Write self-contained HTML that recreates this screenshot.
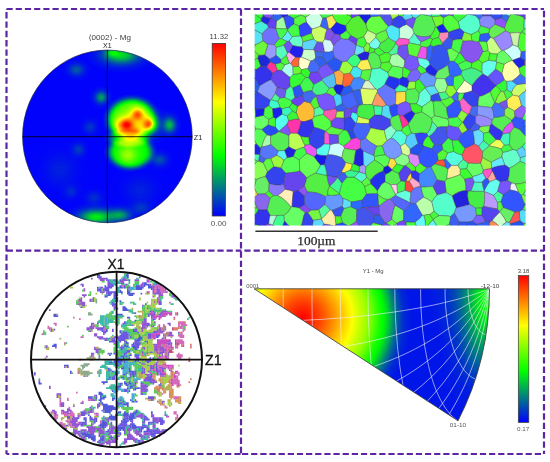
<!DOCTYPE html>
<html><head><meta charset="utf-8"><style>html,body{margin:0;padding:0;background:#fff;}svg{display:block;filter:blur(0.6px);}</style></head>
<body><svg width="550" height="462" viewBox="0 0 550 462">
<defs><filter id="jet" x="0" y="0" width="1" height="1" color-interpolation-filters="sRGB"><feComponentTransfer><feFuncR type="table" tableValues="0 0 0 0 0 0 0 0 0 0 0 0 0 0 0 0 0 0 0 0 0 0 0 0 0 0 0 0 0 0 0 0 0 0 0 0 0.032 0.065 0.097 0.129 0.161 0.194 0.226 0.258 0.29 0.323 0.355 0.387 0.419 0.452 0.484 0.516 0.548 0.581 0.613 0.645 0.677 0.71 0.742 0.774 0.806 0.839 0.871 0.903 0.935 0.968 1 1 1 1 1 1 1 1 1 1 1 1 1 1 1 1 1 1 1 1 1 1 1 1 1 1 1 1 1 1 1 1 1 1 1"/><feFuncG type="table" tableValues="0 0.029 0.057 0.086 0.114 0.143 0.171 0.2 0.229 0.257 0.286 0.314 0.343 0.371 0.4 0.429 0.457 0.486 0.514 0.543 0.571 0.6 0.629 0.657 0.686 0.714 0.743 0.771 0.8 0.829 0.857 0.886 0.914 0.943 0.971 1 1 1 1 1 1 1 1 1 1 1 1 1 1 1 1 1 1 1 1 1 1 1 1 1 1 1 1 1 1 1 1 0.971 0.941 0.912 0.882 0.853 0.824 0.794 0.765 0.735 0.706 0.676 0.647 0.618 0.588 0.559 0.529 0.5 0.471 0.441 0.412 0.382 0.353 0.324 0.294 0.265 0.235 0.206 0.176 0.147 0.118 0.088 0.059 0.029 0"/><feFuncB type="table" tableValues="1 0.971 0.943 0.914 0.886 0.857 0.829 0.8 0.771 0.743 0.714 0.686 0.657 0.629 0.6 0.571 0.543 0.514 0.486 0.457 0.429 0.4 0.371 0.343 0.314 0.286 0.257 0.229 0.2 0.171 0.143 0.114 0.086 0.057 0.029 0 0 0 0 0 0 0 0 0 0 0 0 0 0 0 0 0 0 0 0 0 0 0 0 0 0 0 0 0 0 0 0 0 0 0 0 0 0 0 0 0 0 0 0 0 0 0 0 0 0 0 0 0 0 0 0 0 0 0 0 0 0 0 0 0 0"/></feComponentTransfer></filter>
<radialGradient id="g"><stop offset="0.000" stop-color="#fff" stop-opacity="1.000"/><stop offset="0.083" stop-color="#fff" stop-opacity="0.969"/><stop offset="0.167" stop-color="#fff" stop-opacity="0.882"/><stop offset="0.250" stop-color="#fff" stop-opacity="0.755"/><stop offset="0.333" stop-color="#fff" stop-opacity="0.607"/><stop offset="0.417" stop-color="#fff" stop-opacity="0.458"/><stop offset="0.500" stop-color="#fff" stop-opacity="0.325"/><stop offset="0.583" stop-color="#fff" stop-opacity="0.216"/><stop offset="0.667" stop-color="#fff" stop-opacity="0.135"/><stop offset="0.750" stop-color="#fff" stop-opacity="0.080"/><stop offset="0.833" stop-color="#fff" stop-opacity="0.044"/><stop offset="0.917" stop-color="#fff" stop-opacity="0.023"/><stop offset="1.000" stop-color="#fff" stop-opacity="0.000"/></radialGradient>
<radialGradient id="gp"><stop offset="0.00" stop-color="#fff" stop-opacity="1.000"/><stop offset="0.30" stop-color="#fff" stop-opacity="0.980"/><stop offset="0.50" stop-color="#fff" stop-opacity="0.940"/><stop offset="0.60" stop-color="#fff" stop-opacity="0.880"/><stop offset="0.70" stop-color="#fff" stop-opacity="0.660"/><stop offset="0.77" stop-color="#fff" stop-opacity="0.450"/><stop offset="0.85" stop-color="#fff" stop-opacity="0.200"/><stop offset="0.93" stop-color="#fff" stop-opacity="0.070"/><stop offset="1.00" stop-color="#fff" stop-opacity="0.000"/></radialGradient>
<linearGradient id="cbar" x1="0" y1="0" x2="0" y2="1"><stop offset="0.00" stop-color="#ff0000"/><stop offset="0.34" stop-color="#ffff00"/><stop offset="0.65" stop-color="#00ff00"/><stop offset="1.00" stop-color="#0000ff"/></linearGradient>
<clipPath id="pf1"><ellipse cx="107.4" cy="136.4" rx="84.8" ry="86.3"/></clipPath>
<clipPath id="emap"><rect x="254.7" y="14.6" width="270.9" height="210.9"/></clipPath>
<clipPath id="tri"><path d="M254.2 288.8L489.5 288.8A235.3 264.0 0 0 1 458.0 420.8Z"/></clipPath>
<radialGradient id="ipfg" gradientUnits="userSpaceOnUse" cx="303" cy="318" r="108"><stop offset="0.000" stop-color="rgb(255,255,255)"/><stop offset="0.093" stop-color="rgb(242,242,242)"/><stop offset="0.185" stop-color="rgb(227,227,227)"/><stop offset="0.278" stop-color="rgb(207,207,207)"/><stop offset="0.370" stop-color="rgb(186,186,186)"/><stop offset="0.444" stop-color="rgb(171,171,171)"/><stop offset="0.519" stop-color="rgb(153,153,153)"/><stop offset="0.583" stop-color="rgb(140,140,140)"/><stop offset="0.648" stop-color="rgb(120,120,120)"/><stop offset="0.704" stop-color="rgb(99,99,99)"/><stop offset="0.759" stop-color="rgb(84,84,84)"/><stop offset="0.806" stop-color="rgb(64,64,64)"/><stop offset="0.843" stop-color="rgb(46,46,46)"/><stop offset="0.889" stop-color="rgb(28,28,28)"/><stop offset="0.935" stop-color="rgb(15,15,15)"/><stop offset="1.000" stop-color="rgb(8,8,8)"/></radialGradient></defs>
<rect width="550" height="462" fill="#fff"/>
<g clip-path="url(#pf1)"><g filter="url(#jet)">
<rect x="20" y="48" width="176" height="178" fill="rgb(1,1,1)"/>
<ellipse cx="121" cy="55" rx="36" ry="18" fill="url(#g)" opacity="0.300" style="mix-blend-mode:plus-lighter"/>
<ellipse cx="112" cy="52" rx="12" ry="9" fill="url(#g)" opacity="0.150" style="mix-blend-mode:plus-lighter"/>
<ellipse cx="76.5" cy="69.7" rx="15" ry="12" fill="url(#g)" opacity="0.120" style="mix-blend-mode:plus-lighter"/>
<ellipse cx="101.2" cy="97.4" rx="12" ry="12" fill="url(#g)" opacity="0.210" style="mix-blend-mode:plus-lighter"/>
<ellipse cx="89.9" cy="127.2" rx="12" ry="12" fill="url(#g)" opacity="0.070" style="mix-blend-mode:plus-lighter"/>
<ellipse cx="78.6" cy="149.5" rx="12" ry="12" fill="url(#g)" opacity="0.080" style="mix-blend-mode:plus-lighter"/>
<ellipse cx="71" cy="191.6" rx="12" ry="12" fill="url(#g)" opacity="0.050" style="mix-blend-mode:plus-lighter"/>
<ellipse cx="94" cy="197.8" rx="15" ry="12" fill="url(#g)" opacity="0.060" style="mix-blend-mode:plus-lighter"/>
<ellipse cx="96" cy="217" rx="33" ry="15" fill="url(#g)" opacity="0.330" style="mix-blend-mode:plus-lighter"/>
<ellipse cx="120" cy="215" rx="21" ry="12" fill="url(#g)" opacity="0.200" style="mix-blend-mode:plus-lighter"/>
<ellipse cx="141" cy="208" rx="18" ry="12" fill="url(#g)" opacity="0.070" style="mix-blend-mode:plus-lighter"/>
<ellipse cx="159.4" cy="159.8" rx="15" ry="12" fill="url(#g)" opacity="0.110" style="mix-blend-mode:plus-lighter"/>
<ellipse cx="169.7" cy="125" rx="12" ry="15" fill="url(#g)" opacity="0.250" style="mix-blend-mode:plus-lighter"/>
<ellipse cx="60" cy="170" rx="30" ry="30" fill="url(#g)" opacity="0.040" style="mix-blend-mode:plus-lighter"/>
<ellipse cx="140" cy="190" rx="30" ry="24" fill="url(#g)" opacity="0.040" style="mix-blend-mode:plus-lighter"/>
<ellipse cx="127.6" cy="155" rx="18" ry="18" fill="url(#g)" opacity="0.160" style="mix-blend-mode:plus-lighter"/>
<ellipse cx="126.6" cy="125.1" rx="22.5" ry="21" fill="url(#g)" opacity="0.220" style="mix-blend-mode:plus-lighter"/>
<ellipse cx="126.6" cy="125.1" rx="13.5" ry="12.6" fill="url(#g)" opacity="0.320" style="mix-blend-mode:plus-lighter"/>
<ellipse cx="149.5" cy="124.7" rx="22.5" ry="21" fill="url(#g)" opacity="0.230" style="mix-blend-mode:plus-lighter"/>
<ellipse cx="149.2" cy="124.7" rx="12" ry="12" fill="url(#g)" opacity="0.270" style="mix-blend-mode:plus-lighter"/>
<ellipse cx="137.5" cy="114.4" rx="19.5" ry="19.5" fill="url(#g)" opacity="0.170" style="mix-blend-mode:plus-lighter"/>
<ellipse cx="137.5" cy="114.4" rx="11.4" ry="11.4" fill="url(#g)" opacity="0.230" style="mix-blend-mode:plus-lighter"/>
<ellipse cx="136" cy="130" rx="12" ry="9" fill="url(#g)" opacity="0.160" style="mix-blend-mode:plus-lighter"/>
<ellipse cx="118" cy="127" rx="12" ry="18" fill="url(#g)" opacity="0.120" style="mix-blend-mode:plus-lighter"/>
<ellipse cx="131.5" cy="119" rx="29" ry="25" fill="url(#gp)" opacity="0.460" style="mix-blend-mode:plus-lighter"/>
<ellipse cx="130.5" cy="152" rx="27" ry="20" fill="url(#gp)" opacity="0.380" style="mix-blend-mode:plus-lighter"/>
<ellipse cx="129" cy="138" rx="26" ry="11" fill="url(#gp)" opacity="0.180" style="mix-blend-mode:plus-lighter"/>
</g></g>
<ellipse cx="107.4" cy="136.4" rx="84.8" ry="86.3" fill="none" stroke="#18204a" stroke-width="0.7"/>
<line x1="107.4" y1="50" x2="107.4" y2="222.7" stroke="#000" stroke-opacity="0.65" stroke-width="1.2"/>
<line x1="22.6" y1="136.6" x2="192.3" y2="136.6" stroke="#000" stroke-opacity="0.65" stroke-width="1.2"/>
<rect x="212.2" y="43.4" width="13.2" height="172.6" fill="url(#cbar)" stroke="#3a3a3a" stroke-width="0.8"/>
<g clip-path="url(#emap)">
<g stroke="#3a3a3a" stroke-width="0.38" stroke-linejoin="round">
<path fill="#ccffe6" d="M306.2 22.0 309.0 25.5 311.9 28.9 314.6 28.3 317.2 27.5 320.3 26.2 321.6 22.4 322.8 18.1 320.8 15.5 318.6 12.6 316.5 9.6 312.6 10.6 310.8 13.6 308.2 15.5 305.4 17.0Z"/>
<path fill="#ccff66" d="M313.6 39.0 317.1 41.9 322.7 42.4 324.7 39.3 325.5 34.0 327.0 29.4 323.7 27.8 320.3 26.2 317.2 27.5 314.6 28.3 311.9 28.9 311.3 33.2 312.6 36.0Z"/>
<path fill="#44eedd" d="M252.8 29.2 257.4 31.4 262.1 33.9 265.2 30.4 268.5 27.5 267.4 24.4 264.4 23.1 261.3 21.0 254.8 23.7 253.5 26.1Z"/>
<path fill="#3050ff" d="M286.6 28.9 287.6 29.7 290.5 26.7 294.0 23.9 293.9 18.5 289.3 15.7 288.3 15.5 283.5 17.2 284.3 20.3 285.3 24.0Z"/>
<path fill="#3344ff" d="M299.8 35.9 301.6 36.9 306.6 35.1 311.3 33.2 311.9 28.9 309.0 25.5 306.2 22.0 302.7 23.6 298.7 25.9 299.4 31.5Z"/>
<path fill="#a0ffa0" d="M275.8 28.4 275.8 28.4 279.5 28.7 283.1 28.8 286.6 28.9 285.3 24.0 284.3 20.3 283.5 17.2 282.2 17.1 276.4 21.1Z"/>
<path fill="#66ffcc" d="M289.2 41.0 292.6 45.6 296.0 46.2 299.0 46.8 302.2 47.0 303.0 41.7 301.6 36.9 299.8 35.9 295.6 36.1 292.1 36.5 290.9 38.8Z"/>
<path fill="#7070ff" d="M262.7 40.8 267.6 44.3 271.1 44.6 274.5 44.7 276.8 41.8 279.6 38.7 277.8 34.1 275.8 28.4 275.8 28.4 272.2 27.9 268.5 27.5 265.2 30.4 262.1 33.9Z"/>
<path fill="#2020ee" d="M289.1 52.2 292.4 55.1 295.6 57.5 299.6 57.7 301.1 57.2 302.6 54.0 303.5 49.3 302.2 47.0 299.0 46.8 296.0 46.2 292.6 45.6Z"/>
<path fill="#9999ff" d="M264.7 55.0 269.5 59.0 273.2 57.5 276.1 55.2 276.3 47.2 274.5 44.7 271.1 44.6 267.6 44.3 266.9 47.3 265.9 51.0Z"/>
<path fill="#55ffbb" d="M276.1 55.2 281.1 59.8 286.4 55.5 287.6 52.9 285.7 48.8 283.9 45.0 279.8 46.3 276.3 47.2Z"/>
<path fill="#7777ff" d="M334.3 57.7 338.1 59.6 342.1 61.9 347.1 61.3 349.8 57.5 354.2 54.3 355.4 49.7 356.2 45.0 352.3 42.0 348.2 39.3 341.1 38.4 337.0 41.5 333.6 45.7 332.7 50.7 333.6 54.2Z"/>
<path fill="#ccffcc" d="M301.1 57.2 305.7 58.9 310.7 61.1 314.0 59.9 315.8 57.2 315.2 54.0 314.9 51.1 313.3 49.6 308.2 49.6 303.5 49.3 302.6 54.0Z"/>
<path fill="#ffaaee" d="M289.3 63.2 290.8 63.7 293.0 60.1 295.6 57.5 292.4 55.1 289.1 52.2 287.6 52.9 286.4 55.5 287.8 59.4Z"/>
<path fill="#ff6633" d="M290.8 63.7 292.9 66.7 298.9 66.5 298.9 61.3 299.6 57.7 295.6 57.5 293.0 60.1Z"/>
<path fill="#ffffcc" d="M298.9 66.5 301.4 69.8 304.4 69.0 307.9 68.6 310.7 61.1 305.7 58.9 301.1 57.2 299.6 57.7 298.9 61.3Z"/>
<path fill="#ff3399" d="M266.5 67.1 269.7 70.1 272.9 73.4 277.5 70.0 276.3 66.4 275.4 63.9 270.4 61.9 268.1 64.2Z"/>
<path fill="#aaffee" d="M281.5 70.3 285.9 74.3 290.1 77.6 293.2 74.6 292.9 66.7 290.8 63.7 289.3 63.2 284.8 64.8Z"/>
<path fill="#7755ff" d="M317.6 71.9 319.9 75.3 322.2 79.0 326.8 76.6 330.9 74.6 333.9 72.9 334.1 71.8 331.9 69.5 329.4 66.9 327.0 63.5 324.1 65.0 319.9 67.1Z"/>
<path fill="#3333ee" d="M255.1 78.6 257.3 82.4 259.4 86.0 262.5 84.3 266.2 82.0 270.9 79.7 272.9 73.4 269.7 70.1 266.5 67.1 260.9 66.1 255.9 69.6 255.5 74.0Z"/>
<path fill="#6644ee" d="M270.9 79.7 272.8 82.0 274.8 84.5 277.0 87.7 281.8 88.5 286.2 89.7 290.2 86.6 289.8 81.6 290.1 77.6 285.9 74.3 281.5 70.3 277.5 70.0 272.9 73.4Z"/>
<path fill="#8899ff" d="M270.3 100.3 271.3 99.7 273.0 96.8 275.2 93.8 277.0 87.7 274.8 84.5 272.8 82.0 270.9 79.7 266.2 82.0 262.5 84.3 259.4 86.0 257.4 91.8 260.9 94.2 264.2 96.4 267.3 98.3Z"/>
<path fill="#ffaa44" d="M335.8 84.4 339.2 85.0 342.5 85.1 343.3 79.5 344.0 73.9 339.2 69.9 336.5 70.9 334.1 71.8 333.9 72.9 335.1 78.2Z"/>
<path fill="#3344ee" d="M248.5 103.7 251.7 106.5 255.2 109.2 259.7 108.9 264.3 108.6 269.1 105.6 270.3 100.3 267.3 98.3 264.2 96.4 260.9 94.2 257.4 91.8 255.7 92.2 252.7 95.8 250.1 99.6Z"/>
<path fill="#ffbb33" d="M296.3 112.8 298.8 119.1 301.1 121.4 304.6 121.6 308.2 120.6 312.3 119.0 314.0 116.9 314.4 113.5 314.1 108.6 310.5 103.0 304.2 101.2 301.0 104.3 297.4 106.5 296.7 109.7Z"/>
<path fill="#44ff44" d="M280.1 107.6 281.9 108.9 285.7 107.8 289.4 107.2 292.2 103.2 291.3 100.5 284.9 97.4 279.7 98.0 277.8 101.4Z"/>
<path fill="#7755ff" d="M319.3 106.7 323.9 110.8 329.2 110.0 335.1 108.8 336.1 106.7 334.9 101.6 333.5 96.5 329.9 94.3 326.2 93.2 321.7 94.4 317.0 95.2 316.1 96.5 317.5 101.0Z"/>
<path fill="#55ee33" d="M346.3 30.6 350.6 35.5 357.3 39.0 360.6 37.9 363.7 36.7 365.8 33.4 367.6 30.4 365.8 23.8 362.3 19.3 359.0 15.4 356.0 16.2 351.8 17.9 348.8 21.7 345.7 25.5Z"/>
<path fill="#66ff44" d="M367.6 30.4 371.6 32.2 376.0 34.4 381.1 32.0 385.9 30.2 388.4 26.3 385.7 23.3 382.9 19.5 380.0 15.8 375.9 16.3 371.3 16.5 367.8 19.9 365.8 23.8Z"/>
<path fill="#5555ee" d="M380.0 15.8 382.9 19.5 385.7 23.3 388.4 26.3 391.8 25.1 392.5 19.3 390.3 14.6 388.4 10.4 386.7 7.4 384.1 8.0 382.1 11.8Z"/>
<path fill="#3344ee" d="M391.8 25.1 395.3 26.8 399.2 28.5 403.0 26.0 406.8 24.4 405.6 20.2 402.1 16.5 398.6 15.5 392.5 19.3Z"/>
<path fill="#55ee55" d="M412.4 28.6 414.0 33.0 415.7 35.0 420.4 36.6 425.6 36.8 430.8 35.9 433.9 31.1 435.6 26.5 433.4 20.5 432.0 16.5 431.2 16.0 428.0 15.5 424.7 14.8 421.2 14.1 415.5 18.3 414.6 21.8 413.4 25.0Z"/>
<path fill="#ccff99" d="M366.6 43.0 369.2 43.8 372.4 40.7 376.1 37.4 376.0 34.4 371.6 32.2 367.6 30.4 365.8 33.4 363.7 36.7Z"/>
<path fill="#ccffdd" d="M398.9 38.3 404.1 38.5 409.1 39.6 412.0 36.8 414.0 33.0 412.4 28.6 406.8 24.4 403.0 26.0 399.2 28.5 399.4 33.1Z"/>
<path fill="#77ffee" d="M370.1 47.5 375.0 49.1 378.8 47.7 380.7 43.0 376.1 37.4 372.4 40.7 369.2 43.8Z"/>
<path fill="#44ee44" d="M378.8 47.7 381.6 50.4 384.8 52.7 388.4 52.8 391.4 50.0 393.7 47.0 395.8 43.6 395.8 41.8 392.3 40.2 388.5 37.7 385.0 40.5 380.7 43.0Z"/>
<path fill="#ff55cc" d="M398.3 46.4 402.6 45.2 407.4 44.9 409.5 43.0 409.1 39.6 404.1 38.5 398.9 38.3 395.8 41.8 395.8 43.6Z"/>
<path fill="#55ffcc" d="M409.1 39.6 409.5 43.0 413.3 43.7 416.8 44.5 420.1 45.1 421.2 41.9 418.6 39.4 415.7 35.0 414.0 33.0 412.0 36.8Z"/>
<path fill="#8866ff" d="M421.2 41.9 425.5 40.2 430.3 37.8 430.8 35.9 425.6 36.8 420.4 36.6 415.7 35.0 418.6 39.4Z"/>
<path fill="#ee55ee" d="M417.1 57.1 417.8 57.8 422.0 58.5 426.3 59.3 426.9 53.8 427.0 47.3 421.0 46.2 419.8 49.4 418.4 53.3Z"/>
<path fill="#3366ff" d="M426.3 59.3 429.3 61.8 431.1 57.9 432.1 52.4 433.3 46.4 430.3 45.1 427.0 47.3 426.9 53.8Z"/>
<path fill="#2222dd" d="M360.7 60.4 368.0 59.6 369.4 53.2 368.7 52.2 364.5 51.4 361.1 53.3 357.0 55.0Z"/>
<path fill="#ffee55" d="M356.8 66.9 361.9 70.4 366.7 69.8 371.4 69.3 371.6 69.0 369.9 64.2 368.0 59.6 360.7 60.4 358.5 63.8Z"/>
<path fill="#55ee55" d="M368.0 59.6 369.9 64.2 371.6 69.0 376.2 68.6 380.3 67.9 381.4 63.1 379.0 55.7 374.2 52.1 371.7 52.5 369.4 53.2Z"/>
<path fill="#aaffaa" d="M389.2 61.9 392.1 66.0 397.6 66.7 402.8 67.9 403.9 67.3 404.6 64.5 404.9 60.4 401.1 56.9 397.3 53.5 391.1 55.0Z"/>
<path fill="#7755ff" d="M403.9 67.3 407.3 69.3 410.8 71.0 417.2 68.8 419.5 65.3 418.5 61.7 417.8 57.8 417.1 57.1 412.7 55.7 408.5 54.4 404.9 60.4 404.6 64.5Z"/>
<path fill="#66ffee" d="M419.5 65.3 425.5 69.0 427.5 66.8 430.1 64.4 429.3 61.8 426.3 59.3 422.0 58.5 417.8 57.8 418.5 61.7Z"/>
<path fill="#ff6633" d="M342.5 85.1 344.1 87.0 350.0 85.6 351.8 81.7 354.1 77.9 350.1 73.0 344.0 73.9 343.3 79.5Z"/>
<path fill="#55ffcc" d="M368.6 80.6 370.9 83.3 373.1 86.0 375.5 88.9 377.3 89.8 380.7 87.9 382.9 86.1 384.9 84.2 386.6 80.4 389.0 76.2 387.9 72.2 384.0 70.3 380.3 67.9 376.2 68.6 371.6 69.0 371.4 69.3 370.6 73.5 369.9 77.3Z"/>
<path fill="#55ff55" d="M389.0 76.2 394.3 77.4 399.5 79.1 402.7 76.8 402.7 71.8 402.8 67.9 397.6 66.7 392.1 66.0 390.1 68.9 387.9 72.2Z"/>
<path fill="#2233ee" d="M384.9 84.2 387.8 86.0 391.1 87.9 395.0 89.8 399.4 84.5 399.5 79.1 394.3 77.4 389.0 76.2 386.6 80.4Z"/>
<path fill="#7766ff" d="M407.0 77.9 409.1 81.7 412.3 81.6 415.6 81.5 418.9 79.3 421.1 74.1 417.2 68.8 410.8 71.0 408.7 74.4Z"/>
<path fill="#6699ff" d="M418.9 79.3 421.9 82.8 425.2 87.5 429.7 86.3 434.4 86.0 435.4 81.9 436.4 78.5 434.9 76.1 430.3 74.6 426.3 71.8 424.0 72.8 421.1 74.1Z"/>
<path fill="#4488ff" d="M350.0 85.6 351.5 87.9 353.0 91.0 356.7 90.1 360.2 89.8 361.8 88.2 363.4 84.0 365.5 80.7 360.0 77.3 354.1 77.9 351.8 81.7Z"/>
<path fill="#6677ff" d="M386.2 105.1 389.5 106.4 395.3 104.2 395.8 100.5 395.8 96.3 396.1 91.8 395.0 89.8 391.1 87.9 387.8 86.0 384.9 84.2 382.9 86.1 380.7 87.9 377.3 89.8 377.2 92.5 379.8 95.9 382.3 99.0 384.4 102.0Z"/>
<path fill="#ffdd44" d="M395.3 104.2 397.5 105.0 401.6 103.0 405.8 101.6 405.9 98.7 405.9 95.3 405.8 91.4 400.9 91.6 396.1 91.8 395.8 96.3 395.8 100.5Z"/>
<path fill="#55ee55" d="M405.8 101.6 410.2 103.9 416.6 103.8 418.6 99.6 419.4 93.0 415.2 88.4 411.7 88.9 407.6 89.1 405.8 91.4 405.9 95.3 405.9 98.7Z"/>
<path fill="#66ffdd" d="M416.6 103.8 419.2 105.5 422.0 106.9 426.7 103.7 430.7 100.6 431.0 95.7 428.3 92.2 425.1 87.8 422.2 90.3 419.4 93.0 418.6 99.6Z"/>
<path fill="#ddff66" d="M362.6 104.3 367.2 104.7 372.0 104.5 373.4 100.9 375.1 96.7 377.2 92.5 377.3 89.8 375.5 88.9 370.7 88.9 366.0 88.6 361.8 88.2 360.2 89.8 361.0 95.0 361.9 100.2Z"/>
<path fill="#ff9966" d="M372.0 104.5 373.7 105.8 378.1 106.0 382.3 106.8 386.2 105.1 384.4 102.0 382.3 99.0 379.8 95.9 377.2 92.5 375.1 96.7 373.4 100.9Z"/>
<path fill="#4466ff" d="M346.8 108.2 350.3 108.6 353.8 106.9 358.5 105.3 356.7 101.5 354.7 96.4 352.8 91.4 348.8 93.3 344.7 95.0 341.1 96.0 342.1 102.9 344.5 106.1Z"/>
<path fill="#7755ff" d="M397.8 114.7 399.4 115.4 403.2 115.6 407.7 112.9 411.7 110.8 410.7 107.0 410.2 103.9 405.8 101.6 401.6 103.0 397.5 105.0 397.4 109.6Z"/>
<path fill="#44ee44" d="M356.7 113.4 358.0 116.4 361.7 117.8 365.5 118.7 369.4 119.6 374.7 115.1 374.3 110.1 373.7 105.8 372.0 104.5 367.2 104.7 362.6 104.3 358.8 105.4 357.4 108.8Z"/>
<path fill="#66ff66" d="M421.6 111.8 425.0 113.9 428.4 116.1 431.7 118.3 434.4 116.0 434.1 111.1 433.6 105.8 433.0 101.3 430.7 100.6 426.7 103.7 422.0 106.9Z"/>
<path fill="#55ffcc" d="M459.7 28.3 464.2 32.1 467.6 33.4 471.0 34.6 474.5 33.0 478.5 30.7 480.5 25.8 479.2 19.6 475.5 15.6 471.8 14.7 467.5 14.2 464.1 17.2 460.9 19.7 458.3 21.8Z"/>
<path fill="#8888ff" d="M480.5 25.8 483.6 26.8 486.7 27.8 489.8 28.9 495.1 24.2 495.2 19.9 490.4 15.7 482.5 15.7 479.2 19.6Z"/>
<path fill="#55ee44" d="M504.4 28.0 505.5 30.8 510.0 33.1 513.2 32.8 516.6 32.6 520.3 32.8 522.1 32.0 524.3 28.7 524.0 26.5 524.1 23.4 524.4 18.8 522.8 16.6 517.4 14.9 512.2 13.9 509.0 16.3 507.9 19.5 506.2 22.4Z"/>
<path fill="#ff88bb" d="M438.4 37.3 440.3 39.9 442.3 43.4 445.3 40.3 448.4 37.0 448.6 32.1 448.2 31.9 443.4 32.4 439.8 32.6Z"/>
<path fill="#3344ee" d="M448.4 37.0 452.9 40.2 457.3 39.3 461.8 39.2 463.2 35.1 464.2 32.1 459.7 28.3 456.5 29.3 452.6 30.6 448.6 32.1Z"/>
<path fill="#66ee55" d="M488.6 33.2 490.5 37.4 493.3 38.4 497.7 35.9 501.8 33.2 505.5 30.8 504.4 28.0 499.9 26.2 495.1 24.2 489.8 28.9Z"/>
<path fill="#9988ff" d="M501.5 50.8 503.7 50.6 509.0 48.0 512.9 44.9 511.5 38.5 510.0 33.1 505.5 30.8 501.8 33.2 497.7 35.9 493.3 38.4 496.2 42.9 499.0 47.3Z"/>
<path fill="#3355ee" d="M429.3 61.8 430.1 64.4 433.8 67.7 437.6 70.9 443.4 67.9 447.6 65.1 449.7 61.3 449.1 58.0 448.5 55.5 447.9 52.8 447.2 49.2 442.2 44.4 437.8 45.1 433.3 46.4 432.1 52.4 431.1 57.9Z"/>
<path fill="#8855ee" d="M460.0 52.7 462.9 56.6 465.6 60.5 471.7 63.2 475.0 61.6 478.7 59.8 480.9 55.7 483.2 51.6 481.4 46.6 478.9 41.8 475.3 41.4 471.8 40.4 467.5 40.7 462.9 40.9 461.2 46.9Z"/>
<path fill="#ccff88" d="M488.0 50.5 490.0 53.1 493.5 53.8 497.4 54.0 501.5 50.8 499.0 47.3 496.2 42.9 493.3 38.4 490.5 37.4 486.6 42.0 487.5 46.2Z"/>
<path fill="#ccffff" d="M512.2 60.3 512.5 60.4 516.7 58.8 520.5 57.4 521.2 51.8 517.9 46.5 512.9 44.9 509.0 48.0 503.7 50.6 505.9 52.7 507.9 54.7 510.0 57.2Z"/>
<path fill="#66ff55" d="M449.7 61.3 454.2 61.3 456.9 57.3 459.1 53.0 455.2 50.7 451.4 48.3 447.2 49.2 447.9 52.8 448.5 55.5 449.1 58.0Z"/>
<path fill="#66ff66" d="M496.0 61.0 496.7 62.2 500.2 63.1 504.1 64.4 508.1 62.0 512.2 60.3 510.0 57.2 507.9 54.7 505.9 52.7 503.7 50.6 501.5 50.8 497.4 54.0 496.7 57.5Z"/>
<path fill="#3366ff" d="M449.7 75.3 453.6 77.1 457.3 76.0 461.2 74.6 462.1 70.7 459.8 68.0 457.9 64.2 454.2 61.3 449.7 61.3 447.6 65.1 448.5 69.1 449.1 72.4Z"/>
<path fill="#66ffee" d="M481.9 72.3 482.9 74.0 487.8 76.8 490.4 74.3 492.9 71.7 495.7 69.1 496.2 65.6 496.7 62.2 496.0 61.0 492.4 60.8 488.6 60.2 482.3 62.9 481.8 66.3 481.8 69.3Z"/>
<path fill="#ffffaa" d="M501.8 73.3 504.4 80.1 506.6 81.4 512.2 81.0 516.7 77.6 520.3 74.1 519.0 67.9 515.6 64.3 512.5 60.4 512.2 60.3 508.1 62.0 504.1 64.4 502.9 68.8Z"/>
<path fill="#6655ff" d="M496.2 85.3 499.5 83.5 501.9 81.8 504.4 80.1 501.8 73.3 498.7 71.0 495.7 69.1 492.9 71.7 490.4 74.3 487.8 76.8 490.9 80.4 493.7 83.3Z"/>
<path fill="#66ee66" d="M436.4 78.5 440.8 78.6 445.2 78.8 449.7 75.3 449.1 72.4 448.5 69.1 447.6 65.1 443.4 67.9 437.6 70.9 434.9 76.1Z"/>
<path fill="#44ee88" d="M461.2 74.6 464.3 80.3 468.1 83.0 471.9 85.7 474.6 82.2 477.3 78.9 480.2 76.2 482.9 74.0 481.9 72.3 478.4 70.2 474.9 68.6 471.2 67.6 466.7 69.0 462.1 70.7Z"/>
<path fill="#99ff99" d="M434.4 86.0 438.6 92.9 445.6 91.9 447.6 85.6 445.2 78.8 440.8 78.6 436.4 78.5 435.4 81.9Z"/>
<path fill="#4433ee" d="M472.0 91.0 475.5 93.4 479.1 96.6 483.1 95.4 486.6 93.7 490.4 91.7 493.2 88.6 496.0 86.0 496.2 85.3 493.7 83.3 490.9 80.4 487.8 76.8 482.9 74.0 480.2 76.2 477.3 78.9 474.6 82.2 471.9 85.7Z"/>
<path fill="#ffffcc" d="M456.5 90.8 456.5 91.5 458.8 93.3 464.1 93.2 468.0 92.2 472.0 91.0 471.9 85.7 468.1 83.0 464.3 80.3 461.7 84.2 458.9 87.7Z"/>
<path fill="#55ddff" d="M506.7 89.8 511.5 92.6 513.6 88.2 517.0 84.5 512.2 81.0 506.6 81.4 506.8 85.8Z"/>
<path fill="#ccff66" d="M511.5 92.6 512.5 95.1 519.0 96.4 521.9 93.4 525.3 91.2 527.1 86.1 525.5 83.4 517.0 84.5 513.6 88.2Z"/>
<path fill="#3344ee" d="M462.7 98.0 465.4 100.8 468.5 103.9 472.0 106.7 477.8 106.1 478.0 106.0 478.3 101.4 479.1 96.6 475.5 93.4 472.0 91.0 468.0 92.2 464.1 93.2Z"/>
<path fill="#66ff66" d="M478.0 106.0 483.1 106.6 487.7 107.1 491.9 107.6 494.8 102.5 492.2 96.7 490.4 91.7 486.6 93.7 483.1 95.4 479.1 96.6 478.3 101.4Z"/>
<path fill="#ffee55" d="M507.6 107.4 511.1 109.0 514.5 111.0 517.9 108.5 521.5 105.6 520.4 100.9 519.0 96.4 512.5 95.1 507.1 99.4 506.8 100.0 507.1 103.9Z"/>
<path fill="#ff66cc" d="M461.3 110.2 464.6 112.3 467.9 114.3 469.4 114.0 470.6 110.3 472.0 106.7 468.5 103.9 465.4 100.8 462.7 98.0 459.5 101.3Z"/>
<path fill="#55ee55" d="M434.4 116.0 439.0 116.7 443.4 118.0 447.9 119.0 448.7 118.0 447.3 113.4 446.5 107.4 443.4 103.9 440.7 100.9 436.5 100.8 433.0 101.3 433.6 105.8 434.1 111.1Z"/>
<path fill="#3355ff" d="M448.7 118.0 453.0 117.8 457.4 116.9 461.3 110.2 459.5 101.3 458.4 100.4 454.2 101.3 450.5 104.6 446.5 107.4 447.3 113.4Z"/>
<path fill="#8899ff" d="M477.3 114.9 481.3 115.6 485.3 116.7 488.9 118.3 492.3 120.2 494.2 117.3 493.3 111.8 491.9 107.6 487.7 107.1 483.1 106.6 478.0 106.0 477.8 106.1 477.4 109.0 477.4 111.7Z"/>
<path fill="#66ff66" d="M255.6 129.0 262.0 129.4 268.3 124.8 268.7 119.4 263.5 115.3 255.7 117.0 251.7 119.8 252.8 122.2 254.1 125.3Z"/>
<path fill="#55ffee" d="M275.4 127.0 278.9 131.4 278.9 131.4 282.4 128.3 286.9 124.4 288.7 120.6 287.2 115.9 282.2 114.0 278.6 116.6 275.6 118.8 275.4 123.0Z"/>
<path fill="#ff33aa" d="M290.6 133.2 297.4 133.4 299.0 129.3 300.4 125.1 301.1 121.4 298.8 119.1 294.3 119.2 288.7 120.6 286.9 124.4 288.7 128.7Z"/>
<path fill="#3333ee" d="M297.4 133.4 300.9 136.4 304.9 137.0 308.8 137.3 311.9 132.9 314.2 127.5 313.1 122.7 312.3 119.0 308.2 120.6 304.6 121.6 301.1 121.4 300.4 125.1 299.0 129.3Z"/>
<path fill="#55ff44" d="M314.2 127.5 317.9 128.3 321.4 129.6 325.2 131.1 325.8 131.0 328.4 128.9 331.2 126.6 331.0 121.3 327.0 117.5 323.3 114.4 318.8 115.1 314.0 116.9 312.3 119.0 313.1 122.7Z"/>
<path fill="#3344ee" d="M309.6 144.3 313.2 146.9 316.6 149.2 320.7 147.1 324.2 144.1 324.4 139.0 324.5 134.5 325.2 131.1 321.4 129.6 317.9 128.3 314.2 127.5 311.9 132.9 308.8 137.3 309.1 140.8Z"/>
<path fill="#55ff55" d="M253.6 138.8 256.4 144.0 260.4 148.0 261.7 147.1 263.2 142.3 264.8 138.1 267.1 134.8 264.5 132.3 262.0 129.4 255.6 129.0 254.0 131.6 254.0 135.6Z"/>
<path fill="#aaffaa" d="M261.7 147.1 266.1 146.2 270.8 144.6 270.5 139.4 270.8 135.6 267.1 134.8 264.8 138.1 263.2 142.3Z"/>
<path fill="#55ee55" d="M270.8 144.6 274.6 148.0 278.2 150.9 284.4 150.4 288.9 146.7 289.0 141.1 288.8 135.5 285.5 133.8 282.2 132.6 278.9 131.4 278.9 131.4 275.4 133.7 270.8 135.6 270.5 139.4Z"/>
<path fill="#bbff55" d="M288.9 146.7 292.3 148.8 295.8 150.1 300.1 148.4 304.0 147.4 305.0 145.1 302.7 140.9 300.9 136.4 297.4 133.4 290.6 133.2 288.8 135.5 289.0 141.1Z"/>
<path fill="#ff55dd" d="M324.2 144.1 329.8 144.2 329.4 138.9 329.2 134.3 325.8 131.0 325.2 131.1 324.5 134.5 324.4 139.0Z"/>
<path fill="#5577ff" d="M259.7 154.8 259.7 154.9 262.8 157.5 265.9 159.1 270.8 158.6 276.9 155.3 278.2 150.9 274.6 148.0 270.8 144.6 266.1 146.2 261.7 147.1 260.4 148.0Z"/>
<path fill="#ee55ff" d="M306.7 153.5 310.6 155.0 314.2 156.8 316.7 154.2 316.6 149.2 313.2 146.9 309.6 144.3 305.0 145.1 304.0 147.4 305.5 150.3Z"/>
<path fill="#55ffee" d="M316.7 154.2 319.9 155.2 323.3 155.6 326.8 155.8 327.9 154.8 328.8 151.6 329.7 148.5 330.2 144.7 329.8 144.2 324.2 144.1 320.7 147.1 316.6 149.2Z"/>
<path fill="#ccffff" d="M327.9 154.8 332.4 154.9 337.0 156.0 342.0 157.7 342.5 154.0 343.3 150.9 344.7 148.3 343.6 145.9 338.5 143.1 333.9 143.6 330.2 144.7 329.7 148.5 328.8 151.6Z"/>
<path fill="#88ff55" d="M256.1 179.6 260.7 177.8 265.4 176.5 267.5 171.7 265.5 167.2 263.4 162.8 258.3 160.9 257.4 161.1 254.6 164.0 251.4 167.7 248.8 171.9 248.8 173.7 252.4 177.4Z"/>
<path fill="#55ff55" d="M281.0 167.7 283.6 171.0 286.1 173.3 291.1 172.6 295.7 172.1 299.9 170.9 299.5 165.8 299.4 159.8 296.2 158.0 293.2 156.3 289.9 157.2 287.0 157.5 283.9 160.1 282.5 163.9Z"/>
<path fill="#66ff55" d="M299.9 170.9 303.4 174.1 306.8 177.9 311.3 175.2 315.9 173.1 318.6 169.1 320.6 164.9 317.3 160.9 314.2 156.8 310.6 155.0 306.7 153.5 303.0 156.1 299.4 159.8 299.5 165.8Z"/>
<path fill="#4455ee" d="M326.8 175.3 327.0 175.6 330.8 176.4 334.3 176.9 337.5 177.0 341.5 172.6 342.8 169.5 344.5 166.5 345.8 162.6 342.0 157.7 337.0 156.0 332.4 154.9 327.9 154.8 326.8 155.8 325.5 160.2 324.5 164.8 326.1 170.1Z"/>
<path fill="#3344ee" d="M265.4 176.5 267.2 179.4 269.1 183.5 273.5 184.7 278.3 185.2 283.5 184.6 284.2 180.0 285.0 176.2 286.1 173.3 283.6 171.0 281.0 167.7 273.7 166.5 270.3 169.2 267.5 171.7Z"/>
<path fill="#6644ee" d="M283.5 184.6 285.1 189.4 289.3 190.3 293.3 191.4 298.3 190.7 300.8 188.4 304.4 185.9 305.7 182.2 306.8 177.9 303.4 174.1 299.9 170.9 295.7 172.1 291.1 172.6 286.1 173.3 285.0 176.2 284.2 180.0Z"/>
<path fill="#55ee44" d="M304.4 185.9 305.7 188.8 307.4 192.0 312.0 192.2 316.7 192.9 321.3 194.5 325.5 196.8 327.6 194.8 328.0 190.2 329.6 186.2 329.6 186.1 328.5 182.8 327.7 179.3 327.0 175.6 326.8 175.3 323.1 174.7 319.5 173.9 315.9 173.1 311.3 175.2 306.8 177.9 305.7 182.2Z"/>
<path fill="#66ee66" d="M254.0 187.6 255.7 191.1 257.4 194.3 261.5 194.0 265.4 193.8 268.8 190.9 269.1 183.5 267.2 179.4 265.4 176.5 260.7 177.8 256.1 179.6 255.1 183.5Z"/>
<path fill="#8877ff" d="M268.8 190.9 271.1 193.6 273.4 195.6 277.6 195.6 280.9 193.2 285.1 189.4 283.5 184.6 278.3 185.2 273.5 184.7 269.1 183.5Z"/>
<path fill="#ffeebb" d="M291.1 207.1 292.0 206.7 292.4 200.8 292.9 195.4 293.3 191.4 289.3 190.3 285.1 189.4 280.9 193.2 277.6 195.6 280.8 197.2 284.3 199.7 287.8 203.3Z"/>
<path fill="#3333ee" d="M292.0 206.7 299.4 207.9 304.8 204.7 304.5 196.0 301.3 193.1 298.3 190.7 293.3 191.4 292.9 195.4 292.4 200.8Z"/>
<path fill="#8866ee" d="M256.8 207.7 258.3 209.7 262.8 210.1 267.2 209.9 268.9 203.1 270.2 198.0 267.8 195.9 265.4 193.8 261.5 194.0 257.4 194.3 252.8 199.0 254.7 202.7Z"/>
<path fill="#55ee55" d="M267.2 209.9 270.1 215.5 273.5 215.6 276.8 215.7 280.1 215.3 283.6 215.5 286.6 213.5 289.0 210.9 291.1 207.1 287.8 203.3 284.3 199.7 280.8 197.2 277.6 195.6 273.4 195.6 270.2 198.0 268.9 203.1Z"/>
<path fill="#5566ff" d="M304.8 204.7 308.1 208.3 310.9 210.3 314.8 210.2 318.7 209.7 321.9 207.1 325.1 204.5 325.5 200.9 325.5 196.8 321.3 194.5 316.7 192.9 312.0 192.2 307.4 192.0 304.5 196.0Z"/>
<path fill="#6699ff" d="M325.1 204.5 327.7 207.3 330.1 210.1 332.0 210.5 337.1 208.4 342.2 206.3 343.1 202.4 343.0 198.3 339.5 194.1 335.3 195.1 331.3 195.4 327.6 194.8 325.5 196.8 325.5 200.9Z"/>
<path fill="#3333ee" d="M251.7 221.2 255.3 224.4 262.6 226.7 268.7 223.7 269.3 219.8 270.1 215.5 267.2 209.9 262.8 210.1 258.3 209.7 256.2 213.3 253.0 216.0 252.2 218.7Z"/>
<path fill="#66ff66" d="M283.6 215.5 284.6 221.1 287.5 224.4 290.8 227.3 294.4 229.5 301.7 225.1 302.8 220.3 303.8 215.8 305.3 212.6 303.5 211.1 301.6 209.9 299.4 207.9 292.0 206.7 291.1 207.1 289.0 210.9 286.6 213.5Z"/>
<path fill="#3344ee" d="M301.7 225.1 305.1 227.1 308.4 229.0 312.4 226.1 313.4 220.4 310.4 215.9 307.7 212.4 305.3 212.6 303.8 215.8 302.8 220.3Z"/>
<path fill="#ffeeaa" d="M323.9 224.1 329.5 224.9 334.5 226.3 336.1 224.2 335.5 220.6 335.2 216.3 332.0 210.5 330.1 210.1 327.3 212.8 324.7 215.9 321.4 218.8 321.3 219.1Z"/>
<path fill="#3344ee" d="M343.6 129.7 347.6 131.1 350.3 130.7 352.8 130.3 354.2 126.9 355.9 123.2 353.2 120.1 350.7 116.6 347.6 117.3 344.2 118.3 343.7 124.8Z"/>
<path fill="#ddff55" d="M356.2 123.0 360.5 123.5 364.9 123.5 369.2 123.8 369.4 119.6 365.5 118.7 361.7 117.8 358.0 116.4Z"/>
<path fill="#4444ee" d="M369.2 123.8 370.6 127.9 374.9 128.8 379.3 129.8 384.3 130.3 391.0 125.5 390.3 119.3 386.0 117.3 381.5 115.0 374.7 115.1 369.4 119.6Z"/>
<path fill="#55ee55" d="M391.0 125.5 393.7 128.1 396.2 130.8 401.7 131.0 402.6 128.2 401.5 123.6 400.4 119.3 399.4 115.4 397.8 114.7 394.6 115.9 392.0 116.8 390.3 119.3Z"/>
<path fill="#ff3399" d="M402.6 128.2 405.1 126.6 408.5 124.7 408.8 123.0 406.0 119.1 403.2 115.6 399.4 115.4 400.4 119.3 401.5 123.6Z"/>
<path fill="#55ee55" d="M408.5 124.7 409.9 129.4 411.2 133.2 415.2 133.7 419.1 133.1 423.1 133.1 427.0 133.5 429.6 130.2 431.2 125.9 432.3 121.5 431.7 118.3 428.4 116.1 425.0 113.9 421.6 111.8 418.2 112.8 414.9 113.5 412.4 118.0 408.8 123.0Z"/>
<path fill="#4466ff" d="M356.1 137.5 360.8 140.5 365.6 137.9 368.5 133.0 370.6 127.9 369.2 123.8 364.9 123.5 360.5 123.5 356.2 123.0 355.9 123.2 354.2 126.9 352.8 130.3 354.4 133.6Z"/>
<path fill="#aaff44" d="M377.0 146.2 382.1 145.8 387.2 140.5 386.2 138.1 385.3 134.7 384.3 130.3 379.3 129.8 374.9 128.8 370.6 127.9 368.5 133.0 365.6 137.9 368.4 140.6 371.1 142.7 373.9 144.4Z"/>
<path fill="#88ffcc" d="M387.2 140.5 391.2 138.1 393.7 134.6 396.2 130.8 393.7 128.1 391.0 125.5 384.3 130.3 385.3 134.7 386.2 138.1Z"/>
<path fill="#55ffdd" d="M391.2 138.1 394.3 139.4 397.3 142.1 400.5 146.0 405.2 143.3 406.2 139.1 407.1 135.9 404.4 133.9 401.7 131.0 396.2 130.8 393.7 134.6Z"/>
<path fill="#55ccff" d="M405.2 143.3 410.1 149.2 414.2 146.4 418.2 143.5 416.7 139.3 415.8 136.2 415.2 133.7 411.2 133.2 407.1 135.9 406.2 139.1Z"/>
<path fill="#3344ff" d="M418.2 143.5 422.8 144.7 423.8 141.3 425.5 138.5 428.2 136.1 427.0 133.5 423.1 133.1 419.1 133.1 415.2 133.7 415.8 136.2 416.7 139.3Z"/>
<path fill="#ff44dd" d="M343.6 145.9 344.7 148.3 348.7 149.2 352.5 149.7 356.1 150.2 360.5 148.0 360.4 145.7 360.5 143.5 360.8 140.5 356.1 137.5 353.7 138.4 351.0 139.0 348.0 142.7Z"/>
<path fill="#6677ff" d="M360.5 148.0 363.2 151.0 366.5 152.5 370.1 154.1 374.0 155.7 374.9 150.2 377.0 146.2 373.9 144.4 371.1 142.7 368.4 140.6 365.6 137.9 360.8 140.5 360.5 143.5 360.4 145.7Z"/>
<path fill="#7799ff" d="M385.0 154.7 390.0 158.5 394.4 159.0 398.9 156.5 402.2 153.6 400.5 146.0 397.3 142.1 394.3 139.4 391.2 138.1 387.2 140.5 382.1 145.8 383.3 149.8Z"/>
<path fill="#ddff99" d="M402.2 153.6 408.2 156.1 410.4 153.3 410.1 149.2 405.2 143.3 400.5 146.0Z"/>
<path fill="#66ee55" d="M342.0 157.7 345.8 162.6 352.3 164.3 353.7 163.9 354.6 159.3 355.2 154.3 356.1 150.2 352.5 149.7 348.7 149.2 344.7 148.3 343.3 150.9 342.5 154.0Z"/>
<path fill="#2222dd" d="M353.7 163.9 359.2 166.4 363.7 165.1 363.5 158.4 363.2 151.0 360.5 148.0 356.1 150.2 355.2 154.3 354.6 159.3Z"/>
<path fill="#66ddff" d="M363.7 165.1 365.9 167.0 368.3 164.9 371.4 162.5 374.5 159.9 374.5 156.4 374.0 155.7 370.1 154.1 366.5 152.5 363.2 151.0 363.5 158.4Z"/>
<path fill="#55ff55" d="M384.1 167.2 388.0 165.7 389.0 162.0 390.0 158.5 385.0 154.7 381.2 155.2 377.8 155.7 374.5 156.4 374.5 159.9 378.1 162.3 381.3 164.2Z"/>
<path fill="#ffdd44" d="M388.0 165.7 392.1 169.8 396.7 163.9 395.6 161.4 394.4 159.0 390.0 158.5 389.0 162.0Z"/>
<path fill="#88ff88" d="M396.7 163.9 400.3 165.0 403.9 166.1 405.8 165.5 409.4 162.3 409.3 159.3 408.2 156.1 402.2 153.6 398.9 156.5 394.4 159.0 395.6 161.4Z"/>
<path fill="#dd88ff" d="M409.4 162.3 412.5 164.5 415.4 167.4 417.5 165.6 420.0 163.1 419.2 159.0 418.3 155.2 414.2 154.3 410.4 153.3 408.2 156.1 409.3 159.3Z"/>
<path fill="#3355ff" d="M420.0 163.1 423.2 165.8 426.7 167.8 431.0 166.9 435.2 163.8 438.1 160.3 437.9 156.8 437.3 153.5 432.1 148.6 427.7 147.3 423.4 145.8 421.4 150.7 418.3 155.2 419.2 159.0Z"/>
<path fill="#aa99ff" d="M359.0 171.9 365.5 173.9 365.7 170.4 365.9 167.0 363.7 165.1 359.2 166.4 359.4 169.3Z"/>
<path fill="#ffee44" d="M341.5 172.6 344.4 172.7 350.1 170.3 351.6 167.8 352.3 164.3 345.8 162.6 344.5 166.5 342.8 169.5Z"/>
<path fill="#55ee44" d="M365.5 173.9 366.7 177.3 370.0 180.5 372.2 178.2 374.8 175.4 378.6 172.9 383.1 171.2 384.1 167.2 381.3 164.2 378.1 162.3 374.5 159.9 371.4 162.5 368.3 164.9 365.9 167.0 365.7 170.4Z"/>
<path fill="#2233ee" d="M370.6 183.7 373.9 186.8 377.3 191.0 379.2 188.2 380.8 185.6 382.7 183.5 385.2 181.9 385.0 178.5 385.4 174.3 383.1 171.2 378.6 172.9 374.8 175.4 372.2 178.2 370.0 180.5Z"/>
<path fill="#55ee55" d="M385.2 181.9 390.4 184.6 397.2 184.4 401.0 181.1 399.8 177.3 398.7 173.1 395.3 171.9 392.1 170.1 389.0 172.4 385.4 174.3 385.0 178.5Z"/>
<path fill="#5544ee" d="M401.0 181.1 405.3 181.7 406.1 181.3 408.5 176.2 411.0 172.7 411.7 170.9 408.8 168.1 405.8 165.5 403.9 166.1 398.7 173.1 399.8 177.3Z"/>
<path fill="#ffdd33" d="M406.1 181.3 409.4 181.2 411.9 177.6 411.0 172.7 408.5 176.2Z"/>
<path fill="#3333ee" d="M411.9 177.6 415.5 180.0 419.3 182.7 419.3 177.3 419.6 173.6 415.5 170.5 411.7 170.9 411.0 172.7Z"/>
<path fill="#4488ff" d="M419.3 182.7 420.4 186.3 421.2 187.0 424.7 187.0 428.8 186.8 433.1 186.5 437.1 179.9 435.4 175.7 433.7 172.3 432.3 169.6 431.0 166.9 426.7 167.8 423.0 171.3 419.6 173.6 419.3 177.3Z"/>
<path fill="#44ff44" d="M339.4 193.5 339.5 194.1 343.0 198.3 347.1 199.9 351.0 202.0 356.1 201.3 362.2 200.1 366.6 193.9 365.5 190.0 364.7 186.5 361.6 182.0 357.9 179.6 354.2 177.1 347.2 177.1 344.4 179.9 342.0 183.0 340.5 188.2Z"/>
<path fill="#ffccee" d="M395.6 194.8 397.5 192.9 397.3 188.7 397.2 184.4 390.4 184.6 393.0 189.8Z"/>
<path fill="#ff4444" d="M404.9 190.3 410.9 192.5 413.7 188.5 409.4 181.2 406.1 181.3 405.3 181.7Z"/>
<path fill="#ffaacc" d="M413.7 188.5 417.0 187.2 420.4 186.3 419.3 182.7 415.5 180.0 411.9 177.6 409.4 181.2Z"/>
<path fill="#66ff66" d="M377.3 193.4 377.8 194.5 381.0 197.1 384.2 198.9 387.7 199.6 390.4 198.9 393.1 197.0 395.4 195.2 395.6 194.8 393.0 189.8 390.4 184.6 385.2 181.9 382.7 183.5 380.8 185.6 379.2 188.2 377.3 191.0Z"/>
<path fill="#66ffdd" d="M395.4 195.2 398.3 197.0 401.2 198.4 404.1 199.8 407.2 201.3 410.5 203.1 410.1 199.2 410.6 196.6 410.9 192.5 404.9 190.3 397.5 192.9 395.6 194.8Z"/>
<path fill="#6677ff" d="M410.5 203.1 410.6 203.3 415.8 203.6 418.7 200.8 421.5 198.7 423.8 197.2 422.9 194.4 422.1 191.7 421.2 187.0 420.4 186.3 417.0 187.2 413.7 188.5 410.9 192.5 410.6 196.6 410.1 199.2Z"/>
<path fill="#66ff66" d="M423.8 197.2 427.6 199.2 431.9 201.9 434.1 198.2 437.2 194.9 435.9 192.3 434.7 189.9 433.1 186.5 428.8 186.8 424.7 187.0 421.2 187.0 422.1 191.7 422.9 194.4Z"/>
<path fill="#3355ff" d="M361.4 207.4 363.4 207.7 368.6 207.0 373.3 206.8 376.7 206.7 379.1 206.1 378.5 202.8 378.3 199.1 377.8 194.5 377.3 193.4 374.1 193.5 370.7 193.6 366.6 193.9 362.2 200.1 361.9 203.9Z"/>
<path fill="#6644ee" d="M374.5 215.2 379.6 214.7 379.5 210.2 379.1 206.1 379.1 206.1 376.7 206.7 373.3 206.8 368.6 207.0 363.4 207.7 367.1 209.6 370.8 212.2Z"/>
<path fill="#8866ee" d="M379.6 214.7 382.4 219.1 385.0 222.7 386.3 222.8 389.2 221.4 391.8 219.4 392.4 215.0 393.5 210.1 395.2 205.4 392.6 201.2 390.4 198.9 387.7 199.6 384.1 201.9 381.2 204.2 379.1 206.1 379.5 210.2Z"/>
<path fill="#5566ff" d="M395.2 205.4 399.4 207.9 403.7 210.8 407.3 207.3 410.6 203.3 410.5 203.1 407.2 201.3 404.1 199.8 401.2 198.4 398.3 197.0 395.4 195.2 393.1 197.0 390.4 198.9 392.6 201.2Z"/>
<path fill="#bbffaa" d="M422.4 215.3 423.8 215.5 426.9 214.6 429.9 214.5 432.0 212.9 434.1 211.1 433.1 207.0 431.9 201.9 427.6 199.2 423.8 197.2 421.5 198.7 418.7 200.8 415.8 203.6 418.1 208.1 420.4 212.1Z"/>
<path fill="#55ee55" d="M342.4 222.6 345.5 224.5 348.6 226.3 352.5 224.0 356.3 221.6 356.6 217.4 356.6 213.3 356.9 209.5 353.6 208.1 350.8 206.5 347.6 207.5 343.8 208.5 340.6 216.2Z"/>
<path fill="#4455ee" d="M356.3 221.6 360.3 227.3 364.3 227.7 368.6 228.0 373.3 222.6 374.5 215.2 370.8 212.2 367.1 209.6 363.4 207.7 361.4 207.4 356.9 209.5 356.6 213.3 356.6 217.4Z"/>
<path fill="#66ff66" d="M391.8 219.4 394.3 221.5 396.7 223.4 399.6 221.8 403.3 220.6 403.7 216.5 403.7 210.8 399.4 207.9 395.2 205.4 393.5 210.1 392.4 215.0Z"/>
<path fill="#3366ff" d="M403.3 220.6 405.9 222.1 410.3 222.3 415.0 222.2 419.3 218.9 422.4 215.3 420.4 212.1 418.1 208.1 415.8 203.6 410.6 203.3 407.3 207.3 403.7 210.8 403.7 216.5Z"/>
<path fill="#66ff66" d="M437.1 127.4 441.8 126.7 446.8 126.9 448.9 125.5 448.9 122.1 447.9 119.0 443.4 118.0 439.0 116.7 434.4 116.0 431.7 118.3 432.3 121.5 434.9 124.4Z"/>
<path fill="#3344ee" d="M462.7 122.2 465.2 126.6 467.3 130.1 470.2 129.5 472.4 126.5 475.6 123.1 475.7 116.7 469.4 114.0 467.9 114.3 465.3 118.0Z"/>
<path fill="#9988ff" d="M475.6 123.1 480.7 126.7 485.6 126.1 489.9 125.8 491.8 123.8 492.3 120.2 488.9 118.3 485.3 116.7 481.3 115.6 477.3 114.9 475.7 116.7Z"/>
<path fill="#55ee55" d="M491.8 123.8 494.3 126.2 496.9 127.9 499.6 129.6 502.5 131.9 505.0 127.4 508.5 123.9 512.0 121.8 511.7 119.9 508.3 117.8 504.6 115.4 501.3 116.4 497.7 117.1 494.2 117.3 492.3 120.2Z"/>
<path fill="#3355ff" d="M512.0 121.8 514.0 127.2 519.9 129.5 523.7 125.6 524.3 120.4 522.2 118.2 518.3 117.5 514.9 116.3 513.3 118.3 511.7 119.9Z"/>
<path fill="#4455ee" d="M434.1 144.6 441.8 145.0 445.4 141.2 448.1 137.9 447.1 133.8 446.8 130.3 446.8 126.9 441.8 126.7 437.1 127.4 434.9 130.9 432.2 134.0 429.0 136.3 431.1 140.5Z"/>
<path fill="#6655ff" d="M448.1 137.9 451.9 140.4 458.1 140.3 459.9 136.5 462.1 133.4 460.3 130.7 458.4 127.4 453.7 126.5 448.9 125.5 446.8 126.9 446.8 130.3 447.1 133.8Z"/>
<path fill="#3355ff" d="M458.1 140.3 461.5 144.5 464.9 148.4 470.1 146.3 474.6 144.1 474.3 139.1 473.6 134.6 473.0 131.2 470.2 129.5 467.3 130.1 462.1 133.4 459.9 136.5Z"/>
<path fill="#66ddff" d="M474.6 144.1 478.8 146.2 480.9 143.6 483.4 140.9 483.5 133.0 478.8 129.4 473.0 131.2 473.6 134.6 474.3 139.1Z"/>
<path fill="#3333ee" d="M488.7 132.1 492.3 135.7 495.9 139.7 500.2 140.0 503.0 133.8 502.5 131.9 499.6 129.6 496.9 127.9 494.3 126.2 491.8 123.8 489.9 125.8 489.4 128.8Z"/>
<path fill="#dd55ff" d="M502.5 131.9 503.0 133.8 506.3 133.4 509.8 133.1 514.0 127.2 512.0 121.8 508.5 123.9 505.0 127.4Z"/>
<path fill="#55ee55" d="M509.3 144.6 511.0 147.1 512.4 149.5 516.8 150.5 519.7 148.3 522.4 146.6 524.4 143.9 527.1 141.7 526.6 136.9 523.2 133.5 519.9 129.5 514.0 127.2 509.8 133.1 509.6 139.6Z"/>
<path fill="#eeff55" d="M489.1 145.3 489.2 145.9 493.3 146.8 497.2 147.6 501.0 148.9 502.7 147.3 504.4 145.0 500.2 140.0 495.9 139.7 492.4 142.7Z"/>
<path fill="#ff5566" d="M463.2 159.6 468.1 163.1 473.2 163.4 477.4 163.5 480.7 163.2 482.5 157.5 482.7 151.5 480.8 149.3 478.8 146.2 474.6 144.1 470.1 146.3 464.9 148.4 463.2 152.1 461.8 154.9 462.5 157.3Z"/>
<path fill="#55ffdd" d="M445.2 158.7 448.3 162.1 451.5 165.5 457.9 165.4 460.2 162.1 463.2 159.6 462.5 157.3 461.8 154.9 457.5 153.5 453.5 151.4 447.5 152.9Z"/>
<path fill="#3366ff" d="M445.2 166.9 447.8 169.6 451.5 165.5 448.3 162.1 445.2 158.7 443.8 159.6 444.6 163.2Z"/>
<path fill="#66ee55" d="M482.5 157.5 486.6 159.9 491.3 162.3 497.0 159.2 501.9 157.0 502.8 152.2 501.0 148.9 497.2 147.6 493.3 146.8 489.2 145.9 485.8 148.5 482.7 151.5Z"/>
<path fill="#66ffcc" d="M501.9 157.0 504.8 165.0 509.5 168.0 513.1 166.4 516.4 164.0 520.2 161.4 520.4 157.7 518.5 154.3 516.8 150.5 512.4 149.5 507.5 151.4 502.8 152.2Z"/>
<path fill="#55ee55" d="M437.1 179.9 440.8 180.7 444.8 181.4 446.9 178.9 447.3 174.1 447.8 169.6 445.2 166.9 440.2 165.2 435.2 163.8 431.0 166.9 432.3 169.6 433.7 172.3 435.4 175.7Z"/>
<path fill="#ff5533" d="M435.2 163.8 440.2 165.2 445.2 166.9 444.6 163.2 443.8 159.6 438.1 160.3Z"/>
<path fill="#ffee99" d="M446.9 178.9 451.7 177.7 456.4 176.1 460.3 174.5 460.3 169.3 457.9 165.4 451.5 165.5 447.8 169.6 447.3 174.1Z"/>
<path fill="#66ff66" d="M466.6 168.7 469.6 172.7 472.6 176.7 478.0 175.0 482.7 173.0 483.4 170.0 480.7 163.2 477.4 163.5 473.2 163.4 468.1 163.1Z"/>
<path fill="#ff55cc" d="M485.7 178.5 487.7 178.8 490.2 175.0 492.2 170.9 491.6 168.2 487.1 169.1 483.4 170.0 482.7 173.0 484.3 175.7Z"/>
<path fill="#3333ee" d="M496.0 179.2 500.4 181.9 507.7 180.6 508.8 176.7 509.5 172.1 509.5 168.0 504.8 165.0 500.5 165.5 495.8 166.5 491.7 168.0 491.6 168.2 492.2 170.9 494.3 174.9Z"/>
<path fill="#55ee55" d="M507.7 180.6 511.7 182.9 515.4 184.0 520.7 183.7 525.5 182.1 527.3 178.8 527.6 172.2 527.9 165.6 524.2 162.8 520.2 161.4 516.4 164.0 513.1 166.4 509.5 168.0 509.5 172.1 508.8 176.7Z"/>
<path fill="#ffaa99" d="M487.7 178.8 489.5 181.8 492.8 180.6 496.0 179.2 494.3 174.9 492.2 170.9 490.2 175.0Z"/>
<path fill="#66ff55" d="M446.0 192.6 448.9 194.0 452.1 196.0 455.2 193.9 458.5 192.2 462.1 191.1 466.0 190.5 466.0 187.1 465.6 183.5 464.6 179.1 460.3 174.5 456.4 176.1 451.7 177.7 446.9 178.9 444.8 181.4 445.4 186.4 445.9 189.6Z"/>
<path fill="#5544ee" d="M437.2 194.9 441.9 193.8 446.0 192.6 445.9 189.6 445.4 186.4 444.8 181.4 440.8 180.7 437.1 179.9 433.1 186.5 434.7 189.9 435.9 192.3Z"/>
<path fill="#7755ee" d="M466.0 190.5 468.0 191.5 471.1 190.8 472.8 186.6 474.4 181.9 472.4 177.4 468.1 178.2 464.6 179.1 465.6 183.5 466.0 187.1Z"/>
<path fill="#66ffee" d="M484.2 190.6 484.2 191.4 484.5 191.8 487.7 192.9 490.7 194.2 493.7 195.4 497.7 191.5 499.0 186.4 500.4 181.9 496.0 179.2 492.8 180.6 489.5 181.8 486.6 186.0Z"/>
<path fill="#7755ff" d="M497.7 191.5 503.1 194.7 510.2 190.0 510.5 185.6 511.7 182.9 507.7 180.6 500.4 181.9 499.0 186.4Z"/>
<path fill="#eeeeff" d="M510.2 190.0 514.6 190.8 518.7 192.3 516.7 187.3 515.4 184.0 511.7 182.9 510.5 185.6Z"/>
<path fill="#2222dd" d="M456.2 207.9 461.0 206.8 465.7 205.6 469.7 204.5 468.4 200.3 467.6 195.7 468.0 191.5 466.0 190.5 462.1 191.1 458.5 192.2 455.2 193.9 452.1 196.0 453.5 200.3 455.0 204.5Z"/>
<path fill="#44ee44" d="M469.7 204.5 472.8 206.3 475.7 208.3 481.8 207.8 483.7 206.4 484.4 203.3 484.7 199.8 484.6 195.9 484.5 191.8 484.2 191.4 479.9 191.3 475.4 191.3 471.1 190.8 468.0 191.5 467.6 195.7 468.4 200.3Z"/>
<path fill="#bb99ff" d="M483.7 206.4 488.8 207.5 493.6 208.4 497.6 208.9 497.7 206.0 497.6 202.5 493.7 195.4 490.7 194.2 487.7 192.9 484.5 191.8 484.6 195.9 484.7 199.8 484.4 203.3Z"/>
<path fill="#3355ff" d="M503.1 207.6 506.7 208.8 510.6 210.3 514.9 212.1 519.5 211.5 522.6 209.7 524.1 206.8 525.1 204.4 523.3 200.5 521.3 195.0 518.7 192.3 514.6 190.8 510.2 190.0 503.1 194.7 500.9 201.6Z"/>
<path fill="#55ffcc" d="M434.1 211.1 436.7 213.6 439.0 215.5 443.3 215.7 447.2 215.9 450.6 216.5 454.3 213.2 456.2 207.9 455.0 204.5 453.5 200.3 452.1 196.0 448.9 194.0 446.0 192.6 441.9 193.8 437.2 194.9 434.1 198.2 431.9 201.9 433.1 207.0Z"/>
<path fill="#7799ff" d="M459.3 221.9 463.6 222.1 468.4 222.1 472.2 221.1 474.6 218.3 476.6 215.1 475.7 208.3 472.8 206.3 469.7 204.5 465.7 205.6 461.0 206.8 456.2 207.9 454.3 213.2 456.8 217.7Z"/>
<path fill="#5544ee" d="M481.7 215.1 483.6 218.4 485.4 221.4 489.7 222.2 492.0 221.0 494.6 217.5 497.3 214.7 499.6 212.3 499.7 211.5 497.6 208.9 493.6 208.4 488.8 207.5 483.7 206.4 481.8 207.8Z"/>
<path fill="#66ee66" d="M506.4 222.1 509.4 222.5 511.3 219.2 513.0 215.7 514.9 212.1 510.6 210.3 506.7 208.8 503.1 207.6 499.7 211.5 499.6 212.3 502.1 214.9 504.3 218.2Z"/>
<path fill="#ccffcc" d="M492.0 221.0 494.9 222.6 497.8 224.8 500.5 227.6 503.2 224.5 506.4 222.1 504.3 218.2 502.1 214.9 499.6 212.3 497.3 214.7 494.6 217.5Z"/>
<path fill="#66ff66" d="M437.2 226.7 443.7 227.0 449.3 224.3 450.2 220.5 450.6 216.5 447.2 215.9 443.3 215.7 439.0 215.5 435.8 217.3 433.1 219.6 435.1 223.3Z"/>
<path fill="#53fe3e" d="M442.9 24.2 445.6 28.5 448.2 31.9 448.6 32.1 452.6 30.6 456.5 29.3 459.7 28.3 458.3 21.8 452.8 15.9 449.0 14.8 443.4 17.5Z"/>
<path fill="#4272fa" d="M494.2 117.3 497.7 117.1 501.3 116.4 504.6 115.4 504.7 109.2 501.6 106.6 498.6 103.7 495.2 102.4 494.8 102.5 491.9 107.6 493.3 111.8Z"/>
<path fill="#3ffe8e" d="M282.4 231.3 282.7 228.1 283.3 224.6 284.6 221.1 283.6 215.5 280.1 215.3 276.8 215.7 274.6 219.8 272.9 224.9 275.9 231.7 278.3 231.4Z"/>
<path fill="#42f850" d="M299.9 84.8 301.6 89.0 303.3 92.7 307.5 91.2 312.2 90.8 313.8 84.3 311.0 80.5 308.3 77.5 305.7 77.4 302.9 80.4Z"/>
<path fill="#3af848" d="M322.8 18.1 326.1 17.8 332.2 15.2 334.4 11.7 336.9 8.2 332.4 7.0 328.0 6.4 323.7 6.9 319.8 8.1 316.5 9.6 318.6 12.6 320.8 15.5Z"/>
<path fill="#3af63d" d="M452.8 15.9 458.3 21.8 460.9 19.7 464.1 17.2 467.5 14.2 466.3 8.2 460.4 9.4 456.8 9.3 454.4 12.5Z"/>
<path fill="#1b22f1" d="M330.4 28.8 334.2 33.8 339.9 34.9 343.3 32.9 346.3 30.6 345.7 25.5 340.7 24.1 336.2 22.1 333.7 25.3Z"/>
<path fill="#41f735" d="M524.1 65.0 519.0 67.9 520.3 74.1 526.5 78.6 529.3 77.7 532.0 76.8 531.6 73.6 530.9 67.9 527.4 66.5Z"/>
<path fill="#2453eb" d="M510.6 232.5 516.4 231.4 522.8 230.2 523.4 226.6 523.7 223.3 520.0 220.6 515.1 222.2 510.3 223.5 510.3 228.0Z"/>
<path fill="#4fe8fb" d="M388.5 37.7 392.3 40.2 395.8 41.8 398.9 38.3 399.4 33.1 399.2 28.5 395.3 26.8 391.8 25.1 388.4 26.3 385.9 30.2Z"/>
<path fill="#51dff8" d="M520.0 220.6 523.7 223.3 527.8 223.5 531.9 224.3 532.4 220.8 533.2 216.7 533.5 211.7 528.3 210.8 522.6 209.7 519.5 211.5 519.5 216.2Z"/>
<path fill="#2f5ff3" d="M489.0 233.2 489.4 227.5 489.7 222.2 485.4 221.4 481.2 223.1 476.4 223.9 476.2 230.7 480.5 232.1 485.0 233.1Z"/>
<path fill="#8053f4" d="M263.1 16.0 266.6 17.5 270.4 18.3 271.3 17.8 273.9 13.8 276.8 9.9 276.9 7.4 270.7 7.9 266.4 8.4 262.5 8.7Z"/>
<path fill="#416bec" d="M304.2 101.2 310.5 103.0 312.8 99.1 316.1 96.5 317.0 95.2 314.4 93.4 312.2 90.8 307.5 91.2 303.3 92.7 302.3 95.7Z"/>
<path fill="#42f582" d="M312.2 90.8 314.4 93.4 317.0 95.2 321.7 94.4 326.2 93.2 327.8 90.9 329.4 88.2 327.0 85.8 324.4 82.9 321.8 79.9 317.5 82.4 313.8 84.3Z"/>
<path fill="#4bfc33" d="M522.1 32.0 520.3 32.8 519.1 37.0 518.4 41.9 517.9 46.5 521.2 51.8 524.0 51.5 527.3 50.7 531.2 49.9 532.1 47.0 532.7 43.7 532.5 39.1 527.2 35.4Z"/>
<path fill="#6e42fd" d="M380.3 231.2 384.3 231.0 387.7 231.2 391.0 231.5 392.0 226.8 389.2 224.8 386.3 222.8 385.0 222.7 381.9 224.9 381.0 228.0Z"/>
<path fill="#5cf4f7" d="M426.4 232.5 430.2 231.8 433.5 231.1 436.4 230.6 437.2 226.7 435.1 223.3 433.1 219.6 433.1 219.6 430.0 222.9 426.6 227.1Z"/>
<path fill="#255ef4" d="M255.7 92.2 257.4 91.8 259.4 86.0 257.3 82.4 255.1 78.6 249.5 79.5 248.9 83.6 247.7 87.5 247.0 90.1Z"/>
<path fill="#35fd33" d="M290.2 86.6 292.6 88.0 296.1 86.5 299.9 84.8 302.9 80.4 305.7 77.4 303.4 75.3 301.0 73.1 297.2 73.9 293.2 74.6 290.1 77.6 289.8 81.6Z"/>
<path fill="#7959f7" d="M426.4 232.5 426.6 227.1 425.7 226.1 421.3 226.2 416.2 226.1 412.7 229.1 410.2 231.4 416.5 232.6 421.6 232.9Z"/>
<path fill="#5dcbf5" d="M525.3 91.2 521.9 93.4 519.0 96.4 520.4 100.9 521.5 105.6 526.7 108.4 532.3 107.5 532.1 105.1 531.7 101.3 531.7 97.7 531.8 94.0Z"/>
<path fill="#6ce4f5" d="M421.2 14.1 424.7 14.8 428.0 15.5 431.2 16.0 432.5 13.1 433.7 9.4 430.0 9.6 426.0 9.0 421.5 8.5Z"/>
<path fill="#59f742" d="M248.0 119.9 251.7 119.8 255.7 117.0 255.7 113.5 255.2 109.2 251.7 106.5 248.5 103.7 247.5 103.6 247.9 108.2 248.1 112.9 248.1 116.8Z"/>
<path fill="#274bfa" d="M348.6 226.3 345.5 224.5 342.4 222.6 339.0 223.5 336.1 224.2 334.5 226.3 334.7 230.6 338.8 231.7 342.5 232.7 346.1 233.1 349.8 232.9Z"/>
<path fill="#47fc31" d="M336.9 8.2 334.4 11.7 332.2 15.2 334.1 18.6 336.2 22.1 340.7 24.1 345.7 25.5 348.8 21.7 351.8 17.9 350.8 16.1 347.3 14.7 343.8 12.3 340.2 9.0 340.1 9.0Z"/>
<path fill="#6cf73c" d="M253.1 50.0 255.9 52.3 258.7 55.4 264.7 55.0 265.9 51.0 266.9 47.3 267.6 44.3 262.7 40.8 259.3 42.8 255.5 44.7 254.0 47.4Z"/>
<path fill="#42f946" d="M338.2 135.0 338.4 138.9 338.5 143.1 343.6 145.9 348.0 142.7 351.0 139.0 349.4 134.7 347.6 131.1 343.6 129.7 343.5 129.7 341.3 132.3Z"/>
<path fill="#59f93c" d="M408.5 54.4 412.7 55.7 417.1 57.1 418.4 53.3 419.8 49.4 421.0 46.2 420.1 45.1 416.8 44.5 413.3 43.7 409.5 43.0 407.4 44.9 407.7 49.1Z"/>
<path fill="#324ceb" d="M430.7 100.6 433.0 101.3 436.5 100.8 440.7 100.9 441.4 100.1 440.1 97.1 438.5 93.0 434.6 94.1 431.0 95.7Z"/>
<path fill="#33fa43" d="M532.0 76.8 529.3 77.7 526.5 78.6 525.5 83.4 527.1 86.1 532.4 87.1 532.6 83.6Z"/>
<path fill="#3061ef" d="M319.9 67.1 324.1 65.0 327.0 63.5 326.9 62.8 323.2 57.3 319.7 56.9 315.8 57.2 314.0 59.9 317.0 63.4Z"/>
<path fill="#346dfb" d="M370.8 11.0 369.6 14.4 371.3 16.5 375.9 16.3 380.0 15.8 382.1 11.8 384.1 8.0 381.2 9.0 376.5 10.4Z"/>
<path fill="#39ff80" d="M347.1 61.3 350.1 64.3 353.2 66.9 356.8 66.9 358.5 63.8 360.7 60.4 357.0 55.0 354.2 54.3 349.8 57.5Z"/>
<path fill="#71fa2f" d="M435.6 26.5 436.7 27.2 439.4 25.6 442.9 24.2 443.4 17.5 440.4 15.7 436.1 16.2 432.0 16.5 433.4 20.5Z"/>
<path fill="#3f66ee" d="M440.4 15.7 443.4 17.5 449.0 14.8 447.3 11.0 446.0 7.3 439.8 7.9 440.0 12.0Z"/>
<path fill="#57f644" d="M360.0 77.3 365.5 80.7 368.6 80.6 369.9 77.3 370.6 73.5 371.4 69.3 366.7 69.8 361.9 70.4 361.2 74.0Z"/>
<path fill="#6a42f1" d="M292.2 103.2 297.4 106.5 301.0 104.3 304.2 101.2 302.3 95.7 298.6 96.8 294.7 97.6 291.3 100.5Z"/>
<path fill="#5bd7f5" d="M402.1 16.5 405.6 20.2 409.5 19.0 413.0 17.4 410.6 13.1 408.5 9.1 407.6 9.2 405.2 12.7Z"/>
<path fill="#fce856" d="M328.3 28.7 330.4 28.8 333.7 25.3 336.2 22.1 334.1 18.6 332.2 15.2 326.1 17.8 327.0 21.6 327.8 25.3Z"/>
<path fill="#6f51f2" d="M397.3 53.5 401.1 56.9 404.9 60.4 408.5 54.4 407.7 49.1 407.4 44.9 402.6 45.2 398.3 46.4Z"/>
<path fill="#50fbc4" d="M471.1 190.8 475.4 191.3 479.9 191.3 484.2 191.4 484.2 190.6 483.0 186.1 482.2 182.0 478.3 182.1 474.4 181.9 472.8 186.6Z"/>
<path fill="#9efa3f" d="M273.7 166.5 281.0 167.7 282.5 163.9 283.9 160.1 280.5 157.2 276.9 155.3 270.8 158.6 272.1 162.0Z"/>
<path fill="#53f9cf" d="M354.2 177.1 357.9 179.6 361.6 182.0 364.5 179.8 366.7 177.3 365.5 173.9 359.0 171.9 358.9 171.9Z"/>
<path fill="#80f739" d="M364.5 51.4 368.7 52.2 370.1 47.5 369.2 43.8 366.6 43.0 363.5 47.6Z"/>
<path fill="#55f940" d="M277.5 70.0 281.5 70.3 284.8 64.8 280.9 62.5 275.4 63.9 276.3 66.4Z"/>
<path fill="#33f93c" d="M453.5 151.4 457.5 153.5 461.8 154.9 463.2 152.1 464.9 148.4 461.5 144.5 458.1 140.3 451.9 140.4 452.9 146.3Z"/>
<path fill="#324df2" d="M490.4 15.7 495.2 19.9 501.8 17.9 502.4 12.2 500.8 8.9 494.4 9.1 492.4 12.7Z"/>
<path fill="#8551eb" d="M324.7 39.3 327.6 40.1 330.8 40.5 334.2 33.8 330.4 28.8 328.3 28.7 327.0 29.4 325.5 34.0Z"/>
<path fill="#41ff2e" d="M422.8 144.7 423.4 145.8 427.7 147.3 432.1 148.6 434.1 144.6 431.1 140.5 429.0 136.3 428.2 136.1 425.5 138.5 423.8 141.3Z"/>
<path fill="#42fd4d" d="M522.2 118.2 524.3 120.4 532.0 118.1 532.6 115.0 532.6 111.4 532.3 107.5 526.7 108.4 524.6 113.6Z"/>
<path fill="#37fe36" d="M289.3 15.7 293.9 18.5 297.5 16.6 301.2 15.1 299.5 12.4 297.9 9.3 295.1 9.3 291.7 12.6Z"/>
<path fill="#6940f9" d="M350.8 16.1 351.8 17.9 356.0 16.2 359.0 15.4 359.1 14.7 358.2 12.2 357.8 9.4 354.5 9.1 351.5 9.3 351.3 12.9Z"/>
<path fill="#4669ff" d="M454.2 101.3 458.4 100.4 458.3 95.9 458.8 93.3 456.5 91.5 454.0 94.3 451.0 97.1 452.5 98.8Z"/>
<path fill="#54d8f8" d="M381.5 115.0 386.0 117.3 390.3 119.3 392.0 116.8 390.6 113.5 389.8 109.9 389.5 106.4 386.2 105.1 382.3 106.8 381.9 110.9Z"/>
<path fill="#79f847" d="M523.5 194.5 521.3 195.0 523.3 200.5 525.1 204.4 528.6 203.3 532.1 201.6 531.9 197.9 527.7 196.8Z"/>
<path fill="#6a50eb" d="M313.3 49.6 314.9 51.1 319.4 51.6 323.5 52.7 324.6 51.7 323.8 47.5 322.7 42.4 317.1 41.9 315.1 45.8Z"/>
<path fill="#4bfa98" d="M457.9 165.4 460.3 169.3 466.6 168.7 468.1 163.1 463.2 159.6 460.2 162.1Z"/>
<path fill="#4dfb34" d="M425.7 226.1 426.6 227.1 430.0 222.9 433.1 219.6 429.9 214.5 426.9 214.6 423.8 215.5 425.0 220.2Z"/>
<path fill="#40fd49" d="M293.2 156.3 296.2 158.0 299.4 159.8 303.0 156.1 306.7 153.5 305.5 150.3 304.0 147.4 300.1 148.4 295.8 150.1Z"/>
<path fill="#46f83f" d="M420.1 45.1 421.0 46.2 427.0 47.3 430.3 45.1 432.7 39.0 430.3 37.8 425.5 40.2 421.2 41.9Z"/>
<path fill="#6adff6" d="M510.6 232.5 510.3 228.0 510.3 223.5 509.4 222.5 506.4 222.1 503.2 224.5 500.5 227.6 501.1 232.0 504.4 232.3 507.3 232.6Z"/>
<path fill="#55e2f4" d="M255.5 44.7 259.3 42.8 262.7 40.8 262.1 33.9 257.4 31.4 252.8 29.2 248.9 30.4 248.8 39.7 252.0 42.8Z"/>
<path fill="#4262f1" d="M255.0 13.8 254.6 8.3 248.8 8.7 248.9 12.6 248.8 17.2Z"/>
<path fill="#2021db" d="M282.2 17.1 283.5 17.2 288.3 15.5 285.7 8.7 281.6 7.8 276.9 7.4 276.8 9.9 279.6 13.8Z"/>
<path fill="#4cf930" d="M471.2 67.6 474.9 68.6 478.4 70.2 481.9 72.3 481.8 69.3 481.8 66.3 482.3 62.9 478.7 59.8 475.0 61.6 471.7 63.2Z"/>
<path fill="#57fb40" d="M369.8 232.7 375.2 232.0 380.3 231.2 381.0 228.0 381.9 224.9 377.8 223.8 373.3 222.6 368.6 228.0Z"/>
<path fill="#1e2ae8" d="M399.4 84.5 403.4 86.3 407.3 87.9 409.1 81.7 407.0 77.9 402.7 76.8 399.5 79.1Z"/>
<path fill="#8afd2f" d="M449.4 97.3 451.0 97.1 454.0 94.3 456.5 91.5 456.5 90.8 453.2 85.6 447.6 85.6 445.6 91.9Z"/>
<path fill="#3ff94d" d="M442.8 149.6 447.5 152.9 453.5 151.4 452.9 146.3 451.9 140.4 448.1 137.9 445.4 141.2 441.8 145.0Z"/>
<path fill="#52f836" d="M250.1 61.6 254.5 59.8 257.9 58.3 258.7 55.4 255.9 52.3 253.1 50.0 248.9 51.9 249.8 56.1 250.1 60.6Z"/>
<path fill="#54fc9e" d="M321.4 218.8 324.7 215.9 327.3 212.8 330.1 210.1 327.7 207.3 325.1 204.5 321.9 207.1 318.7 209.7 319.9 213.7Z"/>
<path fill="#42f950" d="M480.3 34.6 484.4 33.7 488.6 33.2 489.8 28.9 486.7 27.8 483.6 26.8 480.5 25.8 478.5 30.7Z"/>
<path fill="#3463eb" d="M337.1 111.4 343.9 111.3 346.8 108.2 344.5 106.1 342.1 102.9 339.7 104.8 336.1 106.7 335.1 108.8Z"/>
<path fill="#9dff3d" d="M339.2 69.9 344.0 73.9 350.1 73.0 351.9 69.9 353.2 66.9 350.1 64.3 347.1 61.3 342.1 61.9 340.6 66.2Z"/>
<path fill="#32fa3a" d="M500.8 91.3 504.0 91.8 506.7 89.8 506.8 85.8 506.6 81.4 504.4 80.1 501.9 81.8 499.5 83.5 496.2 85.3 496.0 86.0 498.6 88.1Z"/>
<path fill="#3af593" d="M347.2 177.1 354.2 177.1 358.9 171.9 354.6 171.0 350.1 170.3 344.4 172.7Z"/>
<path fill="#7456f4" d="M467.5 14.2 471.8 14.7 475.5 15.6 475.2 11.1 475.2 6.7 472.4 6.5 469.6 7.1 466.3 8.2Z"/>
<path fill="#46d3fe" d="M336.1 106.7 339.7 104.8 342.1 102.9 341.1 96.0 340.3 94.9 336.4 93.3 333.5 96.5 334.9 101.6Z"/>
<path fill="#5dd1fd" d="M520.4 157.7 525.9 156.2 526.2 151.5 522.4 146.6 519.7 148.3 516.8 150.5 518.5 154.3Z"/>
<path fill="#8449f0" d="M272.9 224.9 268.7 223.7 262.6 226.7 264.2 231.9 268.1 232.3 272.1 232.2 275.9 231.7Z"/>
<path fill="#48ff41" d="M471.8 40.4 475.3 41.4 478.9 41.8 479.2 41.5 479.5 37.8 480.3 34.6 478.5 30.7 474.5 33.0 471.0 34.6Z"/>
<path fill="#3d6ff8" d="M255.3 224.4 251.7 221.2 246.3 221.7 246.6 225.6 247.2 230.2 254.0 230.1Z"/>
<path fill="#5ffe40" d="M301.2 15.1 305.4 17.0 308.2 15.5 310.8 13.6 312.6 10.6 309.8 10.4 306.5 9.9 302.4 9.4 297.9 9.3 299.5 12.4Z"/>
<path fill="#6148f1" d="M334.5 226.3 329.5 224.9 323.9 224.1 320.6 227.5 318.3 231.4 322.1 230.9 326.3 230.4 330.6 230.2 334.7 230.6Z"/>
<path fill="#8df844" d="M495.2 102.4 498.6 103.7 502.5 101.8 506.8 100.0 507.1 99.4 505.4 95.7 504.0 91.8 500.8 91.3 497.3 96.5Z"/>
<path fill="#52fdce" d="M524.4 18.8 524.1 23.4 524.0 26.5 524.3 28.7 530.5 29.0 530.8 27.1 531.6 24.3 532.3 20.1 528.5 19.5Z"/>
<path fill="#3669fa" d="M323.2 57.3 326.9 62.8 330.1 60.7 334.3 57.7 333.6 54.2 332.7 50.7 328.6 52.0 324.6 51.7 323.5 52.7Z"/>
<path fill="#49f72d" d="M248.9 132.1 254.0 131.6 255.6 129.0 254.1 125.3 252.8 122.2 251.7 119.8 248.0 119.9 248.1 123.1 248.4 127.2Z"/>
<path fill="#4bfe46" d="M453.2 85.6 456.5 90.8 458.9 87.7 461.7 84.2 464.3 80.3 461.2 74.6 457.3 76.0 453.6 77.1Z"/>
<path fill="#346bfd" d="M475.2 6.7 475.2 11.1 475.5 15.6 479.2 19.6 482.5 15.7 482.4 12.3 483.1 8.6 480.5 8.1Z"/>
<path fill="#49fb2f" d="M381.4 63.1 385.0 62.5 389.2 61.9 391.1 55.0 388.4 52.8 384.8 52.7 379.0 55.7Z"/>
<path fill="#7246f9" d="M405.9 222.1 403.3 220.6 399.6 221.8 396.7 223.4 396.7 223.5 397.9 227.2 398.8 231.0 402.6 230.6 406.4 230.8 407.7 231.0 406.9 227.9 406.3 224.8Z"/>
<path fill="#6f5af0" d="M275.2 93.8 279.7 98.0 284.9 97.4 285.6 93.9 286.2 89.7 281.8 88.5 277.0 87.7Z"/>
<path fill="#3ff93e" d="M249.5 67.7 255.9 69.6 260.9 66.1 259.5 62.4 257.9 58.3 254.5 59.8 250.1 61.6Z"/>
<path fill="#6a4bf4" d="M331.2 126.6 335.4 128.0 339.6 128.9 343.5 129.7 343.6 129.7 343.7 124.8 344.2 118.3 343.9 118.0 340.0 117.7 335.7 117.5 331.0 121.3Z"/>
<path fill="#1c27d9" d="M260.9 66.1 266.5 67.1 268.1 64.2 270.4 61.9 269.5 59.0 264.7 55.0 258.7 55.4 257.9 58.3 259.5 62.4Z"/>
<path fill="#40fb91" d="M329.6 186.1 329.6 186.2 332.6 188.7 335.9 191.1 339.4 193.5 340.5 188.2 342.0 183.0 339.7 180.1 337.5 177.3 333.9 182.2Z"/>
<path fill="#6041f2" d="M524.4 60.4 524.1 65.0 527.4 66.5 530.9 67.9 530.6 64.1 530.4 59.7 530.4 54.9 527.3 57.9Z"/>
<path fill="#4afc45" d="M263.5 115.3 268.7 119.4 273.3 117.2 273.0 112.9 272.6 108.7 269.1 105.6 264.3 108.6Z"/>
<path fill="#40f6ae" d="M502.4 12.2 505.6 14.3 509.0 16.3 512.2 13.9 512.2 9.3 507.5 9.3 503.9 9.1 500.8 8.9Z"/>
<path fill="#85f649" d="M504.6 115.4 508.3 117.8 511.7 119.9 513.3 118.3 514.9 116.3 514.5 111.0 511.1 109.0 507.6 107.4 504.7 109.2Z"/>
<path fill="#1e21dd" d="M287.0 157.5 289.9 157.2 293.2 156.3 295.8 150.1 292.3 148.8 288.9 146.7 284.4 150.4 285.8 153.9Z"/>
<path fill="#45fb52" d="M462.1 70.7 466.7 69.0 471.2 67.6 471.7 63.2 465.6 60.5 461.8 62.4 457.9 64.2 459.8 68.0Z"/>
<path fill="#275bf5" d="M340.3 94.9 341.1 96.0 344.7 95.0 348.8 93.3 352.8 91.4 353.0 91.0 351.5 87.9 350.0 85.6 344.1 87.0 342.0 91.0Z"/>
<path fill="#63e9f7" d="M287.2 41.5 289.2 41.0 290.9 38.8 292.1 36.5 289.9 33.8 287.7 30.1 285.0 34.7 281.5 38.6 284.4 40.2Z"/>
<path fill="#58def6" d="M431.0 95.7 434.6 94.1 438.5 93.0 438.6 92.9 434.4 86.0 429.7 86.3 425.2 87.5 425.1 87.8 428.3 92.2Z"/>
<path fill="#3ffb4b" d="M456.8 228.7 453.1 226.9 449.3 224.3 443.7 227.0 443.5 230.6 449.1 231.0 454.7 231.1 457.7 230.9Z"/>
<path fill="#3ffbca" d="M269.1 105.6 272.6 108.7 276.3 108.3 280.1 107.6 277.8 101.4 274.4 100.5 271.3 99.7 270.3 100.3Z"/>
<path fill="#31fc3b" d="M248.7 18.4 251.8 21.4 254.8 23.7 261.3 21.0 261.2 18.9 258.2 16.5 255.0 13.8 248.8 17.2Z"/>
<path fill="#2d52f5" d="M294.7 97.6 298.6 96.8 302.3 95.7 303.3 92.7 301.6 89.0 299.9 84.8 296.1 86.5 292.6 88.0 293.7 93.2Z"/>
<path fill="#2657f5" d="M334.1 71.8 336.5 70.9 339.2 69.9 340.6 66.2 342.1 61.9 338.1 59.6 334.3 57.7 330.1 60.7 326.9 62.8 327.0 63.5 329.4 66.9 331.9 69.5Z"/>
<path fill="#3bf733" d="M430.3 45.1 433.3 46.4 437.8 45.1 442.2 44.4 442.3 43.4 440.3 39.9 438.4 37.3 432.7 39.0Z"/>
<path fill="#2f5afd" d="M479.2 41.5 483.1 41.4 486.6 42.0 490.5 37.4 488.6 33.2 484.4 33.7 480.3 34.6 479.5 37.8Z"/>
<path fill="#9156fb" d="M360.3 227.3 356.3 221.6 352.5 224.0 348.6 226.3 349.8 232.9 353.9 232.4 358.1 232.4Z"/>
<path fill="#41e5f4" d="M252.8 29.2 253.5 26.1 254.8 23.7 251.8 21.4 248.7 18.4 248.6 21.3 248.5 24.3 248.7 26.9 248.9 30.4Z"/>
<path fill="#55fa35" d="M438.1 160.3 443.8 159.6 445.2 158.7 447.5 152.9 442.8 149.6 437.3 153.5 437.9 156.8Z"/>
<path fill="#d5f7fd" d="M324.6 51.7 328.6 52.0 332.7 50.7 333.6 45.7 330.8 40.5 327.6 40.1 324.7 39.3 322.7 42.4 323.8 47.5Z"/>
<path fill="#a4f6c3" d="M527.6 186.6 531.5 185.7 531.3 181.6 531.3 178.2 527.3 178.8 525.5 182.1Z"/>
<path fill="#3ffd38" d="M356.2 45.0 360.1 46.6 363.5 47.6 366.6 43.0 363.7 36.7 360.6 37.9 357.3 39.0Z"/>
<path fill="#58f945" d="M294.0 23.9 298.7 25.9 302.7 23.6 306.2 22.0 305.4 17.0 301.2 15.1 297.5 16.6 293.9 18.5Z"/>
<path fill="#7d5efe" d="M472.2 221.1 476.4 223.9 481.2 223.1 485.4 221.4 483.6 218.4 481.7 215.1 476.6 215.1 474.6 218.3Z"/>
<path fill="#6440f8" d="M267.4 24.4 268.5 27.5 272.2 27.9 275.8 28.4 276.4 21.1 271.3 17.8 270.4 18.3 269.0 21.8Z"/>
<path fill="#7442f5" d="M308.3 77.5 311.0 80.5 313.8 84.3 317.5 82.4 321.8 79.9 322.2 79.0 319.9 75.3 317.6 71.9 310.5 72.3 309.3 75.1Z"/>
<path fill="#55fe39" d="M518.7 192.3 521.3 195.0 523.5 194.5 525.4 190.6 527.6 186.6 525.5 182.1 520.7 183.7 515.4 184.0 516.7 187.3Z"/>
<path fill="#3cfa31" d="M249.5 187.0 254.0 187.6 255.1 183.5 256.1 179.6 252.4 177.4 248.8 173.7 248.9 174.8 249.3 179.9 249.6 183.5Z"/>
<path fill="#8448ee" d="M449.0 14.8 452.8 15.9 454.4 12.5 456.8 9.3 451.4 8.2 446.0 7.3 447.3 11.0Z"/>
<path fill="#85f73b" d="M461.8 39.2 462.9 40.9 467.5 40.7 471.8 40.4 471.0 34.6 467.6 33.4 464.2 32.1 463.2 35.1Z"/>
<path fill="#6a4aec" d="M343.9 118.0 344.2 118.3 347.6 117.3 350.7 116.6 352.1 112.3 350.3 108.6 346.8 108.2 343.9 111.3Z"/>
<path fill="#6a41f5" d="M512.2 9.3 512.2 13.9 517.4 14.9 522.8 16.6 524.1 12.3 525.1 8.7 521.1 8.8 516.7 9.0 512.4 9.2Z"/>
<path fill="#37fa2e" d="M305.7 77.4 308.3 77.5 309.3 75.1 310.5 72.3 307.9 68.6 304.4 69.0 301.4 69.8 301.0 73.1 303.4 75.3Z"/>
<path fill="#9df641" d="M483.4 170.0 487.1 169.1 491.6 168.2 491.7 168.0 491.3 162.3 486.6 159.9 482.5 157.5 480.7 163.2Z"/>
<path fill="#161bdd" d="M336.4 93.3 340.3 94.9 342.0 91.0 344.1 87.0 342.5 85.1 339.2 85.0 335.8 84.4 333.2 87.5 334.7 90.5Z"/>
<path fill="#274cf6" d="M267.1 134.8 270.8 135.6 275.4 133.7 278.9 131.4 275.4 127.0 272.1 126.1 268.3 124.8 262.0 129.4 264.5 132.3Z"/>
<path fill="#45e5f3" d="M350.1 73.0 354.1 77.9 360.0 77.3 361.2 74.0 361.9 70.4 356.8 66.9 353.2 66.9 351.9 69.9Z"/>
<path fill="#284cfc" d="M392.0 116.8 394.6 115.9 397.8 114.7 397.4 109.6 397.5 105.0 395.3 104.2 389.5 106.4 389.8 109.9 390.6 113.5Z"/>
<path fill="#56bff2" d="M329.4 88.2 333.2 87.5 335.8 84.4 335.1 78.2 333.9 72.9 330.9 74.6 326.8 76.6 322.2 79.0 321.8 79.9 324.4 82.9 327.0 85.8Z"/>
<path fill="#75f845" d="M313.4 220.4 321.3 219.1 321.4 218.8 319.9 213.7 318.7 209.7 314.8 210.2 310.9 210.3 307.7 212.4 310.4 215.9Z"/>
<path fill="#36f63d" d="M254.6 8.3 255.0 13.8 258.2 16.5 261.2 18.9 263.1 16.0 262.5 8.7 258.6 8.5 254.9 8.3Z"/>
<path fill="#4ffe34" d="M494.8 102.5 495.2 102.4 497.3 96.5 500.8 91.3 498.6 88.1 496.0 86.0 493.2 88.6 490.4 91.7 492.2 96.7Z"/>
<path fill="#2652f1" d="M476.4 223.9 472.2 221.1 468.4 222.1 466.2 225.5 465.0 229.7 468.6 229.4 472.3 229.7 476.2 230.7Z"/>
<path fill="#52ff33" d="M478.7 59.8 482.3 62.9 488.6 60.2 490.0 53.1 488.0 50.5 483.2 51.6 480.9 55.7Z"/>
<path fill="#3aff30" d="M460.3 174.5 464.6 179.1 468.1 178.2 472.4 177.4 472.6 176.7 469.6 172.7 466.6 168.7 460.3 169.3Z"/>
<path fill="#a3f646" d="M392.5 19.3 398.6 15.5 398.0 11.1 397.6 7.5 393.2 6.9 388.8 7.0 386.7 7.4 388.4 10.4 390.3 14.6Z"/>
<path fill="#6647ee" d="M531.8 8.3 528.6 8.5 525.1 8.7 524.1 12.3 522.8 16.6 524.4 18.8 528.5 19.5 532.3 20.1 532.5 13.7 532.1 8.2Z"/>
<path fill="#3d5df2" d="M449.3 224.3 453.1 226.9 456.8 228.7 458.2 225.6 459.3 221.9 456.8 217.7 454.3 213.2 450.6 216.5 450.2 220.5Z"/>
<path fill="#2857f5" d="M526.6 136.9 531.8 132.7 531.2 127.6 527.3 126.6 523.7 125.6 519.9 129.5 523.2 133.5Z"/>
<path fill="#345ef5" d="M521.2 51.8 520.5 57.4 524.4 60.4 527.3 57.9 530.4 54.9 531.2 49.9 527.3 50.7 524.0 51.5Z"/>
<path fill="#60fafe" d="M415.0 222.2 416.2 226.1 421.3 226.2 425.7 226.1 425.0 220.2 423.8 215.5 422.4 215.3 419.3 218.9Z"/>
<path fill="#6be1f4" d="M354.2 54.3 357.0 55.0 361.1 53.3 364.5 51.4 363.5 47.6 360.1 46.6 356.2 45.0 356.2 45.0 355.4 49.7Z"/>
<path fill="#1d27e2" d="M259.7 154.8 260.4 148.0 256.4 144.0 252.7 145.1 249.2 146.6 250.0 151.8 250.4 154.4 253.7 154.2 256.7 154.4Z"/>
<path fill="#2c6bff" d="M350.8 206.5 353.6 208.1 356.9 209.5 361.4 207.4 361.9 203.9 362.2 200.1 356.1 201.3 351.0 202.0Z"/>
<path fill="#39faa4" d="M522.4 146.6 526.2 151.5 529.3 151.6 530.1 146.0 531.6 141.9 527.1 141.7 524.4 143.9Z"/>
<path fill="#fd59ae" d="M323.3 114.4 327.0 117.5 331.0 121.3 335.7 117.5 336.3 114.1 337.1 111.4 335.1 108.8 329.2 110.0 323.9 110.8Z"/>
<path fill="#37f635" d="M253.0 216.0 256.2 213.3 258.3 209.7 256.8 207.7 249.2 207.8 248.5 212.4 247.6 215.3Z"/>
<path fill="#3cf536" d="M287.2 115.9 288.7 120.6 294.3 119.2 298.8 119.1 296.3 112.8 292.2 111.0Z"/>
<path fill="#5ed5fc" d="M302.2 47.0 303.5 49.3 308.2 49.6 313.3 49.6 315.1 45.8 317.1 41.9 313.6 39.0 308.1 40.4 303.0 41.7Z"/>
<path fill="#46ff42" d="M341.1 38.4 348.2 39.3 350.6 35.5 346.3 30.6 343.3 32.9 339.9 34.9Z"/>
<path fill="#5af93f" d="M325.8 131.0 329.2 134.3 333.5 134.6 338.2 135.0 341.3 132.3 343.5 129.7 339.6 128.9 335.4 128.0 331.2 126.6 328.4 128.9Z"/>
<path fill="#44fd4e" d="M448.9 125.5 453.7 126.5 458.4 127.4 462.3 122.2 460.0 119.3 457.4 116.9 453.0 117.8 448.7 118.0 447.9 119.0 448.9 122.1Z"/>
<path fill="#4ce1f4" d="M413.0 17.4 415.5 18.3 421.2 14.1 421.5 8.5 416.9 8.4 412.5 8.8 408.5 9.1 410.6 13.1Z"/>
<path fill="#3757f2" d="M442.2 44.4 447.2 49.2 451.4 48.3 452.9 40.2 448.4 37.0 445.3 40.3 442.3 43.4Z"/>
<path fill="#2e6afa" d="M523.7 125.6 527.3 126.6 531.2 127.6 531.2 122.3 532.0 118.1 524.3 120.4Z"/>
<path fill="#54fc35" d="M440.7 100.9 443.4 103.9 446.5 107.4 450.5 104.6 454.2 101.3 452.5 98.8 451.0 97.1 449.4 97.3 445.5 99.0 441.4 100.1Z"/>
<path fill="#2c27dd" d="M482.5 15.7 490.4 15.7 492.4 12.7 494.4 9.1 490.3 9.2 483.1 8.6 482.4 12.3Z"/>
<path fill="#ddf3cc" d="M361.8 88.2 366.0 88.6 370.7 88.9 375.5 88.9 373.1 86.0 370.9 83.3 368.6 80.6 365.5 80.7 363.4 84.0Z"/>
<path fill="#5ce0f6" d="M342.2 206.3 343.8 208.5 347.6 207.5 350.8 206.5 351.0 202.0 347.1 199.9 343.0 198.3 343.1 202.4Z"/>
<path fill="#3bf62d" d="M411.7 110.8 414.9 113.5 418.2 112.8 421.6 111.8 422.0 106.9 419.2 105.5 416.6 103.8 410.2 103.9 410.7 107.0Z"/>
<path fill="#49fe9c" d="M531.5 185.7 527.6 186.6 525.4 190.6 523.5 194.5 527.7 196.8 531.9 197.9 531.8 193.5 531.6 188.2Z"/>
<path fill="#6eeffe" d="M359.1 14.7 361.7 14.6 365.2 14.7 369.6 14.4 370.8 11.0 365.6 10.7 360.7 9.9 357.8 9.4 358.2 12.2Z"/>
<path fill="#56fba6" d="M314.0 116.9 318.8 115.1 323.3 114.4 323.9 110.8 319.3 106.7 314.1 108.6 314.4 113.5Z"/>
<path fill="#36fd3b" d="M257.4 161.1 254.1 158.9 250.6 156.8 250.3 159.7 249.6 162.6 248.9 166.7 248.8 171.9 251.4 167.7 254.6 164.0Z"/>
<path fill="#2d56f7" d="M468.4 222.1 463.6 222.1 459.3 221.9 458.2 225.6 456.8 228.7 457.7 230.9 461.4 230.4 465.0 229.7 466.2 225.5Z"/>
<path fill="#1f23e4" d="M519.0 67.9 524.1 65.0 524.4 60.4 520.5 57.4 516.7 58.8 512.5 60.4 515.6 64.3Z"/>
<path fill="#3ffd31" d="M430.8 35.9 430.3 37.8 432.7 39.0 438.4 37.3 439.8 32.6 436.7 27.2 435.6 26.5 433.9 31.1Z"/>
<path fill="#3d6bec" d="M315.8 57.2 319.7 56.9 323.2 57.3 323.5 52.7 319.4 51.6 314.9 51.1 315.2 54.0Z"/>
<path fill="#51f5c8" d="M525.9 156.2 520.4 157.7 520.2 161.4 524.2 162.8 527.9 165.6 531.6 165.4 530.7 160.6Z"/>
<path fill="#fe8a57" d="M500.5 227.6 497.8 224.8 494.9 222.6 492.0 221.0 489.7 222.2 489.4 227.5 489.0 233.2 493.2 232.8 497.2 232.3 501.1 232.0Z"/>
<path fill="#53fc41" d="M366.6 193.9 370.7 193.6 374.1 193.5 377.3 193.4 377.3 191.0 373.9 186.8 370.6 183.7 364.7 186.5 365.5 190.0Z"/>
<path fill="#44fe46" d="M292.1 36.5 295.6 36.1 299.8 35.9 299.4 31.5 298.7 25.9 294.0 23.9 290.5 26.7 287.6 29.7 287.7 30.1 289.9 33.8Z"/>
<path fill="#1920ef" d="M273.3 117.2 275.6 118.8 278.6 116.6 282.2 114.0 281.9 108.9 280.1 107.6 276.3 108.3 272.6 108.7 273.0 112.9Z"/>
<path fill="#35fe2e" d="M398.6 15.5 402.1 16.5 405.2 12.7 407.6 9.2 404.5 8.9 401.2 8.3 397.6 7.5 398.0 11.1Z"/>
<path fill="#3ff52f" d="M415.2 88.4 419.4 93.0 422.2 90.3 425.1 87.8 425.2 87.5 421.9 82.8 418.9 79.3 415.6 81.5Z"/>
<path fill="#fbdc4c" d="M249.0 199.2 252.8 199.0 257.4 194.3 255.7 191.1 254.0 187.6 249.5 187.0 249.3 191.0 249.0 195.3Z"/>
<path fill="#7b3deb" d="M248.9 140.3 253.6 138.8 254.0 135.6 254.0 131.6 248.9 132.1 249.0 137.0Z"/>
<path fill="#54f744" d="M253.1 50.0 254.0 47.4 255.5 44.7 252.0 42.8 248.8 39.7 248.4 44.9 248.3 48.6 248.9 51.9Z"/>
<path fill="#1e24eb" d="M426.3 71.8 430.3 74.6 434.9 76.1 437.6 70.9 433.8 67.7 430.1 64.4 427.5 66.8 425.5 69.0Z"/>
<path fill="#6f46f0" d="M527.9 165.6 527.6 172.2 527.3 178.8 531.3 178.2 531.5 174.3 531.7 169.7 531.6 165.4Z"/>
<path fill="#40fa4b" d="M501.0 148.9 502.8 152.2 507.5 151.4 512.4 149.5 511.0 147.1 509.3 144.6 504.4 145.0 502.7 147.3Z"/>
<path fill="#44f74b" d="M524.3 28.7 522.1 32.0 527.2 35.4 532.5 39.1 531.2 32.9 530.5 29.0Z"/>
<path fill="#4165ec" d="M258.3 160.9 263.4 162.8 265.9 159.1 262.8 157.5 259.7 154.9 259.0 158.0Z"/>
<path fill="#4170fa" d="M517.0 84.5 525.5 83.4 526.5 78.6 520.3 74.1 516.7 77.6 512.2 81.0Z"/>
<path fill="#3efd30" d="M402.7 76.8 407.0 77.9 408.7 74.4 410.8 71.0 407.3 69.3 403.9 67.3 402.8 67.9 402.7 71.8Z"/>
<path fill="#335ded" d="M373.3 222.6 377.8 223.8 381.9 224.9 385.0 222.7 382.4 219.1 379.6 214.7 374.5 215.2Z"/>
<path fill="#44fea6" d="M284.9 97.4 291.3 100.5 294.7 97.6 293.7 93.2 292.6 88.0 290.2 86.6 286.2 89.7 285.6 93.9Z"/>
<path fill="#8df53d" d="M462.3 122.2 462.7 122.2 465.3 118.0 467.9 114.3 464.6 112.3 461.3 110.2 457.4 116.9 460.0 119.3Z"/>
<path fill="#4cfb35" d="M415.5 170.5 419.6 173.6 423.0 171.3 426.7 167.8 423.2 165.8 420.0 163.1 417.5 165.6 415.4 167.4Z"/>
<path fill="#44fb45" d="M451.4 48.3 455.2 50.7 459.1 53.0 460.0 52.7 461.2 46.9 462.9 40.9 461.8 39.2 457.3 39.3 452.9 40.2Z"/>
<path fill="#5dd8fe" d="M323.9 224.1 321.3 219.1 313.4 220.4 312.4 226.1 315.3 228.9 318.3 231.4 318.3 231.4 320.6 227.5Z"/>
<path fill="#161beb" d="M320.6 164.9 324.5 164.8 325.5 160.2 326.8 155.8 323.3 155.6 319.9 155.2 316.7 154.2 314.2 156.8 317.3 160.9Z"/>
<path fill="#caf3ab" d="M512.9 44.9 517.9 46.5 518.4 41.9 519.1 37.0 520.3 32.8 516.6 32.6 513.2 32.8 510.0 33.1 511.5 38.5Z"/>
<path fill="#63f0fa" d="M474.4 181.9 478.3 182.1 482.2 182.0 485.7 178.5 484.3 175.7 482.7 173.0 478.0 175.0 472.6 176.7 472.4 177.4Z"/>
<path fill="#44ff42" d="M293.8 232.9 298.9 232.5 304.1 231.9 308.7 231.5 308.4 229.0 305.1 227.1 301.7 225.1 294.4 229.5Z"/>
<path fill="#1c24ee" d="M282.4 231.3 285.8 231.9 289.4 232.7 293.8 232.9 294.4 229.5 290.8 227.3 287.5 224.4 284.6 221.1 283.3 224.6 282.7 228.1Z"/>
<path fill="#49f644" d="M525.1 204.4 524.1 206.8 522.6 209.7 528.3 210.8 533.5 211.7 533.1 206.5 532.1 201.6 528.6 203.3Z"/>
<path fill="#45f839" d="M531.9 224.3 527.8 223.5 523.7 223.3 523.4 226.6 522.8 230.2 526.7 230.1 532.3 231.3 532.0 227.7Z"/>
<path fill="#42f84d" d="M483.4 140.9 489.1 145.3 492.4 142.7 495.9 139.7 492.3 135.7 488.7 132.1 483.5 133.0Z"/>
<path fill="#3dfd33" d="M274.5 44.7 276.3 47.2 279.8 46.3 283.9 45.0 287.2 41.5 284.4 40.2 281.5 38.6 279.6 38.7 276.8 41.8Z"/>
<path fill="#a9b0f6" d="M391.0 231.5 394.7 231.4 398.8 231.0 397.9 227.2 396.7 223.5 392.0 226.8Z"/>
<path fill="#5cf3f6" d="M276.9 155.3 280.5 157.2 283.9 160.1 287.0 157.5 285.8 153.9 284.4 150.4 278.2 150.9Z"/>
<path fill="#2f6cfd" d="M447.6 85.6 453.2 85.6 453.6 77.1 449.7 75.3 445.2 78.8Z"/>
<path fill="#2950f5" d="M270.4 61.9 275.4 63.9 280.9 62.5 281.1 59.8 276.1 55.2 273.2 57.5 269.5 59.0Z"/>
<path fill="#60fc44" d="M267.5 171.7 270.3 169.2 273.7 166.5 272.1 162.0 270.8 158.6 265.9 159.1 263.4 162.8 265.5 167.2Z"/>
<path fill="#53f83d" d="M326.2 93.2 329.9 94.3 333.5 96.5 336.4 93.3 334.7 90.5 333.2 87.5 329.4 88.2 327.8 90.9Z"/>
<path fill="#405df3" d="M470.2 129.5 473.0 131.2 478.8 129.4 480.7 126.7 475.6 123.1 472.4 126.5Z"/>
<path fill="#3550fc" d="M249.5 79.5 255.1 78.6 255.5 74.0 255.9 69.6 249.5 67.7 249.3 71.5 249.5 75.6Z"/>
<path fill="#2551f1" d="M410.4 153.3 414.2 154.3 418.3 155.2 421.4 150.7 423.4 145.8 422.8 144.7 418.2 143.5 414.2 146.4 410.1 149.2Z"/>
<path fill="#51f932" d="M380.3 67.9 384.0 70.3 387.9 72.2 390.1 68.9 392.1 66.0 389.2 61.9 385.0 62.5 381.4 63.1Z"/>
<path fill="#48f7a8" d="M246.3 221.7 251.7 221.2 252.2 218.7 253.0 216.0 247.6 215.3 246.4 219.6Z"/>
<path fill="#7afa4a" d="M478.8 129.4 483.5 133.0 488.7 132.1 489.4 128.8 489.9 125.8 485.6 126.1 480.7 126.7Z"/>
<path fill="#6247f3" d="M352.1 112.3 356.7 113.4 357.4 108.8 358.8 105.4 358.5 105.3 353.8 106.9 350.3 108.6Z"/>
<path fill="#47fb37" d="M488.6 60.2 492.4 60.8 496.0 61.0 496.7 57.5 497.4 54.0 493.5 53.8 490.0 53.1Z"/>
<path fill="#456bfc" d="M307.9 68.6 310.5 72.3 317.6 71.9 319.9 67.1 317.0 63.4 314.0 59.9 310.7 61.1Z"/>
<path fill="#30fa38" d="M350.1 170.3 354.6 171.0 358.9 171.9 359.0 171.9 359.4 169.3 359.2 166.4 353.7 163.9 352.3 164.3 351.6 167.8Z"/>
<path fill="#57ff43" d="M483.2 51.6 488.0 50.5 487.5 46.2 486.6 42.0 483.1 41.4 479.2 41.5 478.9 41.8 481.4 46.6Z"/>
<path fill="#644df0" d="M329.8 144.2 330.2 144.7 333.9 143.6 338.5 143.1 338.4 138.9 338.2 135.0 333.5 134.6 329.2 134.3 329.4 138.9Z"/>
<path fill="#42f7bb" d="M504.4 145.0 509.3 144.6 509.6 139.6 509.8 133.1 506.3 133.4 503.0 133.8 500.2 140.0Z"/>
<path fill="#5ff644" d="M249.2 207.8 256.8 207.7 254.7 202.7 252.8 199.0 249.0 199.2 249.2 203.2Z"/>
<path fill="#44fab6" d="M482.7 151.5 485.8 148.5 489.2 145.9 489.1 145.3 483.4 140.9 480.9 143.6 478.8 146.2 480.8 149.3Z"/>
<path fill="#33f53c" d="M476.6 215.1 481.7 215.1 481.8 207.8 475.7 208.3Z"/>
<path fill="#40fd36" d="M369.8 232.7 368.6 228.0 364.3 227.7 360.3 227.3 358.1 232.4 360.3 232.6 364.8 232.9Z"/>
<path fill="#38fe43" d="M262.6 226.7 255.3 224.4 254.0 230.1 259.1 231.0 264.2 231.9Z"/>
<path fill="#8f53fa" d="M304.5 196.0 307.4 192.0 305.7 188.8 304.4 185.9 300.8 188.4 298.3 190.7 301.3 193.1Z"/>
<path fill="#44f887" d="M441.4 100.1 445.5 99.0 449.4 97.3 445.6 91.9 438.6 92.9 438.5 93.0 440.1 97.1Z"/>
<path fill="#6d50fe" d="M406.8 24.4 412.4 28.6 413.4 25.0 414.6 21.8 415.5 18.3 413.0 17.4 409.5 19.0 405.6 20.2Z"/>
<path fill="#3efcab" d="M395.0 89.8 396.1 91.8 400.9 91.6 405.8 91.4 407.6 89.1 407.3 87.9 403.4 86.3 399.4 84.5Z"/>
<path fill="#3ffbbd" d="M315.9 173.1 319.5 173.9 323.1 174.7 326.8 175.3 326.1 170.1 324.5 164.8 320.6 164.9 318.6 169.1Z"/>
<path fill="#42f84f" d="M397.5 192.9 404.9 190.3 405.3 181.7 401.0 181.1 397.2 184.4 397.3 188.7Z"/>
<path fill="#61f544" d="M376.1 37.4 380.7 43.0 385.0 40.5 388.5 37.7 385.9 30.2 381.1 32.0 376.0 34.4Z"/>
<path fill="#43fb4f" d="M279.6 38.7 281.5 38.6 285.0 34.7 287.7 30.1 287.6 29.7 286.6 28.9 283.1 28.8 279.5 28.7 275.8 28.4 277.8 34.1Z"/>
<path fill="#38f98e" d="M433.7 9.4 432.5 13.1 431.2 16.0 432.0 16.5 436.1 16.2 440.4 15.7 440.0 12.0 439.8 7.9 439.8 7.9Z"/>
<path fill="#47f8af" d="M257.4 161.1 258.3 160.9 259.0 158.0 259.7 154.9 259.7 154.8 256.7 154.4 253.7 154.2 250.4 154.4 250.6 156.8 254.1 158.9Z"/>
<path fill="#3efca3" d="M374.7 115.1 381.5 115.0 381.9 110.9 382.3 106.8 378.1 106.0 373.7 105.8 374.3 110.1Z"/>
<path fill="#56f53d" d="M350.8 16.1 351.3 12.9 351.5 9.3 348.3 9.7 344.5 9.7 340.2 9.0 343.8 12.3 347.3 14.7Z"/>
<path fill="#6945eb" d="M527.1 141.7 531.6 141.9 532.3 138.0 531.8 132.7 526.6 136.9Z"/>
<path fill="#2628f0" d="M312.4 226.1 308.4 229.0 308.7 231.5 313.2 231.5 317.4 231.5 318.3 231.4 315.3 228.9Z"/>
<path fill="#36fa3f" d="M289.4 107.2 292.2 111.0 296.3 112.8 296.7 109.7 297.4 106.5 292.2 103.2Z"/>
<path fill="#161df1" d="M439.8 32.6 443.4 32.4 448.2 31.9 445.6 28.5 442.9 24.2 439.4 25.6 436.7 27.2Z"/>
<path fill="#65eafd" d="M491.7 168.0 495.8 166.5 500.5 165.5 504.8 165.0 501.9 157.0 497.0 159.2 491.3 162.3Z"/>
<path fill="#48fe9d" d="M497.6 202.5 500.9 201.6 503.1 194.7 497.7 191.5 493.7 195.4Z"/>
<path fill="#3dfa3b" d="M374.2 52.1 379.0 55.7 384.8 52.7 381.6 50.4 378.8 47.7 375.0 49.1Z"/>
<path fill="#95fe3f" d="M407.3 87.9 407.6 89.1 411.7 88.9 415.2 88.4 415.6 81.5 412.3 81.6 409.1 81.7Z"/>
<path fill="#151dea" d="M255.7 117.0 263.5 115.3 264.3 108.6 259.7 108.9 255.2 109.2 255.7 113.5Z"/>
<path fill="#4ef699" d="M388.4 52.8 391.1 55.0 397.3 53.5 398.3 46.4 395.8 43.6 393.7 47.0 391.4 50.0Z"/>
<path fill="#fd545c" d="M509.4 222.5 510.3 223.5 515.1 222.2 520.0 220.6 519.5 216.2 519.5 211.5 514.9 212.1 513.0 215.7 511.3 219.2Z"/>
<path fill="#43fa30" d="M268.3 124.8 272.1 126.1 275.4 127.0 275.4 123.0 275.6 118.8 273.3 117.2 268.7 119.4Z"/>
<path fill="#2848eb" d="M351.0 139.0 353.7 138.4 356.1 137.5 354.4 133.6 352.8 130.3 350.3 130.7 347.6 131.1 349.4 134.7Z"/>
<path fill="#b6fcdc" d="M268.7 223.7 272.9 224.9 274.6 219.8 276.8 215.7 273.5 215.6 270.1 215.5 269.3 219.8Z"/>
<path fill="#9152ff" d="M495.1 24.2 499.9 26.2 504.4 28.0 506.2 22.4 501.8 17.9 495.2 19.9Z"/>
<path fill="#3453f0" d="M335.2 216.3 340.6 216.2 343.8 208.5 342.2 206.3 337.1 208.4 332.0 210.5Z"/>
<path fill="#44f748" d="M374.0 155.7 374.5 156.4 377.8 155.7 381.2 155.2 385.0 154.7 383.3 149.8 382.1 145.8 377.0 146.2 374.9 150.2Z"/>
<path fill="#4afc94" d="M271.3 99.7 274.4 100.5 277.8 101.4 279.7 98.0 275.2 93.8 273.0 96.8Z"/>
<path fill="#49c3f8" d="M247.5 103.6 248.5 103.7 250.1 99.6 252.7 95.8 255.7 92.2 247.0 90.1 246.7 93.3 246.9 98.4Z"/>
<path fill="#8848fa" d="M305.3 212.6 307.7 212.4 310.9 210.3 308.1 208.3 304.8 204.7 299.4 207.9 301.6 209.9 303.5 211.1Z"/>
<path fill="#355ff0" d="M358.5 105.3 358.8 105.4 362.6 104.3 361.9 100.2 361.0 95.0 360.2 89.8 356.7 90.1 353.0 91.0 352.8 91.4 354.7 96.4 356.7 101.5Z"/>
<path fill="#57fe3b" d="M495.7 69.1 498.7 71.0 501.8 73.3 502.9 68.8 504.1 64.4 500.2 63.1 496.7 62.2 496.2 65.6Z"/>
<path fill="#31fe37" d="M454.2 61.3 457.9 64.2 461.8 62.4 465.6 60.5 462.9 56.6 460.0 52.7 459.1 53.0 456.9 57.3Z"/>
<path fill="#41f82e" d="M270.2 198.0 273.4 195.6 271.1 193.6 268.8 190.9 265.4 193.8 267.8 195.9Z"/>
<path fill="#4ff6b1" d="M427.0 133.5 428.2 136.1 429.0 136.3 432.2 134.0 434.9 130.9 437.1 127.4 434.9 124.4 432.3 121.5 431.2 125.9 429.6 130.2Z"/>
<path fill="#356df1" d="M501.8 17.9 506.2 22.4 507.9 19.5 509.0 16.3 505.6 14.3 502.4 12.2Z"/>
<path fill="#436cf0" d="M469.4 114.0 475.7 116.7 477.3 114.9 477.4 111.7 477.4 109.0 477.8 106.1 472.0 106.7 470.6 110.3Z"/>
<path fill="#345bf9" d="M437.3 153.5 442.8 149.6 441.8 145.0 434.1 144.6 432.1 148.6Z"/>
<path fill="#4af2f3" d="M355.9 123.2 356.2 123.0 358.0 116.4 356.7 113.4 352.1 112.3 350.7 116.6 353.2 120.1Z"/>
<path fill="#7452f9" d="M329.6 186.1 333.9 182.2 337.5 177.3 337.5 177.0 334.3 176.9 330.8 176.4 327.0 175.6 327.7 179.3 328.5 182.8Z"/>
<path fill="#945efb" d="M514.9 116.3 518.3 117.5 522.2 118.2 524.6 113.6 526.7 108.4 521.5 105.6 517.9 108.5 514.5 111.0Z"/>
<path fill="#35fe36" d="M527.1 86.1 525.3 91.2 531.8 94.0 532.1 90.5 532.4 87.1Z"/>
<path fill="#44fd48" d="M458.4 100.4 459.5 101.3 462.7 98.0 464.1 93.2 458.8 93.3 458.3 95.9Z"/>
<path fill="#44fb47" d="M507.1 99.4 512.5 95.1 511.5 92.6 506.7 89.8 504.0 91.8 505.4 95.7Z"/>
<path fill="#6840ef" d="M356.2 45.0 356.2 45.0 357.3 39.0 350.6 35.5 348.2 39.3 352.3 42.0Z"/>
<path fill="#3efc3f" d="M416.2 226.1 415.0 222.2 410.3 222.3 405.9 222.1 406.3 224.8 406.9 227.9 407.7 231.0 410.2 231.4 412.7 229.1Z"/>
<path fill="#48f839" d="M280.9 62.5 284.8 64.8 289.3 63.2 287.8 59.4 286.4 55.5 281.1 59.8Z"/>
<path fill="#6afa31" d="M293.2 74.6 297.2 73.9 301.0 73.1 301.4 69.8 298.9 66.5 292.9 66.7Z"/>
<path fill="#51f736" d="M314.1 108.6 319.3 106.7 317.5 101.0 316.1 96.5 312.8 99.1 310.5 103.0Z"/>
<path fill="#55fa8d" d="M436.4 230.6 439.7 230.5 443.5 230.6 443.7 227.0 437.2 226.7Z"/>
<path fill="#4df533" d="M305.0 145.1 309.6 144.3 309.1 140.8 308.8 137.3 304.9 137.0 300.9 136.4 302.7 140.9Z"/>
<path fill="#44fe46" d="M401.7 131.0 404.4 133.9 407.1 135.9 411.2 133.2 409.9 129.4 408.5 124.7 405.1 126.6 402.6 128.2Z"/>
<path fill="#7351fd" d="M287.6 52.9 289.1 52.2 292.6 45.6 289.2 41.0 287.2 41.5 283.9 45.0 285.7 48.8Z"/>
<path fill="#d8fbd2" d="M288.3 15.5 289.3 15.7 291.7 12.6 295.1 9.3 289.8 9.2 285.7 8.7Z"/>
<path fill="#55f942" d="M497.6 208.9 499.7 211.5 503.1 207.6 500.9 201.6 497.6 202.5 497.7 206.0Z"/>
<path fill="#7b51f0" d="M330.8 40.5 333.6 45.7 337.0 41.5 341.1 38.4 339.9 34.9 334.2 33.8Z"/>
<path fill="#7458ec" d="M504.7 109.2 507.6 107.4 507.1 103.9 506.8 100.0 502.5 101.8 498.6 103.7 501.6 106.6Z"/>
<path fill="#3e5ced" d="M342.0 183.0 344.4 179.9 347.2 177.1 344.4 172.7 341.5 172.6 337.5 177.0 337.5 177.3 339.7 180.1Z"/>
<path fill="#47f83e" d="M433.1 219.6 433.1 219.6 435.8 217.3 439.0 215.5 436.7 213.6 434.1 211.1 432.0 212.9 429.9 214.5Z"/>
<path fill="#2d57f5" d="M484.2 190.6 486.6 186.0 489.5 181.8 487.7 178.8 485.7 178.5 482.2 182.0 483.0 186.1Z"/>
<path fill="#57fb3e" d="M361.6 182.0 364.7 186.5 370.6 183.7 370.0 180.5 366.7 177.3 364.5 179.8Z"/>
<path fill="#43f934" d="M421.1 74.1 424.0 72.8 426.3 71.8 425.5 69.0 419.5 65.3 417.2 68.8Z"/>
<path fill="#2127e5" d="M403.2 115.6 406.0 119.1 408.8 123.0 412.4 118.0 414.9 113.5 411.7 110.8 407.7 112.9Z"/>
<path fill="#33fa2f" d="M392.1 169.8 392.1 170.1 395.3 171.9 398.7 173.1 403.9 166.1 400.3 165.0 396.7 163.9Z"/>
<path fill="#1521e3" d="M365.8 23.8 367.8 19.9 371.3 16.5 369.6 14.4 365.2 14.7 361.7 14.6 359.1 14.7 359.0 15.4 362.3 19.3Z"/>
<path fill="#52fb44" d="M379.1 206.1 379.1 206.1 381.2 204.2 384.1 201.9 387.7 199.6 384.2 198.9 381.0 197.1 377.8 194.5 378.3 199.1 378.5 202.8Z"/>
<path fill="#90f533" d="M458.4 127.4 460.3 130.7 462.1 133.4 467.3 130.1 465.2 126.6 462.7 122.2 462.3 122.2Z"/>
<path fill="#3a65f5" d="M320.3 26.2 323.7 27.8 327.0 29.4 328.3 28.7 327.8 25.3 327.0 21.6 326.1 17.8 322.8 18.1 321.6 22.4Z"/>
<path fill="#4ff72f" d="M411.7 170.9 415.5 170.5 415.4 167.4 412.5 164.5 409.4 162.3 405.8 165.5 408.8 168.1Z"/>
<path fill="#8142f8" d="M529.3 151.6 526.2 151.5 525.9 156.2 530.7 160.6 530.6 160.4 529.6 156.7Z"/>
<path fill="#54f637" d="M303.0 41.7 308.1 40.4 313.6 39.0 312.6 36.0 311.3 33.2 306.6 35.1 301.6 36.9Z"/>
<path fill="#4af52d" d="M336.1 224.2 339.0 223.5 342.4 222.6 340.6 216.2 335.2 216.3 335.5 220.6Z"/>
<path fill="#8255fb" d="M288.8 135.5 290.6 133.2 288.7 128.7 286.9 124.4 282.4 128.3 278.9 131.4 282.2 132.6 285.5 133.8Z"/>
<path fill="#141eda" d="M383.1 171.2 385.4 174.3 389.0 172.4 392.1 170.1 392.1 169.8 388.0 165.7 384.1 167.2Z"/>
<path fill="#2e62f0" d="M271.3 17.8 276.4 21.1 282.2 17.1 279.6 13.8 276.8 9.9 273.9 13.8Z"/>
<path fill="#2127e2" d="M261.3 21.0 264.4 23.1 267.4 24.4 269.0 21.8 270.4 18.3 266.6 17.5 263.1 16.0 261.2 18.9Z"/>
<path fill="#8eff49" d="M249.2 146.6 252.7 145.1 256.4 144.0 253.6 138.8 248.9 140.3 248.8 143.0Z"/>
<path fill="#52fd35" d="M327.6 194.8 331.3 195.4 335.3 195.1 339.5 194.1 339.4 193.5 335.9 191.1 332.6 188.7 329.6 186.2 328.0 190.2Z"/>
<path fill="#3cf62f" d="M368.7 52.2 369.4 53.2 371.7 52.5 374.2 52.1 375.0 49.1 370.1 47.5Z"/>
<path fill="#38f8ba" d="M282.2 114.0 287.2 115.9 292.2 111.0 289.4 107.2 285.7 107.8 281.9 108.9Z"/>
<path fill="#5bfc44" d="M392.0 226.8 396.7 223.5 396.7 223.4 394.3 221.5 391.8 219.4 389.2 221.4 386.3 222.8 389.2 224.8Z"/>
<path fill="#a0f941" d="M335.7 117.5 340.0 117.7 343.9 118.0 343.9 111.3 337.1 111.4 336.3 114.1Z"/>
</g>
</g>
<line x1="255.4" y1="231.3" x2="377.7" y2="231.3" stroke="#333" stroke-width="1.6"/>
<g><path fill="#5eca5b" d="M124.0 273.2h1.7v1.7h-1.7zM122.5 276.2h1.7v1.7h-1.7zM127.0 277.7h1.7v1.7h-1.7zM137.5 277.7h1.7v1.7h-1.7zM116.5 279.2h1.7v1.7h-1.7zM101.5 280.7h1.7v1.7h-1.7zM103.0 280.7h1.7v1.7h-1.7zM115.0 280.7h1.7v1.7h-1.7zM134.5 280.7h1.7v1.7h-1.7zM136.0 280.7h1.7v1.7h-1.7zM137.5 280.7h1.7v1.7h-1.7zM151.0 280.7h1.7v1.7h-1.7zM134.5 282.2h1.7v1.7h-1.7zM136.0 282.2h1.7v1.7h-1.7zM137.5 282.2h1.7v1.7h-1.7zM152.5 282.2h1.7v1.7h-1.7zM127.0 283.7h1.7v1.7h-1.7zM133.0 283.7h1.7v1.7h-1.7zM134.5 283.7h1.7v1.7h-1.7zM125.5 285.2h1.7v1.7h-1.7zM127.0 285.2h1.7v1.7h-1.7zM128.5 285.2h1.7v1.7h-1.7zM133.0 285.2h1.7v1.7h-1.7zM122.5 286.7h1.7v1.7h-1.7zM125.5 286.7h1.7v1.7h-1.7zM133.0 286.7h1.7v1.7h-1.7zM128.5 288.2h1.7v1.7h-1.7zM134.5 288.2h1.7v1.7h-1.7zM82.0 289.7h1.7v1.7h-1.7zM116.5 289.7h1.7v1.7h-1.7zM130.0 289.7h1.7v1.7h-1.7zM89.5 291.2h1.7v1.7h-1.7zM89.5 292.7h1.7v1.7h-1.7zM169.0 292.7h1.7v1.7h-1.7zM170.5 292.7h1.7v1.7h-1.7zM88.0 294.2h1.7v1.7h-1.7zM89.5 294.2h1.7v1.7h-1.7zM154.0 294.2h1.7v1.7h-1.7zM169.0 294.2h1.7v1.7h-1.7zM170.5 294.2h1.7v1.7h-1.7zM160.0 295.7h1.7v1.7h-1.7zM161.5 295.7h1.7v1.7h-1.7zM170.5 295.7h1.7v1.7h-1.7zM160.0 297.2h1.7v1.7h-1.7zM77.5 298.7h1.7v1.7h-1.7zM91.0 298.7h1.7v1.7h-1.7zM76.0 300.2h1.7v1.7h-1.7zM91.0 300.2h1.7v1.7h-1.7zM76.0 301.7h1.7v1.7h-1.7zM77.5 301.7h1.7v1.7h-1.7zM79.0 301.7h1.7v1.7h-1.7zM109.0 301.7h1.7v1.7h-1.7zM122.5 301.7h1.7v1.7h-1.7zM131.5 301.7h1.7v1.7h-1.7zM76.0 303.2h1.7v1.7h-1.7zM121.0 303.2h1.7v1.7h-1.7zM134.5 303.2h1.7v1.7h-1.7zM115.0 304.7h1.7v1.7h-1.7zM143.5 304.7h1.7v1.7h-1.7zM146.5 304.7h1.7v1.7h-1.7zM148.0 304.7h1.7v1.7h-1.7zM143.5 306.2h1.7v1.7h-1.7zM146.5 306.2h1.7v1.7h-1.7zM148.0 306.2h1.7v1.7h-1.7zM149.5 306.2h1.7v1.7h-1.7zM142.0 307.7h1.7v1.7h-1.7zM143.5 307.7h1.7v1.7h-1.7zM148.0 307.7h1.7v1.7h-1.7zM149.5 307.7h1.7v1.7h-1.7zM151.0 307.7h1.7v1.7h-1.7zM113.5 309.2h1.7v1.7h-1.7zM128.5 309.2h1.7v1.7h-1.7zM131.5 309.2h1.7v1.7h-1.7zM142.0 309.2h1.7v1.7h-1.7zM143.5 309.2h1.7v1.7h-1.7zM149.5 309.2h1.7v1.7h-1.7zM151.0 309.2h1.7v1.7h-1.7zM152.5 309.2h1.7v1.7h-1.7zM160.0 309.2h1.7v1.7h-1.7zM161.5 309.2h1.7v1.7h-1.7zM163.0 309.2h1.7v1.7h-1.7zM110.5 310.7h1.7v1.7h-1.7zM128.5 310.7h1.7v1.7h-1.7zM143.5 310.7h1.7v1.7h-1.7zM148.0 310.7h1.7v1.7h-1.7zM154.0 310.7h1.7v1.7h-1.7zM155.5 310.7h1.7v1.7h-1.7zM157.0 310.7h1.7v1.7h-1.7zM158.5 310.7h1.7v1.7h-1.7zM160.0 310.7h1.7v1.7h-1.7zM167.5 310.7h1.7v1.7h-1.7zM169.0 310.7h1.7v1.7h-1.7zM109.0 312.2h1.7v1.7h-1.7zM110.5 312.2h1.7v1.7h-1.7zM143.5 312.2h1.7v1.7h-1.7zM145.0 312.2h1.7v1.7h-1.7zM146.5 312.2h1.7v1.7h-1.7zM148.0 312.2h1.7v1.7h-1.7zM157.0 312.2h1.7v1.7h-1.7zM107.5 313.7h1.7v1.7h-1.7zM109.0 313.7h1.7v1.7h-1.7zM110.5 313.7h1.7v1.7h-1.7zM143.5 313.7h1.7v1.7h-1.7zM145.0 313.7h1.7v1.7h-1.7zM146.5 313.7h1.7v1.7h-1.7zM157.0 313.7h1.7v1.7h-1.7zM104.5 315.2h1.7v1.7h-1.7zM106.0 315.2h1.7v1.7h-1.7zM107.5 315.2h1.7v1.7h-1.7zM109.0 315.2h1.7v1.7h-1.7zM112.0 315.2h1.7v1.7h-1.7zM143.5 315.2h1.7v1.7h-1.7zM145.0 315.2h1.7v1.7h-1.7zM104.5 316.7h1.7v1.7h-1.7zM107.5 316.7h1.7v1.7h-1.7zM109.0 316.7h1.7v1.7h-1.7zM110.5 316.7h1.7v1.7h-1.7zM112.0 316.7h1.7v1.7h-1.7zM113.5 316.7h1.7v1.7h-1.7zM118.0 316.7h1.7v1.7h-1.7zM119.5 316.7h1.7v1.7h-1.7zM121.0 316.7h1.7v1.7h-1.7zM136.0 316.7h1.7v1.7h-1.7zM143.5 316.7h1.7v1.7h-1.7zM145.0 316.7h1.7v1.7h-1.7zM188.5 316.7h1.7v1.7h-1.7zM103.0 318.2h1.7v1.7h-1.7zM112.0 318.2h1.7v1.7h-1.7zM113.5 318.2h1.7v1.7h-1.7zM115.0 318.2h1.7v1.7h-1.7zM116.5 318.2h1.7v1.7h-1.7zM128.5 318.2h1.7v1.7h-1.7zM139.0 318.2h1.7v1.7h-1.7zM140.5 318.2h1.7v1.7h-1.7zM142.0 318.2h1.7v1.7h-1.7zM151.0 318.2h1.7v1.7h-1.7zM103.0 319.7h1.7v1.7h-1.7zM115.0 319.7h1.7v1.7h-1.7zM116.5 319.7h1.7v1.7h-1.7zM118.0 319.7h1.7v1.7h-1.7zM127.0 319.7h1.7v1.7h-1.7zM128.5 319.7h1.7v1.7h-1.7zM130.0 319.7h1.7v1.7h-1.7zM136.0 319.7h1.7v1.7h-1.7zM137.5 319.7h1.7v1.7h-1.7zM139.0 319.7h1.7v1.7h-1.7zM140.5 319.7h1.7v1.7h-1.7zM142.0 319.7h1.7v1.7h-1.7zM151.0 319.7h1.7v1.7h-1.7zM152.5 319.7h1.7v1.7h-1.7zM103.0 321.2h1.7v1.7h-1.7zM113.5 321.2h1.7v1.7h-1.7zM128.5 321.2h1.7v1.7h-1.7zM130.0 321.2h1.7v1.7h-1.7zM133.0 321.2h1.7v1.7h-1.7zM134.5 321.2h1.7v1.7h-1.7zM151.0 321.2h1.7v1.7h-1.7zM103.0 322.7h1.7v1.7h-1.7zM116.5 322.7h1.7v1.7h-1.7zM118.0 322.7h1.7v1.7h-1.7zM128.5 322.7h1.7v1.7h-1.7zM151.0 322.7h1.7v1.7h-1.7zM152.5 322.7h1.7v1.7h-1.7zM154.0 322.7h1.7v1.7h-1.7zM94.0 324.2h1.7v1.7h-1.7zM95.5 324.2h1.7v1.7h-1.7zM97.0 324.2h1.7v1.7h-1.7zM103.0 324.2h1.7v1.7h-1.7zM106.0 324.2h1.7v1.7h-1.7zM127.0 324.2h1.7v1.7h-1.7zM128.5 324.2h1.7v1.7h-1.7zM149.5 324.2h1.7v1.7h-1.7zM151.0 324.2h1.7v1.7h-1.7zM152.5 324.2h1.7v1.7h-1.7zM154.0 324.2h1.7v1.7h-1.7zM67.0 325.7h1.7v1.7h-1.7zM95.5 325.7h1.7v1.7h-1.7zM97.0 325.7h1.7v1.7h-1.7zM106.0 325.7h1.7v1.7h-1.7zM125.5 325.7h1.7v1.7h-1.7zM145.0 325.7h1.7v1.7h-1.7zM182.5 325.7h1.7v1.7h-1.7zM184.0 325.7h1.7v1.7h-1.7zM50.5 327.2h1.7v1.7h-1.7zM104.5 327.2h1.7v1.7h-1.7zM106.0 327.2h1.7v1.7h-1.7zM107.5 327.2h1.7v1.7h-1.7zM122.5 327.2h1.7v1.7h-1.7zM124.0 327.2h1.7v1.7h-1.7zM125.5 327.2h1.7v1.7h-1.7zM127.0 327.2h1.7v1.7h-1.7zM134.5 327.2h1.7v1.7h-1.7zM136.0 327.2h1.7v1.7h-1.7zM154.0 327.2h1.7v1.7h-1.7zM155.5 327.2h1.7v1.7h-1.7zM182.5 327.2h1.7v1.7h-1.7zM184.0 327.2h1.7v1.7h-1.7zM89.5 328.7h1.7v1.7h-1.7zM124.0 328.7h1.7v1.7h-1.7zM125.5 328.7h1.7v1.7h-1.7zM127.0 328.7h1.7v1.7h-1.7zM128.5 328.7h1.7v1.7h-1.7zM130.0 328.7h1.7v1.7h-1.7zM131.5 328.7h1.7v1.7h-1.7zM140.5 328.7h1.7v1.7h-1.7zM182.5 328.7h1.7v1.7h-1.7zM43.0 330.2h1.7v1.7h-1.7zM88.0 330.2h1.7v1.7h-1.7zM121.0 330.2h1.7v1.7h-1.7zM127.0 330.2h1.7v1.7h-1.7zM128.5 330.2h1.7v1.7h-1.7zM130.0 330.2h1.7v1.7h-1.7zM131.5 330.2h1.7v1.7h-1.7zM152.5 330.2h1.7v1.7h-1.7zM43.0 331.7h1.7v1.7h-1.7zM44.5 331.7h1.7v1.7h-1.7zM131.5 331.7h1.7v1.7h-1.7zM133.0 331.7h1.7v1.7h-1.7zM134.5 331.7h1.7v1.7h-1.7zM136.0 331.7h1.7v1.7h-1.7zM145.0 331.7h1.7v1.7h-1.7zM146.5 331.7h1.7v1.7h-1.7zM148.0 331.7h1.7v1.7h-1.7zM149.5 331.7h1.7v1.7h-1.7zM151.0 331.7h1.7v1.7h-1.7zM43.0 333.2h1.7v1.7h-1.7zM130.0 333.2h1.7v1.7h-1.7zM131.5 333.2h1.7v1.7h-1.7zM133.0 333.2h1.7v1.7h-1.7zM134.5 333.2h1.7v1.7h-1.7zM136.0 333.2h1.7v1.7h-1.7zM137.5 333.2h1.7v1.7h-1.7zM139.0 333.2h1.7v1.7h-1.7zM143.5 333.2h1.7v1.7h-1.7zM145.0 333.2h1.7v1.7h-1.7zM146.5 333.2h1.7v1.7h-1.7zM82.0 334.7h1.7v1.7h-1.7zM116.5 334.7h1.7v1.7h-1.7zM130.0 334.7h1.7v1.7h-1.7zM131.5 334.7h1.7v1.7h-1.7zM133.0 334.7h1.7v1.7h-1.7zM137.5 334.7h1.7v1.7h-1.7zM142.0 334.7h1.7v1.7h-1.7zM143.5 334.7h1.7v1.7h-1.7zM145.0 334.7h1.7v1.7h-1.7zM146.5 334.7h1.7v1.7h-1.7zM110.5 336.2h1.7v1.7h-1.7zM128.5 336.2h1.7v1.7h-1.7zM131.5 336.2h1.7v1.7h-1.7zM137.5 336.2h1.7v1.7h-1.7zM142.0 336.2h1.7v1.7h-1.7zM146.5 336.2h1.7v1.7h-1.7zM128.5 337.7h1.7v1.7h-1.7zM130.0 337.7h1.7v1.7h-1.7zM131.5 337.7h1.7v1.7h-1.7zM134.5 337.7h1.7v1.7h-1.7zM136.0 337.7h1.7v1.7h-1.7zM142.0 337.7h1.7v1.7h-1.7zM146.5 337.7h1.7v1.7h-1.7zM140.5 339.2h1.7v1.7h-1.7zM142.0 339.2h1.7v1.7h-1.7zM145.0 339.2h1.7v1.7h-1.7zM151.0 339.2h1.7v1.7h-1.7zM139.0 340.7h1.7v1.7h-1.7zM143.5 340.7h1.7v1.7h-1.7zM65.5 342.2h1.7v1.7h-1.7zM116.5 342.2h1.7v1.7h-1.7zM124.0 342.2h1.7v1.7h-1.7zM140.5 342.2h1.7v1.7h-1.7zM142.0 342.2h1.7v1.7h-1.7zM143.5 342.2h1.7v1.7h-1.7zM113.5 343.7h1.7v1.7h-1.7zM115.0 343.7h1.7v1.7h-1.7zM116.5 343.7h1.7v1.7h-1.7zM125.5 343.7h1.7v1.7h-1.7zM142.0 343.7h1.7v1.7h-1.7zM44.5 345.2h1.7v1.7h-1.7zM115.0 345.2h1.7v1.7h-1.7zM116.5 345.2h1.7v1.7h-1.7zM146.5 345.2h1.7v1.7h-1.7zM44.5 346.7h1.7v1.7h-1.7zM113.5 346.7h1.7v1.7h-1.7zM115.0 346.7h1.7v1.7h-1.7zM124.0 346.7h1.7v1.7h-1.7zM131.5 346.7h1.7v1.7h-1.7zM146.5 346.7h1.7v1.7h-1.7zM148.0 346.7h1.7v1.7h-1.7zM100.0 348.2h1.7v1.7h-1.7zM113.5 348.2h1.7v1.7h-1.7zM115.0 348.2h1.7v1.7h-1.7zM130.0 348.2h1.7v1.7h-1.7zM131.5 348.2h1.7v1.7h-1.7zM133.0 348.2h1.7v1.7h-1.7zM140.5 348.2h1.7v1.7h-1.7zM142.0 348.2h1.7v1.7h-1.7zM146.5 348.2h1.7v1.7h-1.7zM98.5 349.7h1.7v1.7h-1.7zM100.0 349.7h1.7v1.7h-1.7zM101.5 349.7h1.7v1.7h-1.7zM103.0 349.7h1.7v1.7h-1.7zM113.5 349.7h1.7v1.7h-1.7zM115.0 349.7h1.7v1.7h-1.7zM118.0 349.7h1.7v1.7h-1.7zM131.5 349.7h1.7v1.7h-1.7zM133.0 349.7h1.7v1.7h-1.7zM134.5 349.7h1.7v1.7h-1.7zM136.0 349.7h1.7v1.7h-1.7zM137.5 349.7h1.7v1.7h-1.7zM139.0 349.7h1.7v1.7h-1.7zM140.5 349.7h1.7v1.7h-1.7zM142.0 349.7h1.7v1.7h-1.7zM146.5 349.7h1.7v1.7h-1.7zM98.5 351.2h1.7v1.7h-1.7zM100.0 351.2h1.7v1.7h-1.7zM101.5 351.2h1.7v1.7h-1.7zM103.0 351.2h1.7v1.7h-1.7zM113.5 351.2h1.7v1.7h-1.7zM115.0 351.2h1.7v1.7h-1.7zM116.5 351.2h1.7v1.7h-1.7zM118.0 351.2h1.7v1.7h-1.7zM119.5 351.2h1.7v1.7h-1.7zM133.0 351.2h1.7v1.7h-1.7zM134.5 351.2h1.7v1.7h-1.7zM139.0 351.2h1.7v1.7h-1.7zM140.5 351.2h1.7v1.7h-1.7zM143.5 351.2h1.7v1.7h-1.7zM145.0 351.2h1.7v1.7h-1.7zM146.5 351.2h1.7v1.7h-1.7zM148.0 351.2h1.7v1.7h-1.7zM152.5 351.2h1.7v1.7h-1.7zM154.0 351.2h1.7v1.7h-1.7zM97.0 352.7h1.7v1.7h-1.7zM98.5 352.7h1.7v1.7h-1.7zM101.5 352.7h1.7v1.7h-1.7zM115.0 352.7h1.7v1.7h-1.7zM118.0 352.7h1.7v1.7h-1.7zM119.5 352.7h1.7v1.7h-1.7zM121.0 352.7h1.7v1.7h-1.7zM130.0 352.7h1.7v1.7h-1.7zM134.5 352.7h1.7v1.7h-1.7zM136.0 352.7h1.7v1.7h-1.7zM137.5 352.7h1.7v1.7h-1.7zM139.0 352.7h1.7v1.7h-1.7zM92.5 354.2h1.7v1.7h-1.7zM98.5 354.2h1.7v1.7h-1.7zM115.0 354.2h1.7v1.7h-1.7zM116.5 354.2h1.7v1.7h-1.7zM118.0 354.2h1.7v1.7h-1.7zM119.5 354.2h1.7v1.7h-1.7zM121.0 354.2h1.7v1.7h-1.7zM139.0 354.2h1.7v1.7h-1.7zM158.5 354.2h1.7v1.7h-1.7zM115.0 355.7h1.7v1.7h-1.7zM116.5 355.7h1.7v1.7h-1.7zM118.0 355.7h1.7v1.7h-1.7zM127.0 355.7h1.7v1.7h-1.7zM128.5 355.7h1.7v1.7h-1.7zM154.0 355.7h1.7v1.7h-1.7zM115.0 357.2h1.7v1.7h-1.7zM116.5 357.2h1.7v1.7h-1.7zM124.0 357.2h1.7v1.7h-1.7zM125.5 357.2h1.7v1.7h-1.7zM139.0 357.2h1.7v1.7h-1.7zM154.0 357.2h1.7v1.7h-1.7zM155.5 357.2h1.7v1.7h-1.7zM124.0 358.7h1.7v1.7h-1.7zM125.5 358.7h1.7v1.7h-1.7zM130.0 358.7h1.7v1.7h-1.7zM145.0 358.7h1.7v1.7h-1.7zM146.5 358.7h1.7v1.7h-1.7zM155.5 358.7h1.7v1.7h-1.7zM122.5 360.2h1.7v1.7h-1.7zM136.0 360.2h1.7v1.7h-1.7zM142.0 360.2h1.7v1.7h-1.7zM122.5 361.7h1.7v1.7h-1.7zM136.0 361.7h1.7v1.7h-1.7zM140.5 361.7h1.7v1.7h-1.7zM142.0 361.7h1.7v1.7h-1.7zM143.5 361.7h1.7v1.7h-1.7zM122.5 363.2h1.7v1.7h-1.7zM134.5 363.2h1.7v1.7h-1.7zM136.0 363.2h1.7v1.7h-1.7zM140.5 363.2h1.7v1.7h-1.7zM145.0 363.2h1.7v1.7h-1.7zM157.0 363.2h1.7v1.7h-1.7zM119.5 364.7h1.7v1.7h-1.7zM121.0 364.7h1.7v1.7h-1.7zM122.5 364.7h1.7v1.7h-1.7zM133.0 364.7h1.7v1.7h-1.7zM134.5 364.7h1.7v1.7h-1.7zM136.0 364.7h1.7v1.7h-1.7zM137.5 364.7h1.7v1.7h-1.7zM139.0 364.7h1.7v1.7h-1.7zM140.5 364.7h1.7v1.7h-1.7zM148.0 364.7h1.7v1.7h-1.7zM116.5 366.2h1.7v1.7h-1.7zM118.0 366.2h1.7v1.7h-1.7zM119.5 366.2h1.7v1.7h-1.7zM121.0 366.2h1.7v1.7h-1.7zM130.0 366.2h1.7v1.7h-1.7zM134.5 366.2h1.7v1.7h-1.7zM136.0 366.2h1.7v1.7h-1.7zM137.5 366.2h1.7v1.7h-1.7zM139.0 366.2h1.7v1.7h-1.7zM140.5 366.2h1.7v1.7h-1.7zM154.0 366.2h1.7v1.7h-1.7zM130.0 367.7h1.7v1.7h-1.7zM134.5 367.7h1.7v1.7h-1.7zM136.0 367.7h1.7v1.7h-1.7zM130.0 369.2h1.7v1.7h-1.7zM136.0 369.2h1.7v1.7h-1.7zM163.0 369.2h1.7v1.7h-1.7zM110.5 370.7h1.7v1.7h-1.7zM127.0 370.7h1.7v1.7h-1.7zM136.0 370.7h1.7v1.7h-1.7zM137.5 370.7h1.7v1.7h-1.7zM139.0 370.7h1.7v1.7h-1.7zM140.5 370.7h1.7v1.7h-1.7zM149.5 370.7h1.7v1.7h-1.7zM152.5 370.7h1.7v1.7h-1.7zM110.5 372.2h1.7v1.7h-1.7zM112.0 372.2h1.7v1.7h-1.7zM127.0 372.2h1.7v1.7h-1.7zM136.0 372.2h1.7v1.7h-1.7zM151.0 372.2h1.7v1.7h-1.7zM152.5 372.2h1.7v1.7h-1.7zM154.0 372.2h1.7v1.7h-1.7zM155.5 372.2h1.7v1.7h-1.7zM158.5 372.2h1.7v1.7h-1.7zM110.5 373.7h1.7v1.7h-1.7zM112.0 373.7h1.7v1.7h-1.7zM125.5 373.7h1.7v1.7h-1.7zM136.0 373.7h1.7v1.7h-1.7zM155.5 373.7h1.7v1.7h-1.7zM158.5 373.7h1.7v1.7h-1.7zM119.5 375.2h1.7v1.7h-1.7zM121.0 375.2h1.7v1.7h-1.7zM122.5 375.2h1.7v1.7h-1.7zM124.0 375.2h1.7v1.7h-1.7zM131.5 375.2h1.7v1.7h-1.7zM136.0 375.2h1.7v1.7h-1.7zM119.5 376.7h1.7v1.7h-1.7zM124.0 376.7h1.7v1.7h-1.7zM125.5 376.7h1.7v1.7h-1.7zM127.0 376.7h1.7v1.7h-1.7zM130.0 376.7h1.7v1.7h-1.7zM131.5 376.7h1.7v1.7h-1.7zM137.5 376.7h1.7v1.7h-1.7zM139.0 376.7h1.7v1.7h-1.7zM38.5 378.2h1.7v1.7h-1.7zM125.5 378.2h1.7v1.7h-1.7zM128.5 378.2h1.7v1.7h-1.7zM125.5 379.7h1.7v1.7h-1.7zM128.5 379.7h1.7v1.7h-1.7zM125.5 381.2h1.7v1.7h-1.7zM130.0 381.2h1.7v1.7h-1.7zM131.5 381.2h1.7v1.7h-1.7zM133.0 381.2h1.7v1.7h-1.7zM142.0 381.2h1.7v1.7h-1.7zM143.5 381.2h1.7v1.7h-1.7zM145.0 381.2h1.7v1.7h-1.7zM146.5 381.2h1.7v1.7h-1.7zM148.0 381.2h1.7v1.7h-1.7zM127.0 382.7h1.7v1.7h-1.7zM133.0 382.7h1.7v1.7h-1.7zM143.5 382.7h1.7v1.7h-1.7zM145.0 382.7h1.7v1.7h-1.7zM146.5 382.7h1.7v1.7h-1.7zM148.0 382.7h1.7v1.7h-1.7zM149.5 382.7h1.7v1.7h-1.7zM151.0 382.7h1.7v1.7h-1.7zM121.0 384.2h1.7v1.7h-1.7zM128.5 384.2h1.7v1.7h-1.7zM146.5 384.2h1.7v1.7h-1.7zM148.0 384.2h1.7v1.7h-1.7zM161.5 384.2h1.7v1.7h-1.7zM128.5 385.7h1.7v1.7h-1.7zM133.0 385.7h1.7v1.7h-1.7zM161.5 385.7h1.7v1.7h-1.7zM163.0 385.7h1.7v1.7h-1.7zM128.5 387.2h1.7v1.7h-1.7zM131.5 387.2h1.7v1.7h-1.7zM163.0 387.2h1.7v1.7h-1.7zM128.5 388.7h1.7v1.7h-1.7zM154.0 388.7h1.7v1.7h-1.7zM146.5 390.2h1.7v1.7h-1.7zM154.0 390.2h1.7v1.7h-1.7zM155.5 390.2h1.7v1.7h-1.7zM142.0 391.7h1.7v1.7h-1.7zM143.5 391.7h1.7v1.7h-1.7zM145.0 391.7h1.7v1.7h-1.7zM154.0 391.7h1.7v1.7h-1.7zM155.5 391.7h1.7v1.7h-1.7zM157.0 391.7h1.7v1.7h-1.7zM134.5 393.2h1.7v1.7h-1.7zM145.0 393.2h1.7v1.7h-1.7zM157.0 393.2h1.7v1.7h-1.7zM134.5 394.7h1.7v1.7h-1.7zM136.0 394.7h1.7v1.7h-1.7zM92.5 396.2h1.7v1.7h-1.7zM94.0 396.2h1.7v1.7h-1.7zM154.0 396.2h1.7v1.7h-1.7zM92.5 397.7h1.7v1.7h-1.7zM94.0 397.7h1.7v1.7h-1.7zM146.5 397.7h1.7v1.7h-1.7zM95.5 399.2h1.7v1.7h-1.7zM152.5 399.2h1.7v1.7h-1.7zM119.5 400.7h1.7v1.7h-1.7zM121.0 400.7h1.7v1.7h-1.7zM91.0 405.2h1.7v1.7h-1.7zM118.0 405.2h1.7v1.7h-1.7zM91.0 406.7h1.7v1.7h-1.7zM115.0 406.7h1.7v1.7h-1.7zM116.5 406.7h1.7v1.7h-1.7zM118.0 406.7h1.7v1.7h-1.7zM121.0 406.7h1.7v1.7h-1.7zM122.5 406.7h1.7v1.7h-1.7zM124.0 406.7h1.7v1.7h-1.7zM125.5 406.7h1.7v1.7h-1.7zM127.0 406.7h1.7v1.7h-1.7zM128.5 406.7h1.7v1.7h-1.7zM130.0 406.7h1.7v1.7h-1.7zM131.5 406.7h1.7v1.7h-1.7zM85.0 408.2h1.7v1.7h-1.7zM86.5 408.2h1.7v1.7h-1.7zM88.0 408.2h1.7v1.7h-1.7zM89.5 408.2h1.7v1.7h-1.7zM116.5 408.2h1.7v1.7h-1.7zM122.5 408.2h1.7v1.7h-1.7zM124.0 408.2h1.7v1.7h-1.7zM125.5 408.2h1.7v1.7h-1.7zM127.0 408.2h1.7v1.7h-1.7zM128.5 408.2h1.7v1.7h-1.7zM130.0 408.2h1.7v1.7h-1.7zM131.5 408.2h1.7v1.7h-1.7zM85.0 409.7h1.7v1.7h-1.7zM86.5 409.7h1.7v1.7h-1.7zM88.0 409.7h1.7v1.7h-1.7zM92.5 409.7h1.7v1.7h-1.7zM125.5 409.7h1.7v1.7h-1.7zM127.0 409.7h1.7v1.7h-1.7zM134.5 409.7h1.7v1.7h-1.7zM137.5 409.7h1.7v1.7h-1.7zM86.5 411.2h1.7v1.7h-1.7zM92.5 411.2h1.7v1.7h-1.7zM125.5 411.2h1.7v1.7h-1.7zM127.0 411.2h1.7v1.7h-1.7zM86.5 412.7h1.7v1.7h-1.7zM88.0 412.7h1.7v1.7h-1.7zM122.5 412.7h1.7v1.7h-1.7zM118.0 414.2h1.7v1.7h-1.7zM97.0 415.7h1.7v1.7h-1.7zM122.5 415.7h1.7v1.7h-1.7zM106.0 417.2h1.7v1.7h-1.7zM122.5 417.2h1.7v1.7h-1.7zM101.5 418.7h1.7v1.7h-1.7zM109.0 418.7h1.7v1.7h-1.7zM89.5 420.2h1.7v1.7h-1.7zM91.0 420.2h1.7v1.7h-1.7zM92.5 420.2h1.7v1.7h-1.7zM106.0 420.2h1.7v1.7h-1.7zM91.0 421.7h1.7v1.7h-1.7zM92.5 421.7h1.7v1.7h-1.7zM107.5 421.7h1.7v1.7h-1.7zM92.5 423.2h1.7v1.7h-1.7zM107.5 423.2h1.7v1.7h-1.7zM109.0 423.2h1.7v1.7h-1.7zM83.5 424.7h1.7v1.7h-1.7zM85.0 424.7h1.7v1.7h-1.7zM86.5 424.7h1.7v1.7h-1.7zM88.0 424.7h1.7v1.7h-1.7zM89.5 424.7h1.7v1.7h-1.7zM109.0 424.7h1.7v1.7h-1.7zM112.0 424.7h1.7v1.7h-1.7zM95.5 426.2h1.7v1.7h-1.7zM97.0 426.2h1.7v1.7h-1.7zM98.5 426.2h1.7v1.7h-1.7zM109.0 426.2h1.7v1.7h-1.7zM148.0 426.2h1.7v1.7h-1.7zM73.0 427.7h1.7v1.7h-1.7zM74.5 427.7h1.7v1.7h-1.7zM101.5 427.7h1.7v1.7h-1.7zM95.5 429.2h1.7v1.7h-1.7zM103.0 429.2h1.7v1.7h-1.7zM109.0 429.2h1.7v1.7h-1.7zM113.5 429.2h1.7v1.7h-1.7zM125.5 429.2h1.7v1.7h-1.7zM82.0 430.7h1.7v1.7h-1.7zM85.0 430.7h1.7v1.7h-1.7zM95.5 430.7h1.7v1.7h-1.7zM97.0 430.7h1.7v1.7h-1.7zM104.5 430.7h1.7v1.7h-1.7zM113.5 430.7h1.7v1.7h-1.7zM118.0 430.7h1.7v1.7h-1.7zM125.5 430.7h1.7v1.7h-1.7zM127.0 430.7h1.7v1.7h-1.7zM133.0 430.7h1.7v1.7h-1.7zM71.5 432.2h1.7v1.7h-1.7zM79.0 432.2h1.7v1.7h-1.7zM88.0 432.2h1.7v1.7h-1.7zM125.5 432.2h1.7v1.7h-1.7zM127.0 432.2h1.7v1.7h-1.7zM80.5 433.7h1.7v1.7h-1.7zM100.0 433.7h1.7v1.7h-1.7zM101.5 433.7h1.7v1.7h-1.7zM115.0 433.7h1.7v1.7h-1.7zM116.5 433.7h1.7v1.7h-1.7zM118.0 433.7h1.7v1.7h-1.7zM124.0 433.7h1.7v1.7h-1.7zM125.5 433.7h1.7v1.7h-1.7zM82.0 435.2h1.7v1.7h-1.7zM100.0 435.2h1.7v1.7h-1.7zM104.5 435.2h1.7v1.7h-1.7zM106.0 435.2h1.7v1.7h-1.7zM107.5 435.2h1.7v1.7h-1.7zM109.0 435.2h1.7v1.7h-1.7zM113.5 435.2h1.7v1.7h-1.7zM85.0 436.7h1.7v1.7h-1.7zM104.5 436.7h1.7v1.7h-1.7zM107.5 436.7h1.7v1.7h-1.7zM113.5 436.7h1.7v1.7h-1.7zM85.0 438.2h1.7v1.7h-1.7zM104.5 438.2h1.7v1.7h-1.7zM106.0 438.2h1.7v1.7h-1.7zM107.5 438.2h1.7v1.7h-1.7zM109.0 438.2h1.7v1.7h-1.7zM112.0 438.2h1.7v1.7h-1.7zM104.5 439.7h1.7v1.7h-1.7zM106.0 439.7h1.7v1.7h-1.7zM110.5 439.7h1.7v1.7h-1.7zM103.0 441.2h1.7v1.7h-1.7zM98.5 442.7h1.7v1.7h-1.7z"/>
<path fill="#3fbaa3" d="M125.5 273.2h1.7v1.7h-1.7zM124.0 274.7h1.7v1.7h-1.7zM124.0 276.2h1.7v1.7h-1.7zM125.5 276.2h1.7v1.7h-1.7zM125.5 277.7h1.7v1.7h-1.7zM109.0 279.2h1.7v1.7h-1.7zM110.5 279.2h1.7v1.7h-1.7zM112.0 279.2h1.7v1.7h-1.7zM115.0 279.2h1.7v1.7h-1.7zM127.0 279.2h1.7v1.7h-1.7zM109.0 280.7h1.7v1.7h-1.7zM110.5 280.7h1.7v1.7h-1.7zM112.0 280.7h1.7v1.7h-1.7zM113.5 280.7h1.7v1.7h-1.7zM116.5 280.7h1.7v1.7h-1.7zM118.0 280.7h1.7v1.7h-1.7zM128.5 280.7h1.7v1.7h-1.7zM149.5 280.7h1.7v1.7h-1.7zM110.5 282.2h1.7v1.7h-1.7zM112.0 282.2h1.7v1.7h-1.7zM116.5 282.2h1.7v1.7h-1.7zM118.0 282.2h1.7v1.7h-1.7zM119.5 282.2h1.7v1.7h-1.7zM128.5 282.2h1.7v1.7h-1.7zM154.0 282.2h1.7v1.7h-1.7zM155.5 282.2h1.7v1.7h-1.7zM113.5 283.7h1.7v1.7h-1.7zM121.0 283.7h1.7v1.7h-1.7zM122.5 283.7h1.7v1.7h-1.7zM124.0 283.7h1.7v1.7h-1.7zM136.0 283.7h1.7v1.7h-1.7zM137.5 283.7h1.7v1.7h-1.7zM154.0 283.7h1.7v1.7h-1.7zM134.5 285.2h1.7v1.7h-1.7zM118.0 286.7h1.7v1.7h-1.7zM134.5 286.7h1.7v1.7h-1.7zM118.0 288.2h1.7v1.7h-1.7zM118.0 289.7h1.7v1.7h-1.7zM128.5 289.7h1.7v1.7h-1.7zM116.5 291.2h1.7v1.7h-1.7zM118.0 291.2h1.7v1.7h-1.7zM116.5 292.7h1.7v1.7h-1.7zM121.0 292.7h1.7v1.7h-1.7zM146.5 292.7h1.7v1.7h-1.7zM104.5 294.2h1.7v1.7h-1.7zM106.0 294.2h1.7v1.7h-1.7zM115.0 295.7h1.7v1.7h-1.7zM158.5 297.2h1.7v1.7h-1.7zM161.5 297.2h1.7v1.7h-1.7zM173.5 297.2h1.7v1.7h-1.7zM112.0 298.7h1.7v1.7h-1.7zM113.5 298.7h1.7v1.7h-1.7zM115.0 298.7h1.7v1.7h-1.7zM158.5 298.7h1.7v1.7h-1.7zM160.0 298.7h1.7v1.7h-1.7zM175.0 298.7h1.7v1.7h-1.7zM176.5 298.7h1.7v1.7h-1.7zM110.5 300.2h1.7v1.7h-1.7zM112.0 300.2h1.7v1.7h-1.7zM113.5 300.2h1.7v1.7h-1.7zM160.0 300.2h1.7v1.7h-1.7zM113.5 301.7h1.7v1.7h-1.7zM119.5 301.7h1.7v1.7h-1.7zM121.0 301.7h1.7v1.7h-1.7zM130.0 301.7h1.7v1.7h-1.7zM133.0 301.7h1.7v1.7h-1.7zM119.5 303.2h1.7v1.7h-1.7zM133.0 303.2h1.7v1.7h-1.7zM170.5 303.2h1.7v1.7h-1.7zM172.0 303.2h1.7v1.7h-1.7zM142.0 306.2h1.7v1.7h-1.7zM115.0 307.7h1.7v1.7h-1.7zM154.0 307.7h1.7v1.7h-1.7zM160.0 307.7h1.7v1.7h-1.7zM130.0 309.2h1.7v1.7h-1.7zM154.0 309.2h1.7v1.7h-1.7zM155.5 309.2h1.7v1.7h-1.7zM157.0 309.2h1.7v1.7h-1.7zM158.5 309.2h1.7v1.7h-1.7zM164.5 309.2h1.7v1.7h-1.7zM112.0 310.7h1.7v1.7h-1.7zM130.0 310.7h1.7v1.7h-1.7zM131.5 310.7h1.7v1.7h-1.7zM170.5 310.7h1.7v1.7h-1.7zM112.0 312.2h1.7v1.7h-1.7zM131.5 312.2h1.7v1.7h-1.7zM133.0 312.2h1.7v1.7h-1.7zM106.0 313.7h1.7v1.7h-1.7zM100.0 315.2h1.7v1.7h-1.7zM101.5 315.2h1.7v1.7h-1.7zM103.0 315.2h1.7v1.7h-1.7zM113.5 315.2h1.7v1.7h-1.7zM115.0 315.2h1.7v1.7h-1.7zM116.5 315.2h1.7v1.7h-1.7zM118.0 315.2h1.7v1.7h-1.7zM119.5 315.2h1.7v1.7h-1.7zM121.0 315.2h1.7v1.7h-1.7zM122.5 315.2h1.7v1.7h-1.7zM134.5 315.2h1.7v1.7h-1.7zM164.5 315.2h1.7v1.7h-1.7zM100.0 316.7h1.7v1.7h-1.7zM101.5 316.7h1.7v1.7h-1.7zM103.0 316.7h1.7v1.7h-1.7zM115.0 316.7h1.7v1.7h-1.7zM116.5 316.7h1.7v1.7h-1.7zM100.0 318.2h1.7v1.7h-1.7zM101.5 318.2h1.7v1.7h-1.7zM107.5 318.2h1.7v1.7h-1.7zM109.0 318.2h1.7v1.7h-1.7zM110.5 318.2h1.7v1.7h-1.7zM187.0 318.2h1.7v1.7h-1.7zM98.5 319.7h1.7v1.7h-1.7zM100.0 319.7h1.7v1.7h-1.7zM101.5 319.7h1.7v1.7h-1.7zM107.5 319.7h1.7v1.7h-1.7zM109.0 319.7h1.7v1.7h-1.7zM110.5 319.7h1.7v1.7h-1.7zM112.0 319.7h1.7v1.7h-1.7zM97.0 321.2h1.7v1.7h-1.7zM98.5 321.2h1.7v1.7h-1.7zM100.0 321.2h1.7v1.7h-1.7zM101.5 321.2h1.7v1.7h-1.7zM107.5 321.2h1.7v1.7h-1.7zM109.0 321.2h1.7v1.7h-1.7zM110.5 321.2h1.7v1.7h-1.7zM112.0 321.2h1.7v1.7h-1.7zM115.0 321.2h1.7v1.7h-1.7zM116.5 321.2h1.7v1.7h-1.7zM118.0 321.2h1.7v1.7h-1.7zM125.5 321.2h1.7v1.7h-1.7zM127.0 321.2h1.7v1.7h-1.7zM131.5 321.2h1.7v1.7h-1.7zM100.0 322.7h1.7v1.7h-1.7zM101.5 322.7h1.7v1.7h-1.7zM107.5 322.7h1.7v1.7h-1.7zM115.0 322.7h1.7v1.7h-1.7zM125.5 322.7h1.7v1.7h-1.7zM127.0 322.7h1.7v1.7h-1.7zM130.0 322.7h1.7v1.7h-1.7zM101.5 324.2h1.7v1.7h-1.7zM121.0 324.2h1.7v1.7h-1.7zM122.5 324.2h1.7v1.7h-1.7zM124.0 324.2h1.7v1.7h-1.7zM125.5 324.2h1.7v1.7h-1.7zM130.0 324.2h1.7v1.7h-1.7zM104.5 325.7h1.7v1.7h-1.7zM107.5 325.7h1.7v1.7h-1.7zM121.0 325.7h1.7v1.7h-1.7zM122.5 325.7h1.7v1.7h-1.7zM124.0 325.7h1.7v1.7h-1.7zM122.5 330.2h1.7v1.7h-1.7zM124.0 330.2h1.7v1.7h-1.7zM125.5 330.2h1.7v1.7h-1.7zM121.0 331.7h1.7v1.7h-1.7zM127.0 331.7h1.7v1.7h-1.7zM128.5 331.7h1.7v1.7h-1.7zM130.0 331.7h1.7v1.7h-1.7zM44.5 333.2h1.7v1.7h-1.7zM128.5 333.2h1.7v1.7h-1.7zM178.0 333.2h1.7v1.7h-1.7zM112.0 334.7h1.7v1.7h-1.7zM128.5 334.7h1.7v1.7h-1.7zM133.0 336.2h1.7v1.7h-1.7zM107.5 337.7h1.7v1.7h-1.7zM110.5 337.7h1.7v1.7h-1.7zM133.0 337.7h1.7v1.7h-1.7zM107.5 339.2h1.7v1.7h-1.7zM110.5 339.2h1.7v1.7h-1.7zM116.5 340.7h1.7v1.7h-1.7zM118.0 340.7h1.7v1.7h-1.7zM115.0 342.2h1.7v1.7h-1.7zM118.0 342.2h1.7v1.7h-1.7zM118.0 343.7h1.7v1.7h-1.7zM127.0 343.7h1.7v1.7h-1.7zM118.0 345.2h1.7v1.7h-1.7zM116.5 346.7h1.7v1.7h-1.7zM118.0 346.7h1.7v1.7h-1.7zM119.5 348.2h1.7v1.7h-1.7zM122.5 348.2h1.7v1.7h-1.7zM124.0 348.2h1.7v1.7h-1.7zM125.5 348.2h1.7v1.7h-1.7zM170.5 348.2h1.7v1.7h-1.7zM116.5 349.7h1.7v1.7h-1.7zM119.5 349.7h1.7v1.7h-1.7zM121.0 349.7h1.7v1.7h-1.7zM122.5 349.7h1.7v1.7h-1.7zM124.0 349.7h1.7v1.7h-1.7zM125.5 349.7h1.7v1.7h-1.7zM130.0 349.7h1.7v1.7h-1.7zM121.0 351.2h1.7v1.7h-1.7zM122.5 351.2h1.7v1.7h-1.7zM124.0 351.2h1.7v1.7h-1.7zM109.0 352.7h1.7v1.7h-1.7zM122.5 352.7h1.7v1.7h-1.7zM143.5 352.7h1.7v1.7h-1.7zM145.0 352.7h1.7v1.7h-1.7zM122.5 354.2h1.7v1.7h-1.7zM143.5 354.2h1.7v1.7h-1.7zM145.0 354.2h1.7v1.7h-1.7zM124.0 355.7h1.7v1.7h-1.7zM98.5 357.2h1.7v1.7h-1.7zM127.0 357.2h1.7v1.7h-1.7zM127.0 358.7h1.7v1.7h-1.7zM128.5 358.7h1.7v1.7h-1.7zM104.5 360.2h1.7v1.7h-1.7zM106.0 360.2h1.7v1.7h-1.7zM104.5 361.7h1.7v1.7h-1.7zM106.0 361.7h1.7v1.7h-1.7zM107.5 361.7h1.7v1.7h-1.7zM112.0 361.7h1.7v1.7h-1.7zM116.5 361.7h1.7v1.7h-1.7zM121.0 361.7h1.7v1.7h-1.7zM127.0 361.7h1.7v1.7h-1.7zM133.0 361.7h1.7v1.7h-1.7zM134.5 361.7h1.7v1.7h-1.7zM104.5 363.2h1.7v1.7h-1.7zM106.0 363.2h1.7v1.7h-1.7zM107.5 363.2h1.7v1.7h-1.7zM109.0 363.2h1.7v1.7h-1.7zM110.5 363.2h1.7v1.7h-1.7zM112.0 363.2h1.7v1.7h-1.7zM113.5 363.2h1.7v1.7h-1.7zM118.0 363.2h1.7v1.7h-1.7zM121.0 363.2h1.7v1.7h-1.7zM128.5 363.2h1.7v1.7h-1.7zM130.0 363.2h1.7v1.7h-1.7zM131.5 363.2h1.7v1.7h-1.7zM133.0 363.2h1.7v1.7h-1.7zM137.5 363.2h1.7v1.7h-1.7zM101.5 364.7h1.7v1.7h-1.7zM103.0 364.7h1.7v1.7h-1.7zM104.5 364.7h1.7v1.7h-1.7zM113.5 364.7h1.7v1.7h-1.7zM128.5 364.7h1.7v1.7h-1.7zM130.0 364.7h1.7v1.7h-1.7zM100.0 366.2h1.7v1.7h-1.7zM101.5 366.2h1.7v1.7h-1.7zM103.0 366.2h1.7v1.7h-1.7zM104.5 366.2h1.7v1.7h-1.7zM106.0 366.2h1.7v1.7h-1.7zM115.0 366.2h1.7v1.7h-1.7zM128.5 366.2h1.7v1.7h-1.7zM104.5 367.7h1.7v1.7h-1.7zM106.0 367.7h1.7v1.7h-1.7zM109.0 367.7h1.7v1.7h-1.7zM118.0 367.7h1.7v1.7h-1.7zM124.0 367.7h1.7v1.7h-1.7zM125.5 367.7h1.7v1.7h-1.7zM127.0 367.7h1.7v1.7h-1.7zM137.5 367.7h1.7v1.7h-1.7zM139.0 367.7h1.7v1.7h-1.7zM140.5 367.7h1.7v1.7h-1.7zM100.0 369.2h1.7v1.7h-1.7zM110.5 369.2h1.7v1.7h-1.7zM124.0 369.2h1.7v1.7h-1.7zM134.5 369.2h1.7v1.7h-1.7zM137.5 369.2h1.7v1.7h-1.7zM139.0 369.2h1.7v1.7h-1.7zM140.5 369.2h1.7v1.7h-1.7zM142.0 369.2h1.7v1.7h-1.7zM100.0 370.7h1.7v1.7h-1.7zM106.0 370.7h1.7v1.7h-1.7zM107.5 370.7h1.7v1.7h-1.7zM109.0 370.7h1.7v1.7h-1.7zM113.5 370.7h1.7v1.7h-1.7zM115.0 370.7h1.7v1.7h-1.7zM116.5 370.7h1.7v1.7h-1.7zM151.0 370.7h1.7v1.7h-1.7zM154.0 370.7h1.7v1.7h-1.7zM100.0 372.2h1.7v1.7h-1.7zM106.0 372.2h1.7v1.7h-1.7zM107.5 372.2h1.7v1.7h-1.7zM109.0 372.2h1.7v1.7h-1.7zM113.5 372.2h1.7v1.7h-1.7zM116.5 372.2h1.7v1.7h-1.7zM128.5 372.2h1.7v1.7h-1.7zM98.5 373.7h1.7v1.7h-1.7zM106.0 373.7h1.7v1.7h-1.7zM107.5 373.7h1.7v1.7h-1.7zM109.0 373.7h1.7v1.7h-1.7zM113.5 373.7h1.7v1.7h-1.7zM128.5 373.7h1.7v1.7h-1.7zM149.5 373.7h1.7v1.7h-1.7zM98.5 375.2h1.7v1.7h-1.7zM106.0 375.2h1.7v1.7h-1.7zM107.5 375.2h1.7v1.7h-1.7zM109.0 375.2h1.7v1.7h-1.7zM110.5 375.2h1.7v1.7h-1.7zM112.0 375.2h1.7v1.7h-1.7zM125.5 375.2h1.7v1.7h-1.7zM134.5 375.2h1.7v1.7h-1.7zM106.0 376.7h1.7v1.7h-1.7zM110.5 376.7h1.7v1.7h-1.7zM118.0 376.7h1.7v1.7h-1.7zM133.0 376.7h1.7v1.7h-1.7zM136.0 376.7h1.7v1.7h-1.7zM106.0 378.2h1.7v1.7h-1.7zM109.0 378.2h1.7v1.7h-1.7zM110.5 378.2h1.7v1.7h-1.7zM116.5 378.2h1.7v1.7h-1.7zM118.0 378.2h1.7v1.7h-1.7zM122.5 378.2h1.7v1.7h-1.7zM124.0 378.2h1.7v1.7h-1.7zM130.0 378.2h1.7v1.7h-1.7zM139.0 378.2h1.7v1.7h-1.7zM106.0 379.7h1.7v1.7h-1.7zM130.0 379.7h1.7v1.7h-1.7zM134.5 379.7h1.7v1.7h-1.7zM136.0 379.7h1.7v1.7h-1.7zM127.0 381.2h1.7v1.7h-1.7zM140.5 381.2h1.7v1.7h-1.7zM118.0 382.7h1.7v1.7h-1.7zM131.5 382.7h1.7v1.7h-1.7zM110.5 384.2h1.7v1.7h-1.7zM112.0 384.2h1.7v1.7h-1.7zM113.5 384.2h1.7v1.7h-1.7zM118.0 384.2h1.7v1.7h-1.7zM130.0 384.2h1.7v1.7h-1.7zM131.5 384.2h1.7v1.7h-1.7zM109.0 385.7h1.7v1.7h-1.7zM110.5 385.7h1.7v1.7h-1.7zM112.0 385.7h1.7v1.7h-1.7zM113.5 385.7h1.7v1.7h-1.7zM115.0 385.7h1.7v1.7h-1.7zM116.5 385.7h1.7v1.7h-1.7zM134.5 385.7h1.7v1.7h-1.7zM106.0 387.2h1.7v1.7h-1.7zM107.5 387.2h1.7v1.7h-1.7zM109.0 387.2h1.7v1.7h-1.7zM110.5 387.2h1.7v1.7h-1.7zM112.0 387.2h1.7v1.7h-1.7zM113.5 387.2h1.7v1.7h-1.7zM115.0 387.2h1.7v1.7h-1.7zM116.5 387.2h1.7v1.7h-1.7zM133.0 387.2h1.7v1.7h-1.7zM139.0 387.2h1.7v1.7h-1.7zM110.5 388.7h1.7v1.7h-1.7zM112.0 388.7h1.7v1.7h-1.7zM113.5 388.7h1.7v1.7h-1.7zM115.0 388.7h1.7v1.7h-1.7zM116.5 388.7h1.7v1.7h-1.7zM127.0 388.7h1.7v1.7h-1.7zM127.0 390.2h1.7v1.7h-1.7zM127.0 391.7h1.7v1.7h-1.7zM110.5 393.2h1.7v1.7h-1.7zM101.5 394.7h1.7v1.7h-1.7zM103.0 394.7h1.7v1.7h-1.7zM104.5 394.7h1.7v1.7h-1.7zM110.5 394.7h1.7v1.7h-1.7zM112.0 394.7h1.7v1.7h-1.7zM101.5 396.2h1.7v1.7h-1.7zM112.0 396.2h1.7v1.7h-1.7zM119.5 397.7h1.7v1.7h-1.7zM121.0 397.7h1.7v1.7h-1.7zM118.0 399.2h1.7v1.7h-1.7zM121.0 399.2h1.7v1.7h-1.7zM122.5 399.2h1.7v1.7h-1.7zM116.5 400.7h1.7v1.7h-1.7zM118.0 400.7h1.7v1.7h-1.7zM124.0 400.7h1.7v1.7h-1.7zM100.0 402.2h1.7v1.7h-1.7zM122.5 402.2h1.7v1.7h-1.7zM124.0 402.2h1.7v1.7h-1.7zM116.5 403.7h1.7v1.7h-1.7zM119.5 403.7h1.7v1.7h-1.7zM121.0 403.7h1.7v1.7h-1.7zM92.5 406.7h1.7v1.7h-1.7zM94.0 406.7h1.7v1.7h-1.7zM92.5 408.2h1.7v1.7h-1.7zM103.0 409.7h1.7v1.7h-1.7zM103.0 411.2h1.7v1.7h-1.7zM133.0 411.2h1.7v1.7h-1.7zM137.5 411.2h1.7v1.7h-1.7zM139.0 411.2h1.7v1.7h-1.7zM164.5 411.2h1.7v1.7h-1.7zM109.0 412.7h1.7v1.7h-1.7zM118.0 412.7h1.7v1.7h-1.7zM119.5 412.7h1.7v1.7h-1.7zM136.0 412.7h1.7v1.7h-1.7zM137.5 412.7h1.7v1.7h-1.7zM139.0 412.7h1.7v1.7h-1.7zM142.0 412.7h1.7v1.7h-1.7zM164.5 412.7h1.7v1.7h-1.7zM119.5 414.2h1.7v1.7h-1.7zM121.0 414.2h1.7v1.7h-1.7zM128.5 414.2h1.7v1.7h-1.7zM134.5 414.2h1.7v1.7h-1.7zM136.0 414.2h1.7v1.7h-1.7zM143.5 414.2h1.7v1.7h-1.7zM166.0 414.2h1.7v1.7h-1.7zM103.0 415.7h1.7v1.7h-1.7zM134.5 415.7h1.7v1.7h-1.7zM101.5 417.2h1.7v1.7h-1.7zM103.0 417.2h1.7v1.7h-1.7zM134.5 417.2h1.7v1.7h-1.7zM142.0 417.2h1.7v1.7h-1.7zM161.5 417.2h1.7v1.7h-1.7zM103.0 418.7h1.7v1.7h-1.7zM104.5 418.7h1.7v1.7h-1.7zM142.0 418.7h1.7v1.7h-1.7zM104.5 420.2h1.7v1.7h-1.7zM142.0 420.2h1.7v1.7h-1.7zM154.0 421.7h1.7v1.7h-1.7zM142.0 423.2h1.7v1.7h-1.7zM143.5 423.2h1.7v1.7h-1.7zM149.5 423.2h1.7v1.7h-1.7zM151.0 423.2h1.7v1.7h-1.7zM154.0 423.2h1.7v1.7h-1.7zM127.0 424.7h1.7v1.7h-1.7zM146.5 424.7h1.7v1.7h-1.7zM148.0 424.7h1.7v1.7h-1.7zM115.0 426.2h1.7v1.7h-1.7zM125.5 426.2h1.7v1.7h-1.7zM127.0 426.2h1.7v1.7h-1.7zM128.5 426.2h1.7v1.7h-1.7zM125.5 427.7h1.7v1.7h-1.7zM130.0 427.7h1.7v1.7h-1.7zM136.0 427.7h1.7v1.7h-1.7zM137.5 427.7h1.7v1.7h-1.7zM152.5 427.7h1.7v1.7h-1.7zM154.0 427.7h1.7v1.7h-1.7zM155.5 427.7h1.7v1.7h-1.7zM133.0 429.2h1.7v1.7h-1.7zM134.5 429.2h1.7v1.7h-1.7zM137.5 429.2h1.7v1.7h-1.7zM104.5 432.2h1.7v1.7h-1.7zM106.0 432.2h1.7v1.7h-1.7zM107.5 432.2h1.7v1.7h-1.7zM139.0 432.2h1.7v1.7h-1.7zM103.0 433.7h1.7v1.7h-1.7zM104.5 433.7h1.7v1.7h-1.7zM106.0 433.7h1.7v1.7h-1.7zM143.5 435.2h1.7v1.7h-1.7zM145.0 435.2h1.7v1.7h-1.7zM146.5 435.2h1.7v1.7h-1.7zM148.0 435.2h1.7v1.7h-1.7zM142.0 436.7h1.7v1.7h-1.7zM145.0 436.7h1.7v1.7h-1.7zM146.5 436.7h1.7v1.7h-1.7zM152.5 436.7h1.7v1.7h-1.7zM140.5 438.2h1.7v1.7h-1.7zM142.0 438.2h1.7v1.7h-1.7zM143.5 438.2h1.7v1.7h-1.7zM145.0 438.2h1.7v1.7h-1.7zM146.5 438.2h1.7v1.7h-1.7zM136.0 439.7h1.7v1.7h-1.7zM140.5 439.7h1.7v1.7h-1.7zM100.0 441.2h1.7v1.7h-1.7zM101.5 441.2h1.7v1.7h-1.7zM122.5 441.2h1.7v1.7h-1.7zM136.0 441.2h1.7v1.7h-1.7zM140.5 441.2h1.7v1.7h-1.7zM121.0 442.7h1.7v1.7h-1.7zM122.5 442.7h1.7v1.7h-1.7zM140.5 442.7h1.7v1.7h-1.7zM119.5 444.2h1.7v1.7h-1.7z"/>
<path fill="#5158d9" d="M127.0 273.2h1.7v1.7h-1.7zM97.0 274.7h1.7v1.7h-1.7zM98.5 274.7h1.7v1.7h-1.7zM125.5 274.7h1.7v1.7h-1.7zM127.0 274.7h1.7v1.7h-1.7zM97.0 276.2h1.7v1.7h-1.7zM100.0 276.2h1.7v1.7h-1.7zM127.0 276.2h1.7v1.7h-1.7zM139.0 276.2h1.7v1.7h-1.7zM119.5 279.2h1.7v1.7h-1.7zM128.5 279.2h1.7v1.7h-1.7zM107.5 280.7h1.7v1.7h-1.7zM109.0 282.2h1.7v1.7h-1.7zM143.5 282.2h1.7v1.7h-1.7zM145.0 282.2h1.7v1.7h-1.7zM110.5 283.7h1.7v1.7h-1.7zM115.0 283.7h1.7v1.7h-1.7zM143.5 283.7h1.7v1.7h-1.7zM145.0 283.7h1.7v1.7h-1.7zM146.5 283.7h1.7v1.7h-1.7zM148.0 283.7h1.7v1.7h-1.7zM104.5 285.2h1.7v1.7h-1.7zM119.5 285.2h1.7v1.7h-1.7zM124.0 285.2h1.7v1.7h-1.7zM136.0 285.2h1.7v1.7h-1.7zM137.5 285.2h1.7v1.7h-1.7zM139.0 285.2h1.7v1.7h-1.7zM143.5 285.2h1.7v1.7h-1.7zM148.0 285.2h1.7v1.7h-1.7zM149.5 285.2h1.7v1.7h-1.7zM97.0 286.7h1.7v1.7h-1.7zM119.5 286.7h1.7v1.7h-1.7zM121.0 286.7h1.7v1.7h-1.7zM124.0 286.7h1.7v1.7h-1.7zM136.0 286.7h1.7v1.7h-1.7zM137.5 286.7h1.7v1.7h-1.7zM139.0 286.7h1.7v1.7h-1.7zM140.5 286.7h1.7v1.7h-1.7zM142.0 286.7h1.7v1.7h-1.7zM148.0 286.7h1.7v1.7h-1.7zM149.5 286.7h1.7v1.7h-1.7zM151.0 286.7h1.7v1.7h-1.7zM98.5 288.2h1.7v1.7h-1.7zM100.0 288.2h1.7v1.7h-1.7zM127.0 288.2h1.7v1.7h-1.7zM136.0 288.2h1.7v1.7h-1.7zM137.5 288.2h1.7v1.7h-1.7zM139.0 288.2h1.7v1.7h-1.7zM140.5 288.2h1.7v1.7h-1.7zM151.0 288.2h1.7v1.7h-1.7zM157.0 288.2h1.7v1.7h-1.7zM100.0 289.7h1.7v1.7h-1.7zM104.5 289.7h1.7v1.7h-1.7zM106.0 289.7h1.7v1.7h-1.7zM107.5 289.7h1.7v1.7h-1.7zM119.5 289.7h1.7v1.7h-1.7zM127.0 289.7h1.7v1.7h-1.7zM107.5 291.2h1.7v1.7h-1.7zM113.5 291.2h1.7v1.7h-1.7zM119.5 291.2h1.7v1.7h-1.7zM121.0 291.2h1.7v1.7h-1.7zM127.0 291.2h1.7v1.7h-1.7zM128.5 291.2h1.7v1.7h-1.7zM107.5 292.7h1.7v1.7h-1.7zM115.0 292.7h1.7v1.7h-1.7zM127.0 292.7h1.7v1.7h-1.7zM128.5 292.7h1.7v1.7h-1.7zM130.0 292.7h1.7v1.7h-1.7zM131.5 292.7h1.7v1.7h-1.7zM133.0 292.7h1.7v1.7h-1.7zM140.5 292.7h1.7v1.7h-1.7zM107.5 294.2h1.7v1.7h-1.7zM109.0 294.2h1.7v1.7h-1.7zM115.0 294.2h1.7v1.7h-1.7zM116.5 294.2h1.7v1.7h-1.7zM128.5 294.2h1.7v1.7h-1.7zM130.0 294.2h1.7v1.7h-1.7zM131.5 294.2h1.7v1.7h-1.7zM104.5 295.7h1.7v1.7h-1.7zM106.0 295.7h1.7v1.7h-1.7zM113.5 295.7h1.7v1.7h-1.7zM113.5 297.2h1.7v1.7h-1.7zM115.0 297.2h1.7v1.7h-1.7zM116.5 297.2h1.7v1.7h-1.7zM116.5 298.7h1.7v1.7h-1.7zM115.0 300.2h1.7v1.7h-1.7zM116.5 300.2h1.7v1.7h-1.7zM119.5 300.2h1.7v1.7h-1.7zM115.0 303.2h1.7v1.7h-1.7zM145.0 303.2h1.7v1.7h-1.7zM112.0 304.7h1.7v1.7h-1.7zM80.5 306.2h1.7v1.7h-1.7zM122.5 306.2h1.7v1.7h-1.7zM124.0 306.2h1.7v1.7h-1.7zM116.5 307.7h1.7v1.7h-1.7zM122.5 307.7h1.7v1.7h-1.7zM124.0 307.7h1.7v1.7h-1.7zM125.5 307.7h1.7v1.7h-1.7zM122.5 309.2h1.7v1.7h-1.7zM124.0 309.2h1.7v1.7h-1.7zM125.5 309.2h1.7v1.7h-1.7zM127.0 309.2h1.7v1.7h-1.7zM53.5 313.7h1.7v1.7h-1.7zM55.0 313.7h1.7v1.7h-1.7zM116.5 313.7h1.7v1.7h-1.7zM118.0 313.7h1.7v1.7h-1.7zM119.5 313.7h1.7v1.7h-1.7zM121.0 313.7h1.7v1.7h-1.7zM53.5 315.2h1.7v1.7h-1.7zM55.0 315.2h1.7v1.7h-1.7zM56.5 315.2h1.7v1.7h-1.7zM127.0 316.7h1.7v1.7h-1.7zM128.5 316.7h1.7v1.7h-1.7zM134.5 319.7h1.7v1.7h-1.7zM116.5 324.2h1.7v1.7h-1.7zM53.5 328.7h1.7v1.7h-1.7zM106.0 328.7h1.7v1.7h-1.7zM133.0 328.7h1.7v1.7h-1.7zM104.5 330.2h1.7v1.7h-1.7zM106.0 330.2h1.7v1.7h-1.7zM119.5 330.2h1.7v1.7h-1.7zM133.0 330.2h1.7v1.7h-1.7zM134.5 330.2h1.7v1.7h-1.7zM136.0 330.2h1.7v1.7h-1.7zM119.5 331.7h1.7v1.7h-1.7zM137.5 331.7h1.7v1.7h-1.7zM139.0 334.7h1.7v1.7h-1.7zM97.0 336.2h1.7v1.7h-1.7zM130.0 336.2h1.7v1.7h-1.7zM139.0 336.2h1.7v1.7h-1.7zM140.5 336.2h1.7v1.7h-1.7zM106.0 337.7h1.7v1.7h-1.7zM137.5 337.7h1.7v1.7h-1.7zM139.0 337.7h1.7v1.7h-1.7zM140.5 337.7h1.7v1.7h-1.7zM104.5 339.2h1.7v1.7h-1.7zM134.5 339.2h1.7v1.7h-1.7zM136.0 339.2h1.7v1.7h-1.7zM137.5 339.2h1.7v1.7h-1.7zM139.0 339.2h1.7v1.7h-1.7zM125.5 340.7h1.7v1.7h-1.7zM137.5 340.7h1.7v1.7h-1.7zM145.0 340.7h1.7v1.7h-1.7zM125.5 342.2h1.7v1.7h-1.7zM127.0 342.2h1.7v1.7h-1.7zM133.0 342.2h1.7v1.7h-1.7zM139.0 342.2h1.7v1.7h-1.7zM53.5 343.7h1.7v1.7h-1.7zM55.0 343.7h1.7v1.7h-1.7zM124.0 343.7h1.7v1.7h-1.7zM133.0 343.7h1.7v1.7h-1.7zM52.0 345.2h1.7v1.7h-1.7zM53.5 345.2h1.7v1.7h-1.7zM55.0 345.2h1.7v1.7h-1.7zM124.0 345.2h1.7v1.7h-1.7zM125.5 345.2h1.7v1.7h-1.7zM127.0 345.2h1.7v1.7h-1.7zM131.5 345.2h1.7v1.7h-1.7zM133.0 345.2h1.7v1.7h-1.7zM134.5 345.2h1.7v1.7h-1.7zM133.0 346.7h1.7v1.7h-1.7zM134.5 346.7h1.7v1.7h-1.7zM134.5 348.2h1.7v1.7h-1.7zM136.0 348.2h1.7v1.7h-1.7zM149.5 351.2h1.7v1.7h-1.7zM110.5 352.7h1.7v1.7h-1.7zM113.5 352.7h1.7v1.7h-1.7zM116.5 352.7h1.7v1.7h-1.7zM109.0 354.2h1.7v1.7h-1.7zM128.5 354.2h1.7v1.7h-1.7zM130.0 354.2h1.7v1.7h-1.7zM134.5 354.2h1.7v1.7h-1.7zM136.0 354.2h1.7v1.7h-1.7zM137.5 354.2h1.7v1.7h-1.7zM121.0 355.7h1.7v1.7h-1.7zM122.5 355.7h1.7v1.7h-1.7zM125.5 355.7h1.7v1.7h-1.7zM118.0 357.2h1.7v1.7h-1.7zM122.5 357.2h1.7v1.7h-1.7zM128.5 357.2h1.7v1.7h-1.7zM149.5 357.2h1.7v1.7h-1.7zM152.5 357.2h1.7v1.7h-1.7zM115.0 358.7h1.7v1.7h-1.7zM116.5 358.7h1.7v1.7h-1.7zM118.0 358.7h1.7v1.7h-1.7zM119.5 358.7h1.7v1.7h-1.7zM121.0 358.7h1.7v1.7h-1.7zM122.5 358.7h1.7v1.7h-1.7zM134.5 358.7h1.7v1.7h-1.7zM139.0 358.7h1.7v1.7h-1.7zM140.5 358.7h1.7v1.7h-1.7zM142.0 358.7h1.7v1.7h-1.7zM143.5 358.7h1.7v1.7h-1.7zM148.0 358.7h1.7v1.7h-1.7zM113.5 360.2h1.7v1.7h-1.7zM115.0 360.2h1.7v1.7h-1.7zM116.5 360.2h1.7v1.7h-1.7zM118.0 360.2h1.7v1.7h-1.7zM119.5 360.2h1.7v1.7h-1.7zM121.0 360.2h1.7v1.7h-1.7zM124.0 360.2h1.7v1.7h-1.7zM134.5 360.2h1.7v1.7h-1.7zM109.0 361.7h1.7v1.7h-1.7zM110.5 361.7h1.7v1.7h-1.7zM113.5 361.7h1.7v1.7h-1.7zM115.0 361.7h1.7v1.7h-1.7zM118.0 361.7h1.7v1.7h-1.7zM119.5 361.7h1.7v1.7h-1.7zM124.0 361.7h1.7v1.7h-1.7zM115.0 363.2h1.7v1.7h-1.7zM116.5 363.2h1.7v1.7h-1.7zM119.5 363.2h1.7v1.7h-1.7zM64.0 364.7h1.7v1.7h-1.7zM65.5 364.7h1.7v1.7h-1.7zM67.0 364.7h1.7v1.7h-1.7zM115.0 364.7h1.7v1.7h-1.7zM116.5 364.7h1.7v1.7h-1.7zM118.0 364.7h1.7v1.7h-1.7zM67.0 366.2h1.7v1.7h-1.7zM122.5 366.2h1.7v1.7h-1.7zM107.5 367.7h1.7v1.7h-1.7zM121.0 367.7h1.7v1.7h-1.7zM122.5 367.7h1.7v1.7h-1.7zM128.5 367.7h1.7v1.7h-1.7zM128.5 369.2h1.7v1.7h-1.7zM70.0 370.7h1.7v1.7h-1.7zM112.0 370.7h1.7v1.7h-1.7zM128.5 370.7h1.7v1.7h-1.7zM130.0 370.7h1.7v1.7h-1.7zM131.5 370.7h1.7v1.7h-1.7zM133.0 370.7h1.7v1.7h-1.7zM34.0 372.2h1.7v1.7h-1.7zM70.0 372.2h1.7v1.7h-1.7zM125.5 372.2h1.7v1.7h-1.7zM131.5 372.2h1.7v1.7h-1.7zM133.0 372.2h1.7v1.7h-1.7zM122.5 373.7h1.7v1.7h-1.7zM124.0 373.7h1.7v1.7h-1.7zM131.5 373.7h1.7v1.7h-1.7zM133.0 373.7h1.7v1.7h-1.7zM133.0 375.2h1.7v1.7h-1.7zM109.0 376.7h1.7v1.7h-1.7zM121.0 376.7h1.7v1.7h-1.7zM122.5 376.7h1.7v1.7h-1.7zM128.5 376.7h1.7v1.7h-1.7zM107.5 378.2h1.7v1.7h-1.7zM127.0 378.2h1.7v1.7h-1.7zM38.5 381.2h1.7v1.7h-1.7zM101.5 381.2h1.7v1.7h-1.7zM103.0 381.2h1.7v1.7h-1.7zM104.5 381.2h1.7v1.7h-1.7zM106.0 381.2h1.7v1.7h-1.7zM124.0 381.2h1.7v1.7h-1.7zM128.5 381.2h1.7v1.7h-1.7zM38.5 382.7h1.7v1.7h-1.7zM40.0 382.7h1.7v1.7h-1.7zM103.0 382.7h1.7v1.7h-1.7zM119.5 382.7h1.7v1.7h-1.7zM121.0 382.7h1.7v1.7h-1.7zM124.0 382.7h1.7v1.7h-1.7zM125.5 382.7h1.7v1.7h-1.7zM128.5 382.7h1.7v1.7h-1.7zM130.0 382.7h1.7v1.7h-1.7zM134.5 382.7h1.7v1.7h-1.7zM119.5 384.2h1.7v1.7h-1.7zM125.5 384.2h1.7v1.7h-1.7zM127.0 384.2h1.7v1.7h-1.7zM118.0 385.7h1.7v1.7h-1.7zM119.5 385.7h1.7v1.7h-1.7zM130.0 385.7h1.7v1.7h-1.7zM131.5 385.7h1.7v1.7h-1.7zM118.0 387.2h1.7v1.7h-1.7zM127.0 387.2h1.7v1.7h-1.7zM130.0 387.2h1.7v1.7h-1.7zM134.5 387.2h1.7v1.7h-1.7zM136.0 387.2h1.7v1.7h-1.7zM137.5 387.2h1.7v1.7h-1.7zM134.5 388.7h1.7v1.7h-1.7zM112.0 390.2h1.7v1.7h-1.7zM128.5 390.2h1.7v1.7h-1.7zM98.5 391.7h1.7v1.7h-1.7zM100.0 391.7h1.7v1.7h-1.7zM98.5 393.2h1.7v1.7h-1.7zM100.0 393.2h1.7v1.7h-1.7zM101.5 393.2h1.7v1.7h-1.7zM142.0 393.2h1.7v1.7h-1.7zM95.5 394.7h1.7v1.7h-1.7zM100.0 394.7h1.7v1.7h-1.7zM88.0 396.2h1.7v1.7h-1.7zM89.5 396.2h1.7v1.7h-1.7zM100.0 396.2h1.7v1.7h-1.7zM103.0 396.2h1.7v1.7h-1.7zM104.5 396.2h1.7v1.7h-1.7zM95.5 397.7h1.7v1.7h-1.7zM100.0 397.7h1.7v1.7h-1.7zM101.5 397.7h1.7v1.7h-1.7zM103.0 397.7h1.7v1.7h-1.7zM112.0 397.7h1.7v1.7h-1.7zM113.5 397.7h1.7v1.7h-1.7zM98.5 399.2h1.7v1.7h-1.7zM100.0 399.2h1.7v1.7h-1.7zM112.0 399.2h1.7v1.7h-1.7zM130.0 399.2h1.7v1.7h-1.7zM134.5 399.2h1.7v1.7h-1.7zM100.0 400.7h1.7v1.7h-1.7zM122.5 400.7h1.7v1.7h-1.7zM131.5 400.7h1.7v1.7h-1.7zM133.0 400.7h1.7v1.7h-1.7zM101.5 402.2h1.7v1.7h-1.7zM116.5 402.2h1.7v1.7h-1.7zM119.5 402.2h1.7v1.7h-1.7zM125.5 402.2h1.7v1.7h-1.7zM127.0 402.2h1.7v1.7h-1.7zM97.0 403.7h1.7v1.7h-1.7zM101.5 403.7h1.7v1.7h-1.7zM103.0 403.7h1.7v1.7h-1.7zM104.5 403.7h1.7v1.7h-1.7zM106.0 403.7h1.7v1.7h-1.7zM118.0 403.7h1.7v1.7h-1.7zM122.5 403.7h1.7v1.7h-1.7zM124.0 403.7h1.7v1.7h-1.7zM125.5 403.7h1.7v1.7h-1.7zM127.0 403.7h1.7v1.7h-1.7zM103.0 405.2h1.7v1.7h-1.7zM104.5 405.2h1.7v1.7h-1.7zM106.0 405.2h1.7v1.7h-1.7zM107.5 405.2h1.7v1.7h-1.7zM109.0 405.2h1.7v1.7h-1.7zM110.5 405.2h1.7v1.7h-1.7zM112.0 405.2h1.7v1.7h-1.7zM116.5 405.2h1.7v1.7h-1.7zM127.0 405.2h1.7v1.7h-1.7zM103.0 406.7h1.7v1.7h-1.7zM104.5 406.7h1.7v1.7h-1.7zM106.0 406.7h1.7v1.7h-1.7zM107.5 406.7h1.7v1.7h-1.7zM109.0 406.7h1.7v1.7h-1.7zM110.5 406.7h1.7v1.7h-1.7zM112.0 406.7h1.7v1.7h-1.7zM113.5 406.7h1.7v1.7h-1.7zM103.0 408.2h1.7v1.7h-1.7zM104.5 408.2h1.7v1.7h-1.7zM106.0 408.2h1.7v1.7h-1.7zM107.5 408.2h1.7v1.7h-1.7zM109.0 408.2h1.7v1.7h-1.7zM110.5 408.2h1.7v1.7h-1.7zM112.0 408.2h1.7v1.7h-1.7zM113.5 408.2h1.7v1.7h-1.7zM115.0 408.2h1.7v1.7h-1.7zM104.5 409.7h1.7v1.7h-1.7zM106.0 409.7h1.7v1.7h-1.7zM107.5 409.7h1.7v1.7h-1.7zM109.0 409.7h1.7v1.7h-1.7zM110.5 409.7h1.7v1.7h-1.7zM136.0 409.7h1.7v1.7h-1.7zM104.5 411.2h1.7v1.7h-1.7zM106.0 411.2h1.7v1.7h-1.7zM107.5 411.2h1.7v1.7h-1.7zM109.0 411.2h1.7v1.7h-1.7zM118.0 411.2h1.7v1.7h-1.7zM119.5 411.2h1.7v1.7h-1.7zM124.0 411.2h1.7v1.7h-1.7zM134.5 411.2h1.7v1.7h-1.7zM136.0 411.2h1.7v1.7h-1.7zM151.0 411.2h1.7v1.7h-1.7zM116.5 412.7h1.7v1.7h-1.7zM124.0 412.7h1.7v1.7h-1.7zM125.5 412.7h1.7v1.7h-1.7zM127.0 412.7h1.7v1.7h-1.7zM131.5 412.7h1.7v1.7h-1.7zM133.0 412.7h1.7v1.7h-1.7zM134.5 412.7h1.7v1.7h-1.7zM151.0 412.7h1.7v1.7h-1.7zM110.5 414.2h1.7v1.7h-1.7zM115.0 414.2h1.7v1.7h-1.7zM122.5 414.2h1.7v1.7h-1.7zM124.0 414.2h1.7v1.7h-1.7zM125.5 414.2h1.7v1.7h-1.7zM127.0 414.2h1.7v1.7h-1.7zM130.0 414.2h1.7v1.7h-1.7zM131.5 414.2h1.7v1.7h-1.7zM133.0 414.2h1.7v1.7h-1.7zM89.5 415.7h1.7v1.7h-1.7zM109.0 415.7h1.7v1.7h-1.7zM110.5 415.7h1.7v1.7h-1.7zM112.0 415.7h1.7v1.7h-1.7zM113.5 415.7h1.7v1.7h-1.7zM115.0 415.7h1.7v1.7h-1.7zM124.0 415.7h1.7v1.7h-1.7zM128.5 415.7h1.7v1.7h-1.7zM130.0 415.7h1.7v1.7h-1.7zM131.5 415.7h1.7v1.7h-1.7zM133.0 415.7h1.7v1.7h-1.7zM145.0 415.7h1.7v1.7h-1.7zM76.0 417.2h1.7v1.7h-1.7zM77.5 417.2h1.7v1.7h-1.7zM89.5 417.2h1.7v1.7h-1.7zM109.0 417.2h1.7v1.7h-1.7zM110.5 417.2h1.7v1.7h-1.7zM112.0 417.2h1.7v1.7h-1.7zM113.5 417.2h1.7v1.7h-1.7zM115.0 417.2h1.7v1.7h-1.7zM128.5 417.2h1.7v1.7h-1.7zM130.0 417.2h1.7v1.7h-1.7zM131.5 417.2h1.7v1.7h-1.7zM133.0 417.2h1.7v1.7h-1.7zM83.5 418.7h1.7v1.7h-1.7zM85.0 418.7h1.7v1.7h-1.7zM95.5 418.7h1.7v1.7h-1.7zM110.5 418.7h1.7v1.7h-1.7zM112.0 418.7h1.7v1.7h-1.7zM113.5 418.7h1.7v1.7h-1.7zM115.0 418.7h1.7v1.7h-1.7zM122.5 418.7h1.7v1.7h-1.7zM124.0 418.7h1.7v1.7h-1.7zM128.5 418.7h1.7v1.7h-1.7zM130.0 418.7h1.7v1.7h-1.7zM131.5 418.7h1.7v1.7h-1.7zM85.0 420.2h1.7v1.7h-1.7zM95.5 420.2h1.7v1.7h-1.7zM103.0 420.2h1.7v1.7h-1.7zM124.0 420.2h1.7v1.7h-1.7zM125.5 420.2h1.7v1.7h-1.7zM127.0 420.2h1.7v1.7h-1.7zM82.0 421.7h1.7v1.7h-1.7zM83.5 421.7h1.7v1.7h-1.7zM101.5 421.7h1.7v1.7h-1.7zM103.0 421.7h1.7v1.7h-1.7zM104.5 421.7h1.7v1.7h-1.7zM122.5 421.7h1.7v1.7h-1.7zM124.0 421.7h1.7v1.7h-1.7zM125.5 421.7h1.7v1.7h-1.7zM80.5 423.2h1.7v1.7h-1.7zM82.0 423.2h1.7v1.7h-1.7zM100.0 423.2h1.7v1.7h-1.7zM101.5 423.2h1.7v1.7h-1.7zM103.0 423.2h1.7v1.7h-1.7zM104.5 423.2h1.7v1.7h-1.7zM124.0 423.2h1.7v1.7h-1.7zM133.0 423.2h1.7v1.7h-1.7zM100.0 424.7h1.7v1.7h-1.7zM101.5 424.7h1.7v1.7h-1.7zM103.0 424.7h1.7v1.7h-1.7zM104.5 424.7h1.7v1.7h-1.7zM131.5 424.7h1.7v1.7h-1.7zM133.0 424.7h1.7v1.7h-1.7zM134.5 424.7h1.7v1.7h-1.7zM101.5 426.2h1.7v1.7h-1.7zM103.0 426.2h1.7v1.7h-1.7zM118.0 426.2h1.7v1.7h-1.7zM119.5 426.2h1.7v1.7h-1.7zM121.0 426.2h1.7v1.7h-1.7zM122.5 426.2h1.7v1.7h-1.7zM131.5 426.2h1.7v1.7h-1.7zM133.0 426.2h1.7v1.7h-1.7zM134.5 426.2h1.7v1.7h-1.7zM136.0 426.2h1.7v1.7h-1.7zM140.5 426.2h1.7v1.7h-1.7zM142.0 426.2h1.7v1.7h-1.7zM143.5 426.2h1.7v1.7h-1.7zM145.0 426.2h1.7v1.7h-1.7zM116.5 427.7h1.7v1.7h-1.7zM118.0 427.7h1.7v1.7h-1.7zM119.5 427.7h1.7v1.7h-1.7zM121.0 427.7h1.7v1.7h-1.7zM122.5 427.7h1.7v1.7h-1.7zM140.5 427.7h1.7v1.7h-1.7zM142.0 427.7h1.7v1.7h-1.7zM146.5 427.7h1.7v1.7h-1.7zM107.5 429.2h1.7v1.7h-1.7zM115.0 429.2h1.7v1.7h-1.7zM119.5 429.2h1.7v1.7h-1.7zM122.5 429.2h1.7v1.7h-1.7zM140.5 429.2h1.7v1.7h-1.7zM146.5 429.2h1.7v1.7h-1.7zM164.5 429.2h1.7v1.7h-1.7zM166.0 429.2h1.7v1.7h-1.7zM140.5 430.7h1.7v1.7h-1.7zM143.5 430.7h1.7v1.7h-1.7zM145.0 430.7h1.7v1.7h-1.7zM146.5 430.7h1.7v1.7h-1.7zM152.5 430.7h1.7v1.7h-1.7zM164.5 430.7h1.7v1.7h-1.7zM82.0 432.2h1.7v1.7h-1.7zM83.5 432.2h1.7v1.7h-1.7zM85.0 432.2h1.7v1.7h-1.7zM119.5 432.2h1.7v1.7h-1.7zM82.0 433.7h1.7v1.7h-1.7zM83.5 433.7h1.7v1.7h-1.7zM85.0 433.7h1.7v1.7h-1.7zM86.5 433.7h1.7v1.7h-1.7zM88.0 433.7h1.7v1.7h-1.7zM89.5 433.7h1.7v1.7h-1.7zM151.0 433.7h1.7v1.7h-1.7zM152.5 433.7h1.7v1.7h-1.7zM85.0 435.2h1.7v1.7h-1.7zM86.5 435.2h1.7v1.7h-1.7zM88.0 435.2h1.7v1.7h-1.7zM89.5 435.2h1.7v1.7h-1.7zM91.0 435.2h1.7v1.7h-1.7zM92.5 435.2h1.7v1.7h-1.7zM94.0 435.2h1.7v1.7h-1.7zM88.0 436.7h1.7v1.7h-1.7zM89.5 436.7h1.7v1.7h-1.7zM91.0 436.7h1.7v1.7h-1.7zM92.5 436.7h1.7v1.7h-1.7zM94.0 436.7h1.7v1.7h-1.7zM101.5 436.7h1.7v1.7h-1.7zM91.0 438.2h1.7v1.7h-1.7zM92.5 438.2h1.7v1.7h-1.7zM94.0 438.2h1.7v1.7h-1.7zM100.0 438.2h1.7v1.7h-1.7zM101.5 438.2h1.7v1.7h-1.7zM92.5 439.7h1.7v1.7h-1.7zM98.5 439.7h1.7v1.7h-1.7zM100.0 439.7h1.7v1.7h-1.7zM139.0 442.7h1.7v1.7h-1.7z"/>
<path fill="#6e57e1" d="M98.5 276.2h1.7v1.7h-1.7zM106.0 277.7h1.7v1.7h-1.7zM107.5 279.2h1.7v1.7h-1.7zM113.5 279.2h1.7v1.7h-1.7zM82.0 283.7h1.7v1.7h-1.7zM107.5 283.7h1.7v1.7h-1.7zM109.0 283.7h1.7v1.7h-1.7zM112.0 283.7h1.7v1.7h-1.7zM155.5 283.7h1.7v1.7h-1.7zM107.5 285.2h1.7v1.7h-1.7zM109.0 285.2h1.7v1.7h-1.7zM110.5 285.2h1.7v1.7h-1.7zM112.0 285.2h1.7v1.7h-1.7zM100.0 286.7h1.7v1.7h-1.7zM101.5 286.7h1.7v1.7h-1.7zM104.5 286.7h1.7v1.7h-1.7zM106.0 286.7h1.7v1.7h-1.7zM107.5 286.7h1.7v1.7h-1.7zM109.0 286.7h1.7v1.7h-1.7zM110.5 286.7h1.7v1.7h-1.7zM97.0 288.2h1.7v1.7h-1.7zM103.0 288.2h1.7v1.7h-1.7zM104.5 288.2h1.7v1.7h-1.7zM106.0 288.2h1.7v1.7h-1.7zM107.5 288.2h1.7v1.7h-1.7zM97.0 289.7h1.7v1.7h-1.7zM98.5 289.7h1.7v1.7h-1.7zM103.0 289.7h1.7v1.7h-1.7zM100.0 291.2h1.7v1.7h-1.7zM101.5 291.2h1.7v1.7h-1.7zM109.0 291.2h1.7v1.7h-1.7zM110.5 291.2h1.7v1.7h-1.7zM112.0 291.2h1.7v1.7h-1.7zM115.0 291.2h1.7v1.7h-1.7zM109.0 292.7h1.7v1.7h-1.7zM110.5 292.7h1.7v1.7h-1.7zM113.5 292.7h1.7v1.7h-1.7zM113.5 294.2h1.7v1.7h-1.7zM112.0 301.7h1.7v1.7h-1.7zM158.5 301.7h1.7v1.7h-1.7zM160.0 301.7h1.7v1.7h-1.7zM112.0 303.2h1.7v1.7h-1.7zM113.5 303.2h1.7v1.7h-1.7zM158.5 303.2h1.7v1.7h-1.7zM160.0 303.2h1.7v1.7h-1.7zM113.5 307.7h1.7v1.7h-1.7zM146.5 307.7h1.7v1.7h-1.7zM149.5 310.7h1.7v1.7h-1.7zM152.5 310.7h1.7v1.7h-1.7zM134.5 312.2h1.7v1.7h-1.7zM154.0 312.2h1.7v1.7h-1.7zM148.0 313.7h1.7v1.7h-1.7zM154.0 313.7h1.7v1.7h-1.7zM158.5 313.7h1.7v1.7h-1.7zM160.0 313.7h1.7v1.7h-1.7zM148.0 315.2h1.7v1.7h-1.7zM151.0 316.7h1.7v1.7h-1.7zM143.5 318.2h1.7v1.7h-1.7zM152.5 318.2h1.7v1.7h-1.7zM154.0 318.2h1.7v1.7h-1.7zM124.0 321.2h1.7v1.7h-1.7zM142.0 321.2h1.7v1.7h-1.7zM97.0 322.7h1.7v1.7h-1.7zM122.5 322.7h1.7v1.7h-1.7zM124.0 322.7h1.7v1.7h-1.7zM148.0 322.7h1.7v1.7h-1.7zM167.5 322.7h1.7v1.7h-1.7zM131.5 324.2h1.7v1.7h-1.7zM148.0 324.2h1.7v1.7h-1.7zM92.5 325.7h1.7v1.7h-1.7zM152.5 325.7h1.7v1.7h-1.7zM100.0 327.2h1.7v1.7h-1.7zM101.5 327.2h1.7v1.7h-1.7zM100.0 328.7h1.7v1.7h-1.7zM101.5 328.7h1.7v1.7h-1.7zM112.0 328.7h1.7v1.7h-1.7zM134.5 328.7h1.7v1.7h-1.7zM136.0 328.7h1.7v1.7h-1.7zM157.0 328.7h1.7v1.7h-1.7zM101.5 330.2h1.7v1.7h-1.7zM103.0 330.2h1.7v1.7h-1.7zM112.0 330.2h1.7v1.7h-1.7zM157.0 330.2h1.7v1.7h-1.7zM103.0 331.7h1.7v1.7h-1.7zM104.5 331.7h1.7v1.7h-1.7zM122.5 331.7h1.7v1.7h-1.7zM124.0 331.7h1.7v1.7h-1.7zM125.5 331.7h1.7v1.7h-1.7zM152.5 331.7h1.7v1.7h-1.7zM154.0 331.7h1.7v1.7h-1.7zM155.5 331.7h1.7v1.7h-1.7zM121.0 333.2h1.7v1.7h-1.7zM122.5 333.2h1.7v1.7h-1.7zM124.0 333.2h1.7v1.7h-1.7zM125.5 333.2h1.7v1.7h-1.7zM127.0 333.2h1.7v1.7h-1.7zM148.0 333.2h1.7v1.7h-1.7zM149.5 333.2h1.7v1.7h-1.7zM119.5 334.7h1.7v1.7h-1.7zM121.0 334.7h1.7v1.7h-1.7zM122.5 334.7h1.7v1.7h-1.7zM124.0 334.7h1.7v1.7h-1.7zM125.5 334.7h1.7v1.7h-1.7zM127.0 334.7h1.7v1.7h-1.7zM148.0 334.7h1.7v1.7h-1.7zM149.5 334.7h1.7v1.7h-1.7zM155.5 334.7h1.7v1.7h-1.7zM157.0 334.7h1.7v1.7h-1.7zM158.5 334.7h1.7v1.7h-1.7zM163.0 334.7h1.7v1.7h-1.7zM113.5 336.2h1.7v1.7h-1.7zM115.0 336.2h1.7v1.7h-1.7zM116.5 336.2h1.7v1.7h-1.7zM118.0 336.2h1.7v1.7h-1.7zM119.5 336.2h1.7v1.7h-1.7zM121.0 336.2h1.7v1.7h-1.7zM122.5 336.2h1.7v1.7h-1.7zM124.0 336.2h1.7v1.7h-1.7zM125.5 336.2h1.7v1.7h-1.7zM127.0 336.2h1.7v1.7h-1.7zM148.0 336.2h1.7v1.7h-1.7zM149.5 336.2h1.7v1.7h-1.7zM155.5 336.2h1.7v1.7h-1.7zM157.0 336.2h1.7v1.7h-1.7zM113.5 337.7h1.7v1.7h-1.7zM116.5 337.7h1.7v1.7h-1.7zM118.0 337.7h1.7v1.7h-1.7zM119.5 337.7h1.7v1.7h-1.7zM121.0 337.7h1.7v1.7h-1.7zM122.5 337.7h1.7v1.7h-1.7zM124.0 337.7h1.7v1.7h-1.7zM125.5 337.7h1.7v1.7h-1.7zM127.0 337.7h1.7v1.7h-1.7zM149.5 337.7h1.7v1.7h-1.7zM161.5 337.7h1.7v1.7h-1.7zM112.0 339.2h1.7v1.7h-1.7zM113.5 339.2h1.7v1.7h-1.7zM118.0 339.2h1.7v1.7h-1.7zM119.5 339.2h1.7v1.7h-1.7zM121.0 339.2h1.7v1.7h-1.7zM122.5 339.2h1.7v1.7h-1.7zM124.0 339.2h1.7v1.7h-1.7zM157.0 339.2h1.7v1.7h-1.7zM109.0 340.7h1.7v1.7h-1.7zM110.5 340.7h1.7v1.7h-1.7zM112.0 340.7h1.7v1.7h-1.7zM113.5 340.7h1.7v1.7h-1.7zM115.0 340.7h1.7v1.7h-1.7zM119.5 340.7h1.7v1.7h-1.7zM124.0 340.7h1.7v1.7h-1.7zM134.5 340.7h1.7v1.7h-1.7zM136.0 340.7h1.7v1.7h-1.7zM146.5 340.7h1.7v1.7h-1.7zM169.0 340.7h1.7v1.7h-1.7zM134.5 342.2h1.7v1.7h-1.7zM136.0 342.2h1.7v1.7h-1.7zM137.5 342.2h1.7v1.7h-1.7zM146.5 342.2h1.7v1.7h-1.7zM170.5 342.2h1.7v1.7h-1.7zM131.5 343.7h1.7v1.7h-1.7zM134.5 343.7h1.7v1.7h-1.7zM136.0 343.7h1.7v1.7h-1.7zM137.5 343.7h1.7v1.7h-1.7zM139.0 343.7h1.7v1.7h-1.7zM155.5 343.7h1.7v1.7h-1.7zM121.0 345.2h1.7v1.7h-1.7zM136.0 345.2h1.7v1.7h-1.7zM137.5 345.2h1.7v1.7h-1.7zM119.5 346.7h1.7v1.7h-1.7zM121.0 346.7h1.7v1.7h-1.7zM122.5 346.7h1.7v1.7h-1.7zM136.0 346.7h1.7v1.7h-1.7zM137.5 346.7h1.7v1.7h-1.7zM121.0 348.2h1.7v1.7h-1.7zM157.0 348.2h1.7v1.7h-1.7zM163.0 348.2h1.7v1.7h-1.7zM127.0 349.7h1.7v1.7h-1.7zM128.5 349.7h1.7v1.7h-1.7zM163.0 349.7h1.7v1.7h-1.7zM125.5 351.2h1.7v1.7h-1.7zM127.0 351.2h1.7v1.7h-1.7zM128.5 351.2h1.7v1.7h-1.7zM142.0 351.2h1.7v1.7h-1.7zM151.0 351.2h1.7v1.7h-1.7zM160.0 351.2h1.7v1.7h-1.7zM161.5 351.2h1.7v1.7h-1.7zM163.0 351.2h1.7v1.7h-1.7zM124.0 352.7h1.7v1.7h-1.7zM125.5 352.7h1.7v1.7h-1.7zM158.5 352.7h1.7v1.7h-1.7zM160.0 352.7h1.7v1.7h-1.7zM124.0 354.2h1.7v1.7h-1.7zM134.5 355.7h1.7v1.7h-1.7zM136.0 355.7h1.7v1.7h-1.7zM137.5 355.7h1.7v1.7h-1.7zM158.5 355.7h1.7v1.7h-1.7zM166.0 355.7h1.7v1.7h-1.7zM136.0 357.2h1.7v1.7h-1.7zM137.5 357.2h1.7v1.7h-1.7zM157.0 357.2h1.7v1.7h-1.7zM136.0 358.7h1.7v1.7h-1.7zM137.5 358.7h1.7v1.7h-1.7zM149.5 358.7h1.7v1.7h-1.7zM157.0 358.7h1.7v1.7h-1.7zM137.5 360.2h1.7v1.7h-1.7zM145.0 360.2h1.7v1.7h-1.7zM146.5 360.2h1.7v1.7h-1.7zM148.0 360.2h1.7v1.7h-1.7zM149.5 360.2h1.7v1.7h-1.7zM139.0 361.7h1.7v1.7h-1.7zM146.5 361.7h1.7v1.7h-1.7zM148.0 361.7h1.7v1.7h-1.7zM154.0 363.2h1.7v1.7h-1.7zM152.5 364.7h1.7v1.7h-1.7zM155.5 364.7h1.7v1.7h-1.7zM152.5 366.2h1.7v1.7h-1.7zM155.5 366.2h1.7v1.7h-1.7zM142.0 367.7h1.7v1.7h-1.7zM151.0 367.7h1.7v1.7h-1.7zM152.5 367.7h1.7v1.7h-1.7zM155.5 367.7h1.7v1.7h-1.7zM161.5 367.7h1.7v1.7h-1.7zM107.5 369.2h1.7v1.7h-1.7zM109.0 369.2h1.7v1.7h-1.7zM149.5 369.2h1.7v1.7h-1.7zM155.5 369.2h1.7v1.7h-1.7zM157.0 369.2h1.7v1.7h-1.7zM161.5 369.2h1.7v1.7h-1.7zM169.0 369.2h1.7v1.7h-1.7zM134.5 370.7h1.7v1.7h-1.7zM142.0 370.7h1.7v1.7h-1.7zM148.0 370.7h1.7v1.7h-1.7zM157.0 370.7h1.7v1.7h-1.7zM163.0 370.7h1.7v1.7h-1.7zM115.0 372.2h1.7v1.7h-1.7zM130.0 372.2h1.7v1.7h-1.7zM134.5 372.2h1.7v1.7h-1.7zM140.5 372.2h1.7v1.7h-1.7zM142.0 372.2h1.7v1.7h-1.7zM157.0 372.2h1.7v1.7h-1.7zM160.0 372.2h1.7v1.7h-1.7zM115.0 373.7h1.7v1.7h-1.7zM116.5 373.7h1.7v1.7h-1.7zM130.0 373.7h1.7v1.7h-1.7zM134.5 373.7h1.7v1.7h-1.7zM151.0 373.7h1.7v1.7h-1.7zM160.0 373.7h1.7v1.7h-1.7zM161.5 373.7h1.7v1.7h-1.7zM113.5 375.2h1.7v1.7h-1.7zM130.0 375.2h1.7v1.7h-1.7zM149.5 375.2h1.7v1.7h-1.7zM151.0 375.2h1.7v1.7h-1.7zM112.0 376.7h1.7v1.7h-1.7zM113.5 376.7h1.7v1.7h-1.7zM148.0 376.7h1.7v1.7h-1.7zM149.5 376.7h1.7v1.7h-1.7zM112.0 378.2h1.7v1.7h-1.7zM113.5 378.2h1.7v1.7h-1.7zM148.0 378.2h1.7v1.7h-1.7zM149.5 378.2h1.7v1.7h-1.7zM143.5 379.7h1.7v1.7h-1.7zM145.0 379.7h1.7v1.7h-1.7zM146.5 379.7h1.7v1.7h-1.7zM148.0 379.7h1.7v1.7h-1.7zM149.5 379.7h1.7v1.7h-1.7zM149.5 381.2h1.7v1.7h-1.7zM151.0 381.2h1.7v1.7h-1.7zM140.5 382.7h1.7v1.7h-1.7zM142.0 382.7h1.7v1.7h-1.7zM152.5 382.7h1.7v1.7h-1.7zM145.0 384.2h1.7v1.7h-1.7zM158.5 384.2h1.7v1.7h-1.7zM160.0 384.2h1.7v1.7h-1.7zM145.0 385.7h1.7v1.7h-1.7zM146.5 385.7h1.7v1.7h-1.7zM124.0 388.7h1.7v1.7h-1.7zM125.5 388.7h1.7v1.7h-1.7zM133.0 388.7h1.7v1.7h-1.7zM145.0 388.7h1.7v1.7h-1.7zM146.5 388.7h1.7v1.7h-1.7zM124.0 390.2h1.7v1.7h-1.7zM125.5 390.2h1.7v1.7h-1.7zM143.5 390.2h1.7v1.7h-1.7zM145.0 390.2h1.7v1.7h-1.7zM91.0 396.2h1.7v1.7h-1.7zM95.5 396.2h1.7v1.7h-1.7zM148.0 396.2h1.7v1.7h-1.7zM149.5 396.2h1.7v1.7h-1.7zM151.0 396.2h1.7v1.7h-1.7zM152.5 396.2h1.7v1.7h-1.7zM91.0 397.7h1.7v1.7h-1.7zM148.0 397.7h1.7v1.7h-1.7zM149.5 397.7h1.7v1.7h-1.7zM151.0 397.7h1.7v1.7h-1.7zM152.5 397.7h1.7v1.7h-1.7zM92.5 399.2h1.7v1.7h-1.7zM119.5 399.2h1.7v1.7h-1.7zM151.0 399.2h1.7v1.7h-1.7zM136.0 400.7h1.7v1.7h-1.7zM118.0 402.2h1.7v1.7h-1.7zM121.0 402.2h1.7v1.7h-1.7zM44.5 405.2h1.7v1.7h-1.7zM89.5 406.7h1.7v1.7h-1.7zM101.5 409.7h1.7v1.7h-1.7zM80.5 411.2h1.7v1.7h-1.7zM82.0 411.2h1.7v1.7h-1.7zM83.5 411.2h1.7v1.7h-1.7zM80.5 412.7h1.7v1.7h-1.7zM82.0 412.7h1.7v1.7h-1.7zM83.5 412.7h1.7v1.7h-1.7zM85.0 412.7h1.7v1.7h-1.7zM130.0 412.7h1.7v1.7h-1.7zM50.5 414.2h1.7v1.7h-1.7zM80.5 414.2h1.7v1.7h-1.7zM82.0 414.2h1.7v1.7h-1.7zM83.5 414.2h1.7v1.7h-1.7zM88.0 414.2h1.7v1.7h-1.7zM116.5 414.2h1.7v1.7h-1.7zM67.0 415.7h1.7v1.7h-1.7zM68.5 415.7h1.7v1.7h-1.7zM125.5 415.7h1.7v1.7h-1.7zM127.0 415.7h1.7v1.7h-1.7zM143.5 415.7h1.7v1.7h-1.7zM67.0 417.2h1.7v1.7h-1.7zM68.5 417.2h1.7v1.7h-1.7zM83.5 417.2h1.7v1.7h-1.7zM85.0 417.2h1.7v1.7h-1.7zM91.0 417.2h1.7v1.7h-1.7zM94.0 417.2h1.7v1.7h-1.7zM95.5 417.2h1.7v1.7h-1.7zM107.5 417.2h1.7v1.7h-1.7zM124.0 417.2h1.7v1.7h-1.7zM125.5 417.2h1.7v1.7h-1.7zM127.0 417.2h1.7v1.7h-1.7zM143.5 417.2h1.7v1.7h-1.7zM145.0 417.2h1.7v1.7h-1.7zM146.5 417.2h1.7v1.7h-1.7zM152.5 417.2h1.7v1.7h-1.7zM158.5 417.2h1.7v1.7h-1.7zM160.0 417.2h1.7v1.7h-1.7zM89.5 418.7h1.7v1.7h-1.7zM91.0 418.7h1.7v1.7h-1.7zM92.5 418.7h1.7v1.7h-1.7zM94.0 418.7h1.7v1.7h-1.7zM125.5 418.7h1.7v1.7h-1.7zM127.0 418.7h1.7v1.7h-1.7zM143.5 418.7h1.7v1.7h-1.7zM145.0 418.7h1.7v1.7h-1.7zM146.5 418.7h1.7v1.7h-1.7zM148.0 418.7h1.7v1.7h-1.7zM152.5 418.7h1.7v1.7h-1.7zM158.5 418.7h1.7v1.7h-1.7zM160.0 418.7h1.7v1.7h-1.7zM161.5 418.7h1.7v1.7h-1.7zM94.0 420.2h1.7v1.7h-1.7zM101.5 420.2h1.7v1.7h-1.7zM121.0 420.2h1.7v1.7h-1.7zM122.5 420.2h1.7v1.7h-1.7zM130.0 420.2h1.7v1.7h-1.7zM131.5 420.2h1.7v1.7h-1.7zM143.5 420.2h1.7v1.7h-1.7zM152.5 420.2h1.7v1.7h-1.7zM158.5 420.2h1.7v1.7h-1.7zM160.0 420.2h1.7v1.7h-1.7zM161.5 420.2h1.7v1.7h-1.7zM163.0 420.2h1.7v1.7h-1.7zM85.0 421.7h1.7v1.7h-1.7zM94.0 421.7h1.7v1.7h-1.7zM106.0 421.7h1.7v1.7h-1.7zM110.5 421.7h1.7v1.7h-1.7zM121.0 421.7h1.7v1.7h-1.7zM131.5 421.7h1.7v1.7h-1.7zM148.0 421.7h1.7v1.7h-1.7zM149.5 421.7h1.7v1.7h-1.7zM151.0 421.7h1.7v1.7h-1.7zM152.5 421.7h1.7v1.7h-1.7zM157.0 421.7h1.7v1.7h-1.7zM160.0 421.7h1.7v1.7h-1.7zM161.5 421.7h1.7v1.7h-1.7zM163.0 421.7h1.7v1.7h-1.7zM83.5 423.2h1.7v1.7h-1.7zM85.0 423.2h1.7v1.7h-1.7zM106.0 423.2h1.7v1.7h-1.7zM110.5 423.2h1.7v1.7h-1.7zM119.5 423.2h1.7v1.7h-1.7zM121.0 423.2h1.7v1.7h-1.7zM122.5 423.2h1.7v1.7h-1.7zM125.5 423.2h1.7v1.7h-1.7zM130.0 423.2h1.7v1.7h-1.7zM131.5 423.2h1.7v1.7h-1.7zM148.0 423.2h1.7v1.7h-1.7zM160.0 423.2h1.7v1.7h-1.7zM161.5 423.2h1.7v1.7h-1.7zM65.5 424.7h1.7v1.7h-1.7zM67.0 424.7h1.7v1.7h-1.7zM80.5 424.7h1.7v1.7h-1.7zM82.0 424.7h1.7v1.7h-1.7zM98.5 424.7h1.7v1.7h-1.7zM106.0 424.7h1.7v1.7h-1.7zM118.0 424.7h1.7v1.7h-1.7zM119.5 424.7h1.7v1.7h-1.7zM121.0 424.7h1.7v1.7h-1.7zM122.5 424.7h1.7v1.7h-1.7zM124.0 424.7h1.7v1.7h-1.7zM125.5 424.7h1.7v1.7h-1.7zM128.5 424.7h1.7v1.7h-1.7zM130.0 424.7h1.7v1.7h-1.7zM142.0 424.7h1.7v1.7h-1.7zM143.5 424.7h1.7v1.7h-1.7zM145.0 424.7h1.7v1.7h-1.7zM100.0 426.2h1.7v1.7h-1.7zM104.5 426.2h1.7v1.7h-1.7zM116.5 426.2h1.7v1.7h-1.7zM124.0 426.2h1.7v1.7h-1.7zM130.0 426.2h1.7v1.7h-1.7zM137.5 426.2h1.7v1.7h-1.7zM139.0 426.2h1.7v1.7h-1.7zM146.5 426.2h1.7v1.7h-1.7zM103.0 427.7h1.7v1.7h-1.7zM109.0 427.7h1.7v1.7h-1.7zM115.0 427.7h1.7v1.7h-1.7zM124.0 427.7h1.7v1.7h-1.7zM131.5 427.7h1.7v1.7h-1.7zM133.0 427.7h1.7v1.7h-1.7zM134.5 427.7h1.7v1.7h-1.7zM139.0 427.7h1.7v1.7h-1.7zM148.0 427.7h1.7v1.7h-1.7zM157.0 427.7h1.7v1.7h-1.7zM116.5 429.2h1.7v1.7h-1.7zM118.0 429.2h1.7v1.7h-1.7zM124.0 429.2h1.7v1.7h-1.7zM139.0 429.2h1.7v1.7h-1.7zM148.0 429.2h1.7v1.7h-1.7zM149.5 429.2h1.7v1.7h-1.7zM151.0 429.2h1.7v1.7h-1.7zM152.5 429.2h1.7v1.7h-1.7zM154.0 429.2h1.7v1.7h-1.7zM155.5 429.2h1.7v1.7h-1.7zM157.0 429.2h1.7v1.7h-1.7zM163.0 429.2h1.7v1.7h-1.7zM77.5 430.7h1.7v1.7h-1.7zM79.0 430.7h1.7v1.7h-1.7zM83.5 430.7h1.7v1.7h-1.7zM106.0 430.7h1.7v1.7h-1.7zM107.5 430.7h1.7v1.7h-1.7zM115.0 430.7h1.7v1.7h-1.7zM116.5 430.7h1.7v1.7h-1.7zM124.0 430.7h1.7v1.7h-1.7zM139.0 430.7h1.7v1.7h-1.7zM148.0 430.7h1.7v1.7h-1.7zM149.5 430.7h1.7v1.7h-1.7zM151.0 430.7h1.7v1.7h-1.7zM154.0 430.7h1.7v1.7h-1.7zM155.5 430.7h1.7v1.7h-1.7zM157.0 430.7h1.7v1.7h-1.7zM158.5 430.7h1.7v1.7h-1.7zM160.0 430.7h1.7v1.7h-1.7zM161.5 430.7h1.7v1.7h-1.7zM163.0 430.7h1.7v1.7h-1.7zM80.5 432.2h1.7v1.7h-1.7zM86.5 432.2h1.7v1.7h-1.7zM113.5 432.2h1.7v1.7h-1.7zM115.0 432.2h1.7v1.7h-1.7zM116.5 432.2h1.7v1.7h-1.7zM118.0 432.2h1.7v1.7h-1.7zM124.0 432.2h1.7v1.7h-1.7zM149.5 432.2h1.7v1.7h-1.7zM151.0 432.2h1.7v1.7h-1.7zM152.5 432.2h1.7v1.7h-1.7zM154.0 432.2h1.7v1.7h-1.7zM155.5 432.2h1.7v1.7h-1.7zM157.0 432.2h1.7v1.7h-1.7zM158.5 432.2h1.7v1.7h-1.7zM163.0 432.2h1.7v1.7h-1.7zM91.0 433.7h1.7v1.7h-1.7zM92.5 433.7h1.7v1.7h-1.7zM119.5 433.7h1.7v1.7h-1.7zM149.5 433.7h1.7v1.7h-1.7zM154.0 433.7h1.7v1.7h-1.7zM83.5 435.2h1.7v1.7h-1.7zM101.5 435.2h1.7v1.7h-1.7zM103.0 435.2h1.7v1.7h-1.7zM110.5 435.2h1.7v1.7h-1.7zM151.0 435.2h1.7v1.7h-1.7zM152.5 435.2h1.7v1.7h-1.7zM154.0 435.2h1.7v1.7h-1.7zM100.0 436.7h1.7v1.7h-1.7zM103.0 436.7h1.7v1.7h-1.7zM109.0 436.7h1.7v1.7h-1.7zM110.5 436.7h1.7v1.7h-1.7zM112.0 436.7h1.7v1.7h-1.7zM143.5 436.7h1.7v1.7h-1.7zM103.0 438.2h1.7v1.7h-1.7zM110.5 438.2h1.7v1.7h-1.7zM94.0 439.7h1.7v1.7h-1.7zM101.5 439.7h1.7v1.7h-1.7zM103.0 439.7h1.7v1.7h-1.7zM137.5 439.7h1.7v1.7h-1.7zM139.0 439.7h1.7v1.7h-1.7zM97.0 441.2h1.7v1.7h-1.7zM98.5 441.2h1.7v1.7h-1.7zM137.5 441.2h1.7v1.7h-1.7zM139.0 441.2h1.7v1.7h-1.7zM97.0 444.2h1.7v1.7h-1.7z"/>
<path fill="#9258d3" d="M91.0 277.7h1.7v1.7h-1.7zM98.5 277.7h1.7v1.7h-1.7zM100.0 277.7h1.7v1.7h-1.7zM101.5 277.7h1.7v1.7h-1.7zM103.0 277.7h1.7v1.7h-1.7zM104.5 277.7h1.7v1.7h-1.7zM122.5 277.7h1.7v1.7h-1.7zM124.0 277.7h1.7v1.7h-1.7zM100.0 279.2h1.7v1.7h-1.7zM101.5 279.2h1.7v1.7h-1.7zM103.0 279.2h1.7v1.7h-1.7zM106.0 279.2h1.7v1.7h-1.7zM121.0 279.2h1.7v1.7h-1.7zM122.5 279.2h1.7v1.7h-1.7zM124.0 279.2h1.7v1.7h-1.7zM125.5 279.2h1.7v1.7h-1.7zM134.5 279.2h1.7v1.7h-1.7zM136.0 279.2h1.7v1.7h-1.7zM137.5 279.2h1.7v1.7h-1.7zM146.5 279.2h1.7v1.7h-1.7zM119.5 280.7h1.7v1.7h-1.7zM121.0 280.7h1.7v1.7h-1.7zM122.5 280.7h1.7v1.7h-1.7zM146.5 280.7h1.7v1.7h-1.7zM107.5 282.2h1.7v1.7h-1.7zM121.0 282.2h1.7v1.7h-1.7zM122.5 282.2h1.7v1.7h-1.7zM142.0 282.2h1.7v1.7h-1.7zM80.5 283.7h1.7v1.7h-1.7zM125.5 283.7h1.7v1.7h-1.7zM140.5 283.7h1.7v1.7h-1.7zM142.0 283.7h1.7v1.7h-1.7zM149.5 283.7h1.7v1.7h-1.7zM82.0 285.2h1.7v1.7h-1.7zM140.5 285.2h1.7v1.7h-1.7zM142.0 285.2h1.7v1.7h-1.7zM151.0 285.2h1.7v1.7h-1.7zM152.5 285.2h1.7v1.7h-1.7zM154.0 285.2h1.7v1.7h-1.7zM127.0 286.7h1.7v1.7h-1.7zM128.5 286.7h1.7v1.7h-1.7zM152.5 286.7h1.7v1.7h-1.7zM157.0 286.7h1.7v1.7h-1.7zM83.5 288.2h1.7v1.7h-1.7zM152.5 288.2h1.7v1.7h-1.7zM155.5 288.2h1.7v1.7h-1.7zM158.5 288.2h1.7v1.7h-1.7zM164.5 288.2h1.7v1.7h-1.7zM83.5 289.7h1.7v1.7h-1.7zM152.5 289.7h1.7v1.7h-1.7zM157.0 289.7h1.7v1.7h-1.7zM158.5 289.7h1.7v1.7h-1.7zM164.5 289.7h1.7v1.7h-1.7zM103.0 291.2h1.7v1.7h-1.7zM106.0 291.2h1.7v1.7h-1.7zM152.5 291.2h1.7v1.7h-1.7zM155.5 291.2h1.7v1.7h-1.7zM157.0 291.2h1.7v1.7h-1.7zM158.5 291.2h1.7v1.7h-1.7zM160.0 291.2h1.7v1.7h-1.7zM166.0 291.2h1.7v1.7h-1.7zM106.0 292.7h1.7v1.7h-1.7zM152.5 292.7h1.7v1.7h-1.7zM154.0 292.7h1.7v1.7h-1.7zM155.5 292.7h1.7v1.7h-1.7zM157.0 292.7h1.7v1.7h-1.7zM158.5 292.7h1.7v1.7h-1.7zM160.0 292.7h1.7v1.7h-1.7zM82.0 294.2h1.7v1.7h-1.7zM83.5 294.2h1.7v1.7h-1.7zM85.0 294.2h1.7v1.7h-1.7zM158.5 294.2h1.7v1.7h-1.7zM160.0 294.2h1.7v1.7h-1.7zM161.5 294.2h1.7v1.7h-1.7zM172.0 294.2h1.7v1.7h-1.7zM83.5 295.7h1.7v1.7h-1.7zM152.5 295.7h1.7v1.7h-1.7zM158.5 295.7h1.7v1.7h-1.7zM172.0 295.7h1.7v1.7h-1.7zM173.5 295.7h1.7v1.7h-1.7zM80.5 297.2h1.7v1.7h-1.7zM92.5 297.2h1.7v1.7h-1.7zM79.0 298.7h1.7v1.7h-1.7zM80.5 298.7h1.7v1.7h-1.7zM89.5 298.7h1.7v1.7h-1.7zM92.5 298.7h1.7v1.7h-1.7zM79.0 300.2h1.7v1.7h-1.7zM80.5 300.2h1.7v1.7h-1.7zM89.5 300.2h1.7v1.7h-1.7zM92.5 300.2h1.7v1.7h-1.7zM158.5 300.2h1.7v1.7h-1.7zM80.5 301.7h1.7v1.7h-1.7zM82.0 301.7h1.7v1.7h-1.7zM83.5 301.7h1.7v1.7h-1.7zM77.5 303.2h1.7v1.7h-1.7zM79.0 303.2h1.7v1.7h-1.7zM80.5 303.2h1.7v1.7h-1.7zM82.0 303.2h1.7v1.7h-1.7zM83.5 303.2h1.7v1.7h-1.7zM82.0 304.7h1.7v1.7h-1.7zM83.5 304.7h1.7v1.7h-1.7zM113.5 304.7h1.7v1.7h-1.7zM142.0 304.7h1.7v1.7h-1.7zM113.5 306.2h1.7v1.7h-1.7zM115.0 306.2h1.7v1.7h-1.7zM49.0 309.2h1.7v1.7h-1.7zM161.5 310.7h1.7v1.7h-1.7zM163.0 310.7h1.7v1.7h-1.7zM164.5 310.7h1.7v1.7h-1.7zM166.0 310.7h1.7v1.7h-1.7zM151.0 312.2h1.7v1.7h-1.7zM160.0 312.2h1.7v1.7h-1.7zM161.5 312.2h1.7v1.7h-1.7zM176.5 312.2h1.7v1.7h-1.7zM149.5 313.7h1.7v1.7h-1.7zM151.0 313.7h1.7v1.7h-1.7zM152.5 313.7h1.7v1.7h-1.7zM176.5 313.7h1.7v1.7h-1.7zM139.0 315.2h1.7v1.7h-1.7zM151.0 315.2h1.7v1.7h-1.7zM152.5 315.2h1.7v1.7h-1.7zM160.0 315.2h1.7v1.7h-1.7zM145.0 318.2h1.7v1.7h-1.7zM143.5 319.7h1.7v1.7h-1.7zM145.0 319.7h1.7v1.7h-1.7zM143.5 321.2h1.7v1.7h-1.7zM145.0 321.2h1.7v1.7h-1.7zM154.0 321.2h1.7v1.7h-1.7zM91.0 322.7h1.7v1.7h-1.7zM92.5 322.7h1.7v1.7h-1.7zM142.0 322.7h1.7v1.7h-1.7zM143.5 322.7h1.7v1.7h-1.7zM145.0 322.7h1.7v1.7h-1.7zM146.5 322.7h1.7v1.7h-1.7zM169.0 322.7h1.7v1.7h-1.7zM91.0 324.2h1.7v1.7h-1.7zM142.0 324.2h1.7v1.7h-1.7zM143.5 324.2h1.7v1.7h-1.7zM145.0 324.2h1.7v1.7h-1.7zM146.5 324.2h1.7v1.7h-1.7zM169.0 324.2h1.7v1.7h-1.7zM89.5 325.7h1.7v1.7h-1.7zM91.0 325.7h1.7v1.7h-1.7zM103.0 325.7h1.7v1.7h-1.7zM142.0 325.7h1.7v1.7h-1.7zM143.5 325.7h1.7v1.7h-1.7zM146.5 325.7h1.7v1.7h-1.7zM151.0 325.7h1.7v1.7h-1.7zM86.5 327.2h1.7v1.7h-1.7zM88.0 327.2h1.7v1.7h-1.7zM89.5 327.2h1.7v1.7h-1.7zM91.0 327.2h1.7v1.7h-1.7zM92.5 327.2h1.7v1.7h-1.7zM95.5 327.2h1.7v1.7h-1.7zM97.0 327.2h1.7v1.7h-1.7zM98.5 327.2h1.7v1.7h-1.7zM103.0 327.2h1.7v1.7h-1.7zM140.5 327.2h1.7v1.7h-1.7zM142.0 327.2h1.7v1.7h-1.7zM143.5 327.2h1.7v1.7h-1.7zM145.0 327.2h1.7v1.7h-1.7zM160.0 327.2h1.7v1.7h-1.7zM50.5 328.7h1.7v1.7h-1.7zM86.5 328.7h1.7v1.7h-1.7zM88.0 328.7h1.7v1.7h-1.7zM91.0 328.7h1.7v1.7h-1.7zM97.0 328.7h1.7v1.7h-1.7zM98.5 328.7h1.7v1.7h-1.7zM142.0 328.7h1.7v1.7h-1.7zM158.5 328.7h1.7v1.7h-1.7zM160.0 328.7h1.7v1.7h-1.7zM164.5 328.7h1.7v1.7h-1.7zM50.5 330.2h1.7v1.7h-1.7zM89.5 330.2h1.7v1.7h-1.7zM142.0 330.2h1.7v1.7h-1.7zM154.0 330.2h1.7v1.7h-1.7zM155.5 330.2h1.7v1.7h-1.7zM158.5 330.2h1.7v1.7h-1.7zM160.0 330.2h1.7v1.7h-1.7zM161.5 330.2h1.7v1.7h-1.7zM163.0 330.2h1.7v1.7h-1.7zM158.5 331.7h1.7v1.7h-1.7zM160.0 331.7h1.7v1.7h-1.7zM161.5 331.7h1.7v1.7h-1.7zM169.0 331.7h1.7v1.7h-1.7zM170.5 331.7h1.7v1.7h-1.7zM178.0 331.7h1.7v1.7h-1.7zM94.0 333.2h1.7v1.7h-1.7zM95.5 333.2h1.7v1.7h-1.7zM103.0 333.2h1.7v1.7h-1.7zM169.0 333.2h1.7v1.7h-1.7zM170.5 333.2h1.7v1.7h-1.7zM94.0 334.7h1.7v1.7h-1.7zM95.5 334.7h1.7v1.7h-1.7zM167.5 334.7h1.7v1.7h-1.7zM169.0 334.7h1.7v1.7h-1.7zM170.5 334.7h1.7v1.7h-1.7zM172.0 334.7h1.7v1.7h-1.7zM98.5 336.2h1.7v1.7h-1.7zM100.0 336.2h1.7v1.7h-1.7zM101.5 336.2h1.7v1.7h-1.7zM164.5 336.2h1.7v1.7h-1.7zM98.5 337.7h1.7v1.7h-1.7zM100.0 337.7h1.7v1.7h-1.7zM101.5 337.7h1.7v1.7h-1.7zM103.0 337.7h1.7v1.7h-1.7zM104.5 337.7h1.7v1.7h-1.7zM109.0 337.7h1.7v1.7h-1.7zM112.0 337.7h1.7v1.7h-1.7zM148.0 337.7h1.7v1.7h-1.7zM164.5 337.7h1.7v1.7h-1.7zM106.0 339.2h1.7v1.7h-1.7zM169.0 339.2h1.7v1.7h-1.7zM175.0 340.7h1.7v1.7h-1.7zM113.5 342.2h1.7v1.7h-1.7zM166.0 342.2h1.7v1.7h-1.7zM167.5 342.2h1.7v1.7h-1.7zM169.0 342.2h1.7v1.7h-1.7zM175.0 342.2h1.7v1.7h-1.7zM152.5 343.7h1.7v1.7h-1.7zM154.0 343.7h1.7v1.7h-1.7zM167.5 343.7h1.7v1.7h-1.7zM169.0 343.7h1.7v1.7h-1.7zM175.0 343.7h1.7v1.7h-1.7zM46.0 345.2h1.7v1.7h-1.7zM154.0 345.2h1.7v1.7h-1.7zM155.5 345.2h1.7v1.7h-1.7zM160.0 345.2h1.7v1.7h-1.7zM46.0 346.7h1.7v1.7h-1.7zM55.0 346.7h1.7v1.7h-1.7zM94.0 346.7h1.7v1.7h-1.7zM142.0 346.7h1.7v1.7h-1.7zM143.5 346.7h1.7v1.7h-1.7zM154.0 346.7h1.7v1.7h-1.7zM155.5 346.7h1.7v1.7h-1.7zM160.0 346.7h1.7v1.7h-1.7zM161.5 346.7h1.7v1.7h-1.7zM94.0 348.2h1.7v1.7h-1.7zM95.5 348.2h1.7v1.7h-1.7zM97.0 348.2h1.7v1.7h-1.7zM98.5 348.2h1.7v1.7h-1.7zM143.5 348.2h1.7v1.7h-1.7zM154.0 348.2h1.7v1.7h-1.7zM155.5 348.2h1.7v1.7h-1.7zM158.5 348.2h1.7v1.7h-1.7zM160.0 348.2h1.7v1.7h-1.7zM161.5 348.2h1.7v1.7h-1.7zM164.5 348.2h1.7v1.7h-1.7zM95.5 349.7h1.7v1.7h-1.7zM97.0 349.7h1.7v1.7h-1.7zM154.0 349.7h1.7v1.7h-1.7zM155.5 349.7h1.7v1.7h-1.7zM160.0 349.7h1.7v1.7h-1.7zM164.5 349.7h1.7v1.7h-1.7zM95.5 351.2h1.7v1.7h-1.7zM97.0 351.2h1.7v1.7h-1.7zM157.0 351.2h1.7v1.7h-1.7zM167.5 351.2h1.7v1.7h-1.7zM91.0 352.7h1.7v1.7h-1.7zM92.5 352.7h1.7v1.7h-1.7zM107.5 352.7h1.7v1.7h-1.7zM161.5 352.7h1.7v1.7h-1.7zM167.5 352.7h1.7v1.7h-1.7zM91.0 354.2h1.7v1.7h-1.7zM161.5 354.2h1.7v1.7h-1.7zM167.5 354.2h1.7v1.7h-1.7zM46.0 355.7h1.7v1.7h-1.7zM91.0 355.7h1.7v1.7h-1.7zM98.5 355.7h1.7v1.7h-1.7zM160.0 355.7h1.7v1.7h-1.7zM155.5 361.7h1.7v1.7h-1.7zM142.0 363.2h1.7v1.7h-1.7zM143.5 363.2h1.7v1.7h-1.7zM155.5 363.2h1.7v1.7h-1.7zM146.5 364.7h1.7v1.7h-1.7zM149.5 364.7h1.7v1.7h-1.7zM151.0 364.7h1.7v1.7h-1.7zM64.0 366.2h1.7v1.7h-1.7zM142.0 366.2h1.7v1.7h-1.7zM149.5 366.2h1.7v1.7h-1.7zM151.0 366.2h1.7v1.7h-1.7zM158.5 366.2h1.7v1.7h-1.7zM160.0 366.2h1.7v1.7h-1.7zM161.5 366.2h1.7v1.7h-1.7zM143.5 367.7h1.7v1.7h-1.7zM149.5 367.7h1.7v1.7h-1.7zM157.0 367.7h1.7v1.7h-1.7zM163.0 367.7h1.7v1.7h-1.7zM164.5 367.7h1.7v1.7h-1.7zM143.5 369.2h1.7v1.7h-1.7zM158.5 369.2h1.7v1.7h-1.7zM143.5 370.7h1.7v1.7h-1.7zM158.5 370.7h1.7v1.7h-1.7zM160.0 370.7h1.7v1.7h-1.7zM170.5 370.7h1.7v1.7h-1.7zM143.5 372.2h1.7v1.7h-1.7zM34.0 373.7h1.7v1.7h-1.7zM145.0 373.7h1.7v1.7h-1.7zM146.5 373.7h1.7v1.7h-1.7zM148.0 373.7h1.7v1.7h-1.7zM83.5 375.2h1.7v1.7h-1.7zM146.5 375.2h1.7v1.7h-1.7zM148.0 375.2h1.7v1.7h-1.7zM161.5 375.2h1.7v1.7h-1.7zM163.0 375.2h1.7v1.7h-1.7zM145.0 376.7h1.7v1.7h-1.7zM146.5 376.7h1.7v1.7h-1.7zM151.0 376.7h1.7v1.7h-1.7zM143.5 378.2h1.7v1.7h-1.7zM145.0 378.2h1.7v1.7h-1.7zM146.5 378.2h1.7v1.7h-1.7zM151.0 378.2h1.7v1.7h-1.7zM152.5 378.2h1.7v1.7h-1.7zM38.5 379.7h1.7v1.7h-1.7zM151.0 379.7h1.7v1.7h-1.7zM152.5 379.7h1.7v1.7h-1.7zM154.0 379.7h1.7v1.7h-1.7zM134.5 381.2h1.7v1.7h-1.7zM136.0 381.2h1.7v1.7h-1.7zM152.5 381.2h1.7v1.7h-1.7zM154.0 381.2h1.7v1.7h-1.7zM155.5 381.2h1.7v1.7h-1.7zM160.0 382.7h1.7v1.7h-1.7zM133.0 384.2h1.7v1.7h-1.7zM134.5 384.2h1.7v1.7h-1.7zM140.5 384.2h1.7v1.7h-1.7zM142.0 384.2h1.7v1.7h-1.7zM143.5 384.2h1.7v1.7h-1.7zM49.0 385.7h1.7v1.7h-1.7zM140.5 385.7h1.7v1.7h-1.7zM142.0 385.7h1.7v1.7h-1.7zM143.5 385.7h1.7v1.7h-1.7zM49.0 387.2h1.7v1.7h-1.7zM140.5 387.2h1.7v1.7h-1.7zM142.0 387.2h1.7v1.7h-1.7zM143.5 387.2h1.7v1.7h-1.7zM145.0 387.2h1.7v1.7h-1.7zM140.5 388.7h1.7v1.7h-1.7zM142.0 388.7h1.7v1.7h-1.7zM143.5 388.7h1.7v1.7h-1.7zM140.5 390.2h1.7v1.7h-1.7zM142.0 390.2h1.7v1.7h-1.7zM140.5 391.7h1.7v1.7h-1.7zM56.5 393.2h1.7v1.7h-1.7zM58.0 393.2h1.7v1.7h-1.7zM59.5 393.2h1.7v1.7h-1.7zM140.5 393.2h1.7v1.7h-1.7zM56.5 394.7h1.7v1.7h-1.7zM59.5 394.7h1.7v1.7h-1.7zM94.0 394.7h1.7v1.7h-1.7zM56.5 396.2h1.7v1.7h-1.7zM59.5 397.7h1.7v1.7h-1.7zM88.0 397.7h1.7v1.7h-1.7zM89.5 397.7h1.7v1.7h-1.7zM91.0 399.2h1.7v1.7h-1.7zM94.0 399.2h1.7v1.7h-1.7zM161.5 400.7h1.7v1.7h-1.7zM163.0 400.7h1.7v1.7h-1.7zM61.0 402.2h1.7v1.7h-1.7zM62.5 402.2h1.7v1.7h-1.7zM80.5 402.2h1.7v1.7h-1.7zM82.0 402.2h1.7v1.7h-1.7zM98.5 402.2h1.7v1.7h-1.7zM161.5 402.2h1.7v1.7h-1.7zM59.5 403.7h1.7v1.7h-1.7zM61.0 403.7h1.7v1.7h-1.7zM62.5 403.7h1.7v1.7h-1.7zM98.5 403.7h1.7v1.7h-1.7zM61.0 405.2h1.7v1.7h-1.7zM62.5 405.2h1.7v1.7h-1.7zM73.0 405.2h1.7v1.7h-1.7zM97.0 405.2h1.7v1.7h-1.7zM98.5 405.2h1.7v1.7h-1.7zM97.0 406.7h1.7v1.7h-1.7zM67.0 408.2h1.7v1.7h-1.7zM68.5 408.2h1.7v1.7h-1.7zM91.0 408.2h1.7v1.7h-1.7zM52.0 409.7h1.7v1.7h-1.7zM53.5 409.7h1.7v1.7h-1.7zM61.0 409.7h1.7v1.7h-1.7zM62.5 409.7h1.7v1.7h-1.7zM67.0 409.7h1.7v1.7h-1.7zM68.5 409.7h1.7v1.7h-1.7zM70.0 409.7h1.7v1.7h-1.7zM83.5 409.7h1.7v1.7h-1.7zM89.5 409.7h1.7v1.7h-1.7zM91.0 409.7h1.7v1.7h-1.7zM53.5 411.2h1.7v1.7h-1.7zM55.0 411.2h1.7v1.7h-1.7zM62.5 411.2h1.7v1.7h-1.7zM64.0 411.2h1.7v1.7h-1.7zM65.5 411.2h1.7v1.7h-1.7zM67.0 411.2h1.7v1.7h-1.7zM70.0 411.2h1.7v1.7h-1.7zM85.0 411.2h1.7v1.7h-1.7zM88.0 411.2h1.7v1.7h-1.7zM89.5 411.2h1.7v1.7h-1.7zM91.0 411.2h1.7v1.7h-1.7zM53.5 412.7h1.7v1.7h-1.7zM55.0 412.7h1.7v1.7h-1.7zM62.5 412.7h1.7v1.7h-1.7zM67.0 412.7h1.7v1.7h-1.7zM68.5 412.7h1.7v1.7h-1.7zM95.5 412.7h1.7v1.7h-1.7zM140.5 412.7h1.7v1.7h-1.7zM55.0 414.2h1.7v1.7h-1.7zM77.5 414.2h1.7v1.7h-1.7zM137.5 414.2h1.7v1.7h-1.7zM139.0 414.2h1.7v1.7h-1.7zM140.5 414.2h1.7v1.7h-1.7zM142.0 414.2h1.7v1.7h-1.7zM151.0 414.2h1.7v1.7h-1.7zM152.5 414.2h1.7v1.7h-1.7zM164.5 414.2h1.7v1.7h-1.7zM73.0 415.7h1.7v1.7h-1.7zM77.5 415.7h1.7v1.7h-1.7zM136.0 415.7h1.7v1.7h-1.7zM137.5 415.7h1.7v1.7h-1.7zM139.0 415.7h1.7v1.7h-1.7zM140.5 415.7h1.7v1.7h-1.7zM142.0 415.7h1.7v1.7h-1.7zM151.0 415.7h1.7v1.7h-1.7zM152.5 415.7h1.7v1.7h-1.7zM166.0 415.7h1.7v1.7h-1.7zM71.5 417.2h1.7v1.7h-1.7zM73.0 417.2h1.7v1.7h-1.7zM74.5 417.2h1.7v1.7h-1.7zM104.5 417.2h1.7v1.7h-1.7zM140.5 417.2h1.7v1.7h-1.7zM154.0 417.2h1.7v1.7h-1.7zM155.5 417.2h1.7v1.7h-1.7zM157.0 417.2h1.7v1.7h-1.7zM55.0 418.7h1.7v1.7h-1.7zM71.5 418.7h1.7v1.7h-1.7zM73.0 418.7h1.7v1.7h-1.7zM74.5 418.7h1.7v1.7h-1.7zM76.0 418.7h1.7v1.7h-1.7zM106.0 418.7h1.7v1.7h-1.7zM107.5 418.7h1.7v1.7h-1.7zM154.0 418.7h1.7v1.7h-1.7zM155.5 418.7h1.7v1.7h-1.7zM157.0 418.7h1.7v1.7h-1.7zM70.0 420.2h1.7v1.7h-1.7zM71.5 420.2h1.7v1.7h-1.7zM73.0 420.2h1.7v1.7h-1.7zM74.5 420.2h1.7v1.7h-1.7zM76.0 420.2h1.7v1.7h-1.7zM107.5 420.2h1.7v1.7h-1.7zM154.0 420.2h1.7v1.7h-1.7zM155.5 420.2h1.7v1.7h-1.7zM157.0 420.2h1.7v1.7h-1.7zM70.0 421.7h1.7v1.7h-1.7zM71.5 421.7h1.7v1.7h-1.7zM73.0 421.7h1.7v1.7h-1.7zM74.5 421.7h1.7v1.7h-1.7zM79.0 421.7h1.7v1.7h-1.7zM80.5 421.7h1.7v1.7h-1.7zM142.0 421.7h1.7v1.7h-1.7zM143.5 421.7h1.7v1.7h-1.7zM155.5 421.7h1.7v1.7h-1.7zM61.0 423.2h1.7v1.7h-1.7zM68.5 423.2h1.7v1.7h-1.7zM71.5 423.2h1.7v1.7h-1.7zM73.0 423.2h1.7v1.7h-1.7zM74.5 423.2h1.7v1.7h-1.7zM76.0 423.2h1.7v1.7h-1.7zM77.5 423.2h1.7v1.7h-1.7zM79.0 423.2h1.7v1.7h-1.7zM91.0 423.2h1.7v1.7h-1.7zM152.5 423.2h1.7v1.7h-1.7zM71.5 424.7h1.7v1.7h-1.7zM73.0 424.7h1.7v1.7h-1.7zM74.5 424.7h1.7v1.7h-1.7zM76.0 424.7h1.7v1.7h-1.7zM77.5 424.7h1.7v1.7h-1.7zM91.0 424.7h1.7v1.7h-1.7zM110.5 424.7h1.7v1.7h-1.7zM152.5 424.7h1.7v1.7h-1.7zM154.0 424.7h1.7v1.7h-1.7zM64.0 426.2h1.7v1.7h-1.7zM74.5 426.2h1.7v1.7h-1.7zM76.0 426.2h1.7v1.7h-1.7zM86.5 426.2h1.7v1.7h-1.7zM88.0 426.2h1.7v1.7h-1.7zM89.5 426.2h1.7v1.7h-1.7zM91.0 426.2h1.7v1.7h-1.7zM92.5 426.2h1.7v1.7h-1.7zM94.0 426.2h1.7v1.7h-1.7zM110.5 426.2h1.7v1.7h-1.7zM112.0 426.2h1.7v1.7h-1.7zM113.5 426.2h1.7v1.7h-1.7zM152.5 426.2h1.7v1.7h-1.7zM154.0 426.2h1.7v1.7h-1.7zM64.0 427.7h1.7v1.7h-1.7zM65.5 427.7h1.7v1.7h-1.7zM88.0 427.7h1.7v1.7h-1.7zM89.5 427.7h1.7v1.7h-1.7zM91.0 427.7h1.7v1.7h-1.7zM92.5 427.7h1.7v1.7h-1.7zM94.0 427.7h1.7v1.7h-1.7zM95.5 427.7h1.7v1.7h-1.7zM97.0 427.7h1.7v1.7h-1.7zM98.5 427.7h1.7v1.7h-1.7zM100.0 427.7h1.7v1.7h-1.7zM110.5 427.7h1.7v1.7h-1.7zM112.0 427.7h1.7v1.7h-1.7zM113.5 427.7h1.7v1.7h-1.7zM127.0 427.7h1.7v1.7h-1.7zM128.5 427.7h1.7v1.7h-1.7zM73.0 429.2h1.7v1.7h-1.7zM74.5 429.2h1.7v1.7h-1.7zM76.0 429.2h1.7v1.7h-1.7zM80.5 429.2h1.7v1.7h-1.7zM82.0 429.2h1.7v1.7h-1.7zM83.5 429.2h1.7v1.7h-1.7zM85.0 429.2h1.7v1.7h-1.7zM88.0 429.2h1.7v1.7h-1.7zM89.5 429.2h1.7v1.7h-1.7zM91.0 429.2h1.7v1.7h-1.7zM92.5 429.2h1.7v1.7h-1.7zM94.0 429.2h1.7v1.7h-1.7zM97.0 429.2h1.7v1.7h-1.7zM98.5 429.2h1.7v1.7h-1.7zM100.0 429.2h1.7v1.7h-1.7zM101.5 429.2h1.7v1.7h-1.7zM110.5 429.2h1.7v1.7h-1.7zM112.0 429.2h1.7v1.7h-1.7zM127.0 429.2h1.7v1.7h-1.7zM128.5 429.2h1.7v1.7h-1.7zM130.0 429.2h1.7v1.7h-1.7zM136.0 429.2h1.7v1.7h-1.7zM158.5 429.2h1.7v1.7h-1.7zM161.5 429.2h1.7v1.7h-1.7zM73.0 430.7h1.7v1.7h-1.7zM74.5 430.7h1.7v1.7h-1.7zM76.0 430.7h1.7v1.7h-1.7zM80.5 430.7h1.7v1.7h-1.7zM86.5 430.7h1.7v1.7h-1.7zM88.0 430.7h1.7v1.7h-1.7zM89.5 430.7h1.7v1.7h-1.7zM91.0 430.7h1.7v1.7h-1.7zM92.5 430.7h1.7v1.7h-1.7zM94.0 430.7h1.7v1.7h-1.7zM98.5 430.7h1.7v1.7h-1.7zM100.0 430.7h1.7v1.7h-1.7zM101.5 430.7h1.7v1.7h-1.7zM103.0 430.7h1.7v1.7h-1.7zM109.0 430.7h1.7v1.7h-1.7zM110.5 430.7h1.7v1.7h-1.7zM112.0 430.7h1.7v1.7h-1.7zM128.5 430.7h1.7v1.7h-1.7zM134.5 430.7h1.7v1.7h-1.7zM136.0 430.7h1.7v1.7h-1.7zM137.5 430.7h1.7v1.7h-1.7zM73.0 432.2h1.7v1.7h-1.7zM74.5 432.2h1.7v1.7h-1.7zM76.0 432.2h1.7v1.7h-1.7zM77.5 432.2h1.7v1.7h-1.7zM89.5 432.2h1.7v1.7h-1.7zM91.0 432.2h1.7v1.7h-1.7zM92.5 432.2h1.7v1.7h-1.7zM98.5 432.2h1.7v1.7h-1.7zM100.0 432.2h1.7v1.7h-1.7zM101.5 432.2h1.7v1.7h-1.7zM103.0 432.2h1.7v1.7h-1.7zM109.0 432.2h1.7v1.7h-1.7zM110.5 432.2h1.7v1.7h-1.7zM112.0 432.2h1.7v1.7h-1.7zM128.5 432.2h1.7v1.7h-1.7zM134.5 432.2h1.7v1.7h-1.7zM136.0 432.2h1.7v1.7h-1.7zM137.5 432.2h1.7v1.7h-1.7zM143.5 432.2h1.7v1.7h-1.7zM145.0 432.2h1.7v1.7h-1.7zM146.5 432.2h1.7v1.7h-1.7zM148.0 432.2h1.7v1.7h-1.7zM160.0 432.2h1.7v1.7h-1.7zM161.5 432.2h1.7v1.7h-1.7zM73.0 433.7h1.7v1.7h-1.7zM74.5 433.7h1.7v1.7h-1.7zM77.5 433.7h1.7v1.7h-1.7zM79.0 433.7h1.7v1.7h-1.7zM98.5 433.7h1.7v1.7h-1.7zM107.5 433.7h1.7v1.7h-1.7zM109.0 433.7h1.7v1.7h-1.7zM127.0 433.7h1.7v1.7h-1.7zM128.5 433.7h1.7v1.7h-1.7zM130.0 433.7h1.7v1.7h-1.7zM136.0 433.7h1.7v1.7h-1.7zM137.5 433.7h1.7v1.7h-1.7zM139.0 433.7h1.7v1.7h-1.7zM140.5 433.7h1.7v1.7h-1.7zM143.5 433.7h1.7v1.7h-1.7zM145.0 433.7h1.7v1.7h-1.7zM146.5 433.7h1.7v1.7h-1.7zM148.0 433.7h1.7v1.7h-1.7zM160.0 433.7h1.7v1.7h-1.7zM79.0 435.2h1.7v1.7h-1.7zM80.5 435.2h1.7v1.7h-1.7zM98.5 435.2h1.7v1.7h-1.7zM115.0 435.2h1.7v1.7h-1.7zM116.5 435.2h1.7v1.7h-1.7zM118.0 435.2h1.7v1.7h-1.7zM127.0 435.2h1.7v1.7h-1.7zM128.5 435.2h1.7v1.7h-1.7zM130.0 435.2h1.7v1.7h-1.7zM131.5 435.2h1.7v1.7h-1.7zM139.0 435.2h1.7v1.7h-1.7zM140.5 435.2h1.7v1.7h-1.7zM142.0 435.2h1.7v1.7h-1.7zM158.5 435.2h1.7v1.7h-1.7zM80.5 436.7h1.7v1.7h-1.7zM82.0 436.7h1.7v1.7h-1.7zM83.5 436.7h1.7v1.7h-1.7zM115.0 436.7h1.7v1.7h-1.7zM116.5 436.7h1.7v1.7h-1.7zM127.0 436.7h1.7v1.7h-1.7zM128.5 436.7h1.7v1.7h-1.7zM130.0 436.7h1.7v1.7h-1.7zM131.5 436.7h1.7v1.7h-1.7zM133.0 436.7h1.7v1.7h-1.7zM140.5 436.7h1.7v1.7h-1.7zM148.0 436.7h1.7v1.7h-1.7zM82.0 438.2h1.7v1.7h-1.7zM83.5 438.2h1.7v1.7h-1.7zM113.5 438.2h1.7v1.7h-1.7zM115.0 438.2h1.7v1.7h-1.7zM116.5 438.2h1.7v1.7h-1.7zM124.0 438.2h1.7v1.7h-1.7zM125.5 438.2h1.7v1.7h-1.7zM127.0 438.2h1.7v1.7h-1.7zM128.5 438.2h1.7v1.7h-1.7zM130.0 438.2h1.7v1.7h-1.7zM131.5 438.2h1.7v1.7h-1.7zM133.0 438.2h1.7v1.7h-1.7zM134.5 438.2h1.7v1.7h-1.7zM136.0 438.2h1.7v1.7h-1.7zM107.5 439.7h1.7v1.7h-1.7zM109.0 439.7h1.7v1.7h-1.7zM112.0 439.7h1.7v1.7h-1.7zM113.5 439.7h1.7v1.7h-1.7zM115.0 439.7h1.7v1.7h-1.7zM124.0 439.7h1.7v1.7h-1.7zM125.5 439.7h1.7v1.7h-1.7zM133.0 439.7h1.7v1.7h-1.7zM134.5 439.7h1.7v1.7h-1.7zM142.0 439.7h1.7v1.7h-1.7zM104.5 441.2h1.7v1.7h-1.7zM106.0 441.2h1.7v1.7h-1.7zM107.5 441.2h1.7v1.7h-1.7zM109.0 441.2h1.7v1.7h-1.7zM110.5 441.2h1.7v1.7h-1.7zM112.0 441.2h1.7v1.7h-1.7zM113.5 441.2h1.7v1.7h-1.7zM115.0 441.2h1.7v1.7h-1.7zM124.0 441.2h1.7v1.7h-1.7zM125.5 441.2h1.7v1.7h-1.7zM134.5 441.2h1.7v1.7h-1.7zM142.0 441.2h1.7v1.7h-1.7zM143.5 441.2h1.7v1.7h-1.7zM100.0 442.7h1.7v1.7h-1.7zM101.5 442.7h1.7v1.7h-1.7zM103.0 442.7h1.7v1.7h-1.7zM106.0 442.7h1.7v1.7h-1.7zM107.5 442.7h1.7v1.7h-1.7zM109.0 442.7h1.7v1.7h-1.7zM124.0 442.7h1.7v1.7h-1.7zM98.5 444.2h1.7v1.7h-1.7zM100.0 444.2h1.7v1.7h-1.7zM101.5 444.2h1.7v1.7h-1.7zM109.0 444.2h1.7v1.7h-1.7zM119.5 445.7h1.7v1.7h-1.7z"/>
<path fill="#47abd3" d="M121.0 277.7h1.7v1.7h-1.7zM136.0 277.7h1.7v1.7h-1.7zM113.5 282.2h1.7v1.7h-1.7zM116.5 286.7h1.7v1.7h-1.7zM130.0 286.7h1.7v1.7h-1.7zM131.5 286.7h1.7v1.7h-1.7zM116.5 288.2h1.7v1.7h-1.7zM130.0 288.2h1.7v1.7h-1.7zM131.5 288.2h1.7v1.7h-1.7zM133.0 288.2h1.7v1.7h-1.7zM110.5 301.7h1.7v1.7h-1.7zM110.5 303.2h1.7v1.7h-1.7zM110.5 315.2h1.7v1.7h-1.7zM106.0 316.7h1.7v1.7h-1.7zM104.5 318.2h1.7v1.7h-1.7zM106.0 318.2h1.7v1.7h-1.7zM118.0 318.2h1.7v1.7h-1.7zM104.5 319.7h1.7v1.7h-1.7zM106.0 319.7h1.7v1.7h-1.7zM104.5 321.2h1.7v1.7h-1.7zM106.0 321.2h1.7v1.7h-1.7zM104.5 322.7h1.7v1.7h-1.7zM106.0 322.7h1.7v1.7h-1.7zM104.5 324.2h1.7v1.7h-1.7zM122.5 345.2h1.7v1.7h-1.7zM125.5 346.7h1.7v1.7h-1.7zM127.0 346.7h1.7v1.7h-1.7zM128.5 346.7h1.7v1.7h-1.7zM125.5 354.2h1.7v1.7h-1.7zM127.0 354.2h1.7v1.7h-1.7zM119.5 355.7h1.7v1.7h-1.7zM119.5 357.2h1.7v1.7h-1.7zM121.0 357.2h1.7v1.7h-1.7zM107.5 360.2h1.7v1.7h-1.7zM109.0 360.2h1.7v1.7h-1.7zM110.5 360.2h1.7v1.7h-1.7zM125.5 360.2h1.7v1.7h-1.7zM127.0 360.2h1.7v1.7h-1.7zM133.0 360.2h1.7v1.7h-1.7zM125.5 361.7h1.7v1.7h-1.7zM128.5 361.7h1.7v1.7h-1.7zM130.0 361.7h1.7v1.7h-1.7zM131.5 361.7h1.7v1.7h-1.7zM124.0 363.2h1.7v1.7h-1.7zM125.5 363.2h1.7v1.7h-1.7zM127.0 363.2h1.7v1.7h-1.7zM124.0 364.7h1.7v1.7h-1.7zM125.5 364.7h1.7v1.7h-1.7zM127.0 364.7h1.7v1.7h-1.7zM124.0 366.2h1.7v1.7h-1.7zM125.5 366.2h1.7v1.7h-1.7zM127.0 366.2h1.7v1.7h-1.7zM122.5 369.2h1.7v1.7h-1.7zM125.5 369.2h1.7v1.7h-1.7zM127.0 369.2h1.7v1.7h-1.7zM118.0 370.7h1.7v1.7h-1.7zM122.5 370.7h1.7v1.7h-1.7zM124.0 370.7h1.7v1.7h-1.7zM125.5 370.7h1.7v1.7h-1.7zM118.0 372.2h1.7v1.7h-1.7zM122.5 372.2h1.7v1.7h-1.7zM124.0 372.2h1.7v1.7h-1.7zM107.5 376.7h1.7v1.7h-1.7zM133.0 378.2h1.7v1.7h-1.7zM134.5 378.2h1.7v1.7h-1.7zM136.0 378.2h1.7v1.7h-1.7zM137.5 378.2h1.7v1.7h-1.7zM133.0 379.7h1.7v1.7h-1.7zM127.0 385.7h1.7v1.7h-1.7zM119.5 387.2h1.7v1.7h-1.7zM118.0 388.7h1.7v1.7h-1.7zM119.5 388.7h1.7v1.7h-1.7zM121.0 388.7h1.7v1.7h-1.7zM122.5 388.7h1.7v1.7h-1.7zM113.5 390.2h1.7v1.7h-1.7zM115.0 390.2h1.7v1.7h-1.7zM116.5 390.2h1.7v1.7h-1.7zM121.0 390.2h1.7v1.7h-1.7zM122.5 390.2h1.7v1.7h-1.7zM113.5 391.7h1.7v1.7h-1.7zM115.0 391.7h1.7v1.7h-1.7zM112.0 393.2h1.7v1.7h-1.7zM131.5 393.2h1.7v1.7h-1.7zM133.0 393.2h1.7v1.7h-1.7zM143.5 393.2h1.7v1.7h-1.7zM113.5 394.7h1.7v1.7h-1.7zM131.5 394.7h1.7v1.7h-1.7zM133.0 394.7h1.7v1.7h-1.7zM113.5 396.2h1.7v1.7h-1.7zM119.5 396.2h1.7v1.7h-1.7zM121.0 396.2h1.7v1.7h-1.7zM131.5 396.2h1.7v1.7h-1.7zM133.0 396.2h1.7v1.7h-1.7zM118.0 397.7h1.7v1.7h-1.7zM122.5 397.7h1.7v1.7h-1.7zM131.5 397.7h1.7v1.7h-1.7zM133.0 397.7h1.7v1.7h-1.7zM131.5 399.2h1.7v1.7h-1.7zM134.5 400.7h1.7v1.7h-1.7zM119.5 405.2h1.7v1.7h-1.7zM121.0 405.2h1.7v1.7h-1.7zM122.5 405.2h1.7v1.7h-1.7z"/>
<path fill="#ca4dc2" d="M148.0 279.2h1.7v1.7h-1.7zM148.0 280.7h1.7v1.7h-1.7zM157.0 285.2h1.7v1.7h-1.7zM158.5 285.2h1.7v1.7h-1.7zM146.5 291.2h1.7v1.7h-1.7zM148.0 291.2h1.7v1.7h-1.7zM157.0 297.2h1.7v1.7h-1.7zM157.0 298.7h1.7v1.7h-1.7zM154.0 300.2h1.7v1.7h-1.7zM157.0 300.2h1.7v1.7h-1.7zM154.0 301.7h1.7v1.7h-1.7zM157.0 301.7h1.7v1.7h-1.7zM151.0 310.7h1.7v1.7h-1.7zM149.5 312.2h1.7v1.7h-1.7zM152.5 312.2h1.7v1.7h-1.7zM163.0 312.2h1.7v1.7h-1.7zM164.5 312.2h1.7v1.7h-1.7zM166.0 312.2h1.7v1.7h-1.7zM167.5 312.2h1.7v1.7h-1.7zM169.0 312.2h1.7v1.7h-1.7zM170.5 312.2h1.7v1.7h-1.7zM161.5 313.7h1.7v1.7h-1.7zM163.0 313.7h1.7v1.7h-1.7zM164.5 313.7h1.7v1.7h-1.7zM166.0 313.7h1.7v1.7h-1.7zM169.0 313.7h1.7v1.7h-1.7zM170.5 313.7h1.7v1.7h-1.7zM154.0 315.2h1.7v1.7h-1.7zM155.5 315.2h1.7v1.7h-1.7zM157.0 315.2h1.7v1.7h-1.7zM158.5 315.2h1.7v1.7h-1.7zM161.5 315.2h1.7v1.7h-1.7zM163.0 315.2h1.7v1.7h-1.7zM152.5 316.7h1.7v1.7h-1.7zM154.0 316.7h1.7v1.7h-1.7zM155.5 316.7h1.7v1.7h-1.7zM158.5 316.7h1.7v1.7h-1.7zM160.0 316.7h1.7v1.7h-1.7zM173.5 316.7h1.7v1.7h-1.7zM158.5 318.2h1.7v1.7h-1.7zM158.5 324.2h1.7v1.7h-1.7zM163.0 324.2h1.7v1.7h-1.7zM158.5 325.7h1.7v1.7h-1.7zM158.5 327.2h1.7v1.7h-1.7zM157.0 331.7h1.7v1.7h-1.7zM151.0 333.2h1.7v1.7h-1.7zM152.5 333.2h1.7v1.7h-1.7zM154.0 333.2h1.7v1.7h-1.7zM155.5 333.2h1.7v1.7h-1.7zM157.0 333.2h1.7v1.7h-1.7zM158.5 333.2h1.7v1.7h-1.7zM151.0 334.7h1.7v1.7h-1.7zM152.5 334.7h1.7v1.7h-1.7zM154.0 334.7h1.7v1.7h-1.7zM151.0 336.2h1.7v1.7h-1.7zM152.5 336.2h1.7v1.7h-1.7zM154.0 336.2h1.7v1.7h-1.7zM152.5 337.7h1.7v1.7h-1.7zM154.0 337.7h1.7v1.7h-1.7zM158.5 339.2h1.7v1.7h-1.7zM160.0 339.2h1.7v1.7h-1.7zM161.5 339.2h1.7v1.7h-1.7zM163.0 339.2h1.7v1.7h-1.7zM164.5 339.2h1.7v1.7h-1.7zM166.0 339.2h1.7v1.7h-1.7zM167.5 339.2h1.7v1.7h-1.7zM175.0 339.2h1.7v1.7h-1.7zM157.0 340.7h1.7v1.7h-1.7zM158.5 340.7h1.7v1.7h-1.7zM160.0 340.7h1.7v1.7h-1.7zM161.5 340.7h1.7v1.7h-1.7zM163.0 340.7h1.7v1.7h-1.7zM164.5 340.7h1.7v1.7h-1.7zM166.0 340.7h1.7v1.7h-1.7zM167.5 340.7h1.7v1.7h-1.7zM157.0 342.2h1.7v1.7h-1.7zM158.5 342.2h1.7v1.7h-1.7zM160.0 342.2h1.7v1.7h-1.7zM161.5 342.2h1.7v1.7h-1.7zM163.0 342.2h1.7v1.7h-1.7zM164.5 342.2h1.7v1.7h-1.7zM157.0 343.7h1.7v1.7h-1.7zM158.5 343.7h1.7v1.7h-1.7zM160.0 343.7h1.7v1.7h-1.7zM170.5 343.7h1.7v1.7h-1.7zM157.0 345.2h1.7v1.7h-1.7zM158.5 345.2h1.7v1.7h-1.7zM170.5 345.2h1.7v1.7h-1.7zM157.0 346.7h1.7v1.7h-1.7zM158.5 346.7h1.7v1.7h-1.7zM163.0 346.7h1.7v1.7h-1.7zM169.0 346.7h1.7v1.7h-1.7zM170.5 346.7h1.7v1.7h-1.7zM172.0 346.7h1.7v1.7h-1.7zM176.5 346.7h1.7v1.7h-1.7zM167.5 348.2h1.7v1.7h-1.7zM157.0 349.7h1.7v1.7h-1.7zM161.5 349.7h1.7v1.7h-1.7zM166.0 349.7h1.7v1.7h-1.7zM155.5 351.2h1.7v1.7h-1.7zM164.5 351.2h1.7v1.7h-1.7zM142.0 352.7h1.7v1.7h-1.7zM146.5 352.7h1.7v1.7h-1.7zM157.0 352.7h1.7v1.7h-1.7zM142.0 354.2h1.7v1.7h-1.7zM164.5 354.2h1.7v1.7h-1.7zM164.5 355.7h1.7v1.7h-1.7zM158.5 357.2h1.7v1.7h-1.7zM164.5 357.2h1.7v1.7h-1.7zM166.0 357.2h1.7v1.7h-1.7zM167.5 357.2h1.7v1.7h-1.7zM158.5 358.7h1.7v1.7h-1.7zM157.0 360.2h1.7v1.7h-1.7zM163.0 363.2h1.7v1.7h-1.7zM164.5 363.2h1.7v1.7h-1.7zM164.5 364.7h1.7v1.7h-1.7zM166.0 364.7h1.7v1.7h-1.7zM167.5 364.7h1.7v1.7h-1.7zM169.0 364.7h1.7v1.7h-1.7zM170.5 364.7h1.7v1.7h-1.7zM172.0 364.7h1.7v1.7h-1.7zM167.5 366.2h1.7v1.7h-1.7zM172.0 366.2h1.7v1.7h-1.7zM160.0 367.7h1.7v1.7h-1.7zM170.5 367.7h1.7v1.7h-1.7zM152.5 369.2h1.7v1.7h-1.7zM154.0 369.2h1.7v1.7h-1.7zM160.0 369.2h1.7v1.7h-1.7zM155.5 370.7h1.7v1.7h-1.7zM161.5 370.7h1.7v1.7h-1.7zM175.0 370.7h1.7v1.7h-1.7zM176.5 370.7h1.7v1.7h-1.7zM149.5 372.2h1.7v1.7h-1.7zM161.5 372.2h1.7v1.7h-1.7zM163.0 372.2h1.7v1.7h-1.7zM164.5 372.2h1.7v1.7h-1.7zM175.0 372.2h1.7v1.7h-1.7zM157.0 373.7h1.7v1.7h-1.7zM163.0 373.7h1.7v1.7h-1.7zM164.5 373.7h1.7v1.7h-1.7zM173.5 373.7h1.7v1.7h-1.7zM160.0 375.2h1.7v1.7h-1.7zM173.5 375.2h1.7v1.7h-1.7zM175.0 375.2h1.7v1.7h-1.7zM173.5 376.7h1.7v1.7h-1.7zM175.0 376.7h1.7v1.7h-1.7zM170.5 378.2h1.7v1.7h-1.7zM172.0 378.2h1.7v1.7h-1.7zM170.5 379.7h1.7v1.7h-1.7zM170.5 381.2h1.7v1.7h-1.7zM170.5 382.7h1.7v1.7h-1.7zM172.0 382.7h1.7v1.7h-1.7zM178.0 382.7h1.7v1.7h-1.7zM172.0 384.2h1.7v1.7h-1.7zM176.5 384.2h1.7v1.7h-1.7zM178.0 384.2h1.7v1.7h-1.7zM169.0 393.2h1.7v1.7h-1.7zM179.5 399.2h1.7v1.7h-1.7zM157.0 400.7h1.7v1.7h-1.7zM167.5 415.7h1.7v1.7h-1.7z"/>
<path fill="#b7ad5b" d="M115.0 282.2h1.7v1.7h-1.7zM101.5 292.7h1.7v1.7h-1.7zM148.0 292.7h1.7v1.7h-1.7zM151.0 301.7h1.7v1.7h-1.7zM151.0 303.2h1.7v1.7h-1.7zM79.0 304.7h1.7v1.7h-1.7zM149.5 304.7h1.7v1.7h-1.7zM131.5 307.7h1.7v1.7h-1.7zM137.5 310.7h1.7v1.7h-1.7zM139.0 310.7h1.7v1.7h-1.7zM140.5 310.7h1.7v1.7h-1.7zM142.0 310.7h1.7v1.7h-1.7zM142.0 312.2h1.7v1.7h-1.7zM142.0 313.7h1.7v1.7h-1.7zM155.5 313.7h1.7v1.7h-1.7zM137.5 315.2h1.7v1.7h-1.7zM140.5 315.2h1.7v1.7h-1.7zM142.0 315.2h1.7v1.7h-1.7zM139.0 316.7h1.7v1.7h-1.7zM140.5 316.7h1.7v1.7h-1.7zM142.0 316.7h1.7v1.7h-1.7zM140.5 321.2h1.7v1.7h-1.7zM140.5 322.7h1.7v1.7h-1.7zM133.0 324.2h1.7v1.7h-1.7zM136.0 325.7h1.7v1.7h-1.7zM137.5 325.7h1.7v1.7h-1.7zM139.0 325.7h1.7v1.7h-1.7zM157.0 325.7h1.7v1.7h-1.7zM137.5 327.2h1.7v1.7h-1.7zM139.0 327.2h1.7v1.7h-1.7zM157.0 327.2h1.7v1.7h-1.7zM52.0 328.7h1.7v1.7h-1.7zM52.0 330.2h1.7v1.7h-1.7zM91.0 330.2h1.7v1.7h-1.7zM112.0 336.2h1.7v1.7h-1.7zM143.5 336.2h1.7v1.7h-1.7zM145.0 336.2h1.7v1.7h-1.7zM59.5 337.7h1.7v1.7h-1.7zM145.0 337.7h1.7v1.7h-1.7zM151.0 337.7h1.7v1.7h-1.7zM109.0 339.2h1.7v1.7h-1.7zM140.5 340.7h1.7v1.7h-1.7zM64.0 343.7h1.7v1.7h-1.7zM47.5 346.7h1.7v1.7h-1.7zM95.5 346.7h1.7v1.7h-1.7zM97.0 346.7h1.7v1.7h-1.7zM46.0 348.2h1.7v1.7h-1.7zM47.5 348.2h1.7v1.7h-1.7zM137.5 351.2h1.7v1.7h-1.7zM140.5 352.7h1.7v1.7h-1.7zM148.0 352.7h1.7v1.7h-1.7zM154.0 352.7h1.7v1.7h-1.7zM155.5 352.7h1.7v1.7h-1.7zM140.5 354.2h1.7v1.7h-1.7zM146.5 354.2h1.7v1.7h-1.7zM155.5 354.2h1.7v1.7h-1.7zM157.0 354.2h1.7v1.7h-1.7zM140.5 355.7h1.7v1.7h-1.7zM142.0 355.7h1.7v1.7h-1.7zM143.5 355.7h1.7v1.7h-1.7zM145.0 355.7h1.7v1.7h-1.7zM155.5 355.7h1.7v1.7h-1.7zM157.0 355.7h1.7v1.7h-1.7zM44.5 357.2h1.7v1.7h-1.7zM86.5 357.2h1.7v1.7h-1.7zM91.0 357.2h1.7v1.7h-1.7zM92.5 357.2h1.7v1.7h-1.7zM94.0 357.2h1.7v1.7h-1.7zM79.0 358.7h1.7v1.7h-1.7zM80.5 358.7h1.7v1.7h-1.7zM91.0 358.7h1.7v1.7h-1.7zM92.5 358.7h1.7v1.7h-1.7zM163.0 358.7h1.7v1.7h-1.7zM131.5 360.2h1.7v1.7h-1.7zM158.5 360.2h1.7v1.7h-1.7zM160.0 360.2h1.7v1.7h-1.7zM161.5 360.2h1.7v1.7h-1.7zM163.0 360.2h1.7v1.7h-1.7zM160.0 361.7h1.7v1.7h-1.7zM161.5 361.7h1.7v1.7h-1.7zM163.0 361.7h1.7v1.7h-1.7zM164.5 361.7h1.7v1.7h-1.7zM161.5 363.2h1.7v1.7h-1.7zM65.5 366.2h1.7v1.7h-1.7zM77.5 367.7h1.7v1.7h-1.7zM77.5 369.2h1.7v1.7h-1.7zM79.0 369.2h1.7v1.7h-1.7zM106.0 369.2h1.7v1.7h-1.7zM148.0 369.2h1.7v1.7h-1.7zM79.0 370.7h1.7v1.7h-1.7zM88.0 370.7h1.7v1.7h-1.7zM146.5 370.7h1.7v1.7h-1.7zM79.0 372.2h1.7v1.7h-1.7zM80.5 372.2h1.7v1.7h-1.7zM137.5 372.2h1.7v1.7h-1.7zM80.5 373.7h1.7v1.7h-1.7zM82.0 373.7h1.7v1.7h-1.7zM139.0 373.7h1.7v1.7h-1.7zM140.5 373.7h1.7v1.7h-1.7zM142.0 373.7h1.7v1.7h-1.7zM85.0 375.2h1.7v1.7h-1.7zM137.5 375.2h1.7v1.7h-1.7zM139.0 375.2h1.7v1.7h-1.7zM140.5 375.2h1.7v1.7h-1.7zM142.0 375.2h1.7v1.7h-1.7zM169.0 375.2h1.7v1.7h-1.7zM142.0 376.7h1.7v1.7h-1.7zM152.5 376.7h1.7v1.7h-1.7zM160.0 376.7h1.7v1.7h-1.7zM169.0 376.7h1.7v1.7h-1.7zM154.0 378.2h1.7v1.7h-1.7zM161.5 378.2h1.7v1.7h-1.7zM155.5 379.7h1.7v1.7h-1.7zM158.5 379.7h1.7v1.7h-1.7zM161.5 379.7h1.7v1.7h-1.7zM167.5 379.7h1.7v1.7h-1.7zM160.0 381.2h1.7v1.7h-1.7zM161.5 381.2h1.7v1.7h-1.7zM161.5 382.7h1.7v1.7h-1.7zM163.0 384.2h1.7v1.7h-1.7zM166.0 385.7h1.7v1.7h-1.7zM167.5 385.7h1.7v1.7h-1.7zM169.0 385.7h1.7v1.7h-1.7zM164.5 387.2h1.7v1.7h-1.7zM166.0 387.2h1.7v1.7h-1.7zM167.5 387.2h1.7v1.7h-1.7zM169.0 387.2h1.7v1.7h-1.7zM164.5 388.7h1.7v1.7h-1.7zM166.0 388.7h1.7v1.7h-1.7zM167.5 388.7h1.7v1.7h-1.7zM169.0 388.7h1.7v1.7h-1.7zM164.5 390.2h1.7v1.7h-1.7zM160.0 391.7h1.7v1.7h-1.7zM158.5 393.2h1.7v1.7h-1.7zM58.0 394.7h1.7v1.7h-1.7zM158.5 394.7h1.7v1.7h-1.7zM58.0 396.2h1.7v1.7h-1.7zM59.5 396.2h1.7v1.7h-1.7zM145.0 397.7h1.7v1.7h-1.7zM158.5 399.2h1.7v1.7h-1.7zM160.0 399.2h1.7v1.7h-1.7zM167.5 399.2h1.7v1.7h-1.7zM169.0 399.2h1.7v1.7h-1.7zM158.5 400.7h1.7v1.7h-1.7zM160.0 400.7h1.7v1.7h-1.7zM169.0 400.7h1.7v1.7h-1.7zM170.5 402.2h1.7v1.7h-1.7zM178.0 402.2h1.7v1.7h-1.7zM179.5 402.2h1.7v1.7h-1.7zM73.0 403.7h1.7v1.7h-1.7zM100.0 403.7h1.7v1.7h-1.7zM163.0 403.7h1.7v1.7h-1.7zM170.5 403.7h1.7v1.7h-1.7zM50.5 412.7h1.7v1.7h-1.7zM52.0 412.7h1.7v1.7h-1.7zM73.0 412.7h1.7v1.7h-1.7zM77.5 412.7h1.7v1.7h-1.7zM79.0 412.7h1.7v1.7h-1.7zM68.5 414.2h1.7v1.7h-1.7zM56.5 415.7h1.7v1.7h-1.7zM64.0 415.7h1.7v1.7h-1.7zM65.5 415.7h1.7v1.7h-1.7zM70.0 415.7h1.7v1.7h-1.7zM94.0 415.7h1.7v1.7h-1.7zM95.5 415.7h1.7v1.7h-1.7zM56.5 417.2h1.7v1.7h-1.7zM61.0 417.2h1.7v1.7h-1.7zM62.5 417.2h1.7v1.7h-1.7zM70.0 417.2h1.7v1.7h-1.7zM61.0 418.7h1.7v1.7h-1.7zM67.0 418.7h1.7v1.7h-1.7zM68.5 418.7h1.7v1.7h-1.7zM67.0 421.7h1.7v1.7h-1.7zM64.0 423.2h1.7v1.7h-1.7zM68.5 424.7h1.7v1.7h-1.7zM65.5 426.2h1.7v1.7h-1.7zM70.0 426.2h1.7v1.7h-1.7zM76.0 427.7h1.7v1.7h-1.7zM70.0 432.2h1.7v1.7h-1.7z"/>
<path fill="#a7d04f" d="M151.0 283.7h1.7v1.7h-1.7zM70.0 286.7h1.7v1.7h-1.7zM71.5 286.7h1.7v1.7h-1.7zM95.5 292.7h1.7v1.7h-1.7zM145.0 292.7h1.7v1.7h-1.7zM152.5 294.2h1.7v1.7h-1.7zM154.0 295.7h1.7v1.7h-1.7zM79.0 297.2h1.7v1.7h-1.7zM94.0 297.2h1.7v1.7h-1.7zM139.0 297.2h1.7v1.7h-1.7zM94.0 298.7h1.7v1.7h-1.7zM139.0 298.7h1.7v1.7h-1.7zM151.0 298.7h1.7v1.7h-1.7zM152.5 298.7h1.7v1.7h-1.7zM154.0 298.7h1.7v1.7h-1.7zM155.5 298.7h1.7v1.7h-1.7zM94.0 300.2h1.7v1.7h-1.7zM151.0 300.2h1.7v1.7h-1.7zM152.5 300.2h1.7v1.7h-1.7zM155.5 300.2h1.7v1.7h-1.7zM146.5 301.7h1.7v1.7h-1.7zM152.5 301.7h1.7v1.7h-1.7zM155.5 301.7h1.7v1.7h-1.7zM152.5 303.2h1.7v1.7h-1.7zM154.0 303.2h1.7v1.7h-1.7zM155.5 303.2h1.7v1.7h-1.7zM80.5 304.7h1.7v1.7h-1.7zM85.0 304.7h1.7v1.7h-1.7zM145.0 304.7h1.7v1.7h-1.7zM151.0 304.7h1.7v1.7h-1.7zM152.5 304.7h1.7v1.7h-1.7zM154.0 304.7h1.7v1.7h-1.7zM83.5 306.2h1.7v1.7h-1.7zM145.0 306.2h1.7v1.7h-1.7zM151.0 306.2h1.7v1.7h-1.7zM152.5 306.2h1.7v1.7h-1.7zM154.0 306.2h1.7v1.7h-1.7zM145.0 307.7h1.7v1.7h-1.7zM152.5 307.7h1.7v1.7h-1.7zM155.5 307.7h1.7v1.7h-1.7zM157.0 307.7h1.7v1.7h-1.7zM158.5 307.7h1.7v1.7h-1.7zM145.0 309.2h1.7v1.7h-1.7zM146.5 309.2h1.7v1.7h-1.7zM148.0 309.2h1.7v1.7h-1.7zM145.0 310.7h1.7v1.7h-1.7zM146.5 310.7h1.7v1.7h-1.7zM158.5 312.2h1.7v1.7h-1.7zM136.0 315.2h1.7v1.7h-1.7zM146.5 315.2h1.7v1.7h-1.7zM137.5 316.7h1.7v1.7h-1.7zM136.0 321.2h1.7v1.7h-1.7zM137.5 321.2h1.7v1.7h-1.7zM139.0 321.2h1.7v1.7h-1.7zM152.5 321.2h1.7v1.7h-1.7zM131.5 322.7h1.7v1.7h-1.7zM133.0 322.7h1.7v1.7h-1.7zM134.5 322.7h1.7v1.7h-1.7zM136.0 322.7h1.7v1.7h-1.7zM137.5 322.7h1.7v1.7h-1.7zM139.0 322.7h1.7v1.7h-1.7zM136.0 324.2h1.7v1.7h-1.7zM137.5 324.2h1.7v1.7h-1.7zM149.5 325.7h1.7v1.7h-1.7zM151.0 327.2h1.7v1.7h-1.7zM152.5 327.2h1.7v1.7h-1.7zM137.5 328.7h1.7v1.7h-1.7zM139.0 328.7h1.7v1.7h-1.7zM143.5 328.7h1.7v1.7h-1.7zM145.0 328.7h1.7v1.7h-1.7zM149.5 328.7h1.7v1.7h-1.7zM151.0 328.7h1.7v1.7h-1.7zM152.5 328.7h1.7v1.7h-1.7zM154.0 328.7h1.7v1.7h-1.7zM155.5 328.7h1.7v1.7h-1.7zM137.5 330.2h1.7v1.7h-1.7zM139.0 330.2h1.7v1.7h-1.7zM143.5 330.2h1.7v1.7h-1.7zM145.0 330.2h1.7v1.7h-1.7zM146.5 330.2h1.7v1.7h-1.7zM148.0 330.2h1.7v1.7h-1.7zM149.5 330.2h1.7v1.7h-1.7zM151.0 330.2h1.7v1.7h-1.7zM139.0 331.7h1.7v1.7h-1.7zM140.5 331.7h1.7v1.7h-1.7zM142.0 331.7h1.7v1.7h-1.7zM143.5 331.7h1.7v1.7h-1.7zM140.5 333.2h1.7v1.7h-1.7zM142.0 333.2h1.7v1.7h-1.7zM134.5 334.7h1.7v1.7h-1.7zM136.0 334.7h1.7v1.7h-1.7zM140.5 334.7h1.7v1.7h-1.7zM134.5 336.2h1.7v1.7h-1.7zM136.0 336.2h1.7v1.7h-1.7zM143.5 337.7h1.7v1.7h-1.7zM125.5 339.2h1.7v1.7h-1.7zM143.5 339.2h1.7v1.7h-1.7zM146.5 339.2h1.7v1.7h-1.7zM148.0 339.2h1.7v1.7h-1.7zM149.5 339.2h1.7v1.7h-1.7zM148.0 340.7h1.7v1.7h-1.7zM149.5 340.7h1.7v1.7h-1.7zM151.0 340.7h1.7v1.7h-1.7zM145.0 342.2h1.7v1.7h-1.7zM148.0 342.2h1.7v1.7h-1.7zM149.5 342.2h1.7v1.7h-1.7zM151.0 342.2h1.7v1.7h-1.7zM122.5 343.7h1.7v1.7h-1.7zM140.5 343.7h1.7v1.7h-1.7zM143.5 343.7h1.7v1.7h-1.7zM145.0 343.7h1.7v1.7h-1.7zM146.5 343.7h1.7v1.7h-1.7zM148.0 343.7h1.7v1.7h-1.7zM149.5 343.7h1.7v1.7h-1.7zM151.0 343.7h1.7v1.7h-1.7zM142.0 345.2h1.7v1.7h-1.7zM143.5 345.2h1.7v1.7h-1.7zM145.0 345.2h1.7v1.7h-1.7zM148.0 345.2h1.7v1.7h-1.7zM149.5 345.2h1.7v1.7h-1.7zM151.0 345.2h1.7v1.7h-1.7zM152.5 345.2h1.7v1.7h-1.7zM140.5 346.7h1.7v1.7h-1.7zM145.0 346.7h1.7v1.7h-1.7zM149.5 346.7h1.7v1.7h-1.7zM151.0 346.7h1.7v1.7h-1.7zM152.5 346.7h1.7v1.7h-1.7zM127.0 348.2h1.7v1.7h-1.7zM128.5 348.2h1.7v1.7h-1.7zM145.0 348.2h1.7v1.7h-1.7zM148.0 348.2h1.7v1.7h-1.7zM149.5 348.2h1.7v1.7h-1.7zM151.0 348.2h1.7v1.7h-1.7zM152.5 348.2h1.7v1.7h-1.7zM143.5 349.7h1.7v1.7h-1.7zM145.0 349.7h1.7v1.7h-1.7zM148.0 349.7h1.7v1.7h-1.7zM149.5 349.7h1.7v1.7h-1.7zM151.0 349.7h1.7v1.7h-1.7zM152.5 349.7h1.7v1.7h-1.7zM136.0 351.2h1.7v1.7h-1.7zM127.0 352.7h1.7v1.7h-1.7zM128.5 352.7h1.7v1.7h-1.7zM149.5 352.7h1.7v1.7h-1.7zM151.0 352.7h1.7v1.7h-1.7zM152.5 352.7h1.7v1.7h-1.7zM148.0 354.2h1.7v1.7h-1.7zM154.0 354.2h1.7v1.7h-1.7zM160.0 354.2h1.7v1.7h-1.7zM140.5 357.2h1.7v1.7h-1.7zM142.0 357.2h1.7v1.7h-1.7zM143.5 357.2h1.7v1.7h-1.7zM145.0 357.2h1.7v1.7h-1.7zM163.0 357.2h1.7v1.7h-1.7zM133.0 358.7h1.7v1.7h-1.7zM151.0 358.7h1.7v1.7h-1.7zM152.5 358.7h1.7v1.7h-1.7zM154.0 358.7h1.7v1.7h-1.7zM160.0 358.7h1.7v1.7h-1.7zM161.5 358.7h1.7v1.7h-1.7zM128.5 360.2h1.7v1.7h-1.7zM130.0 360.2h1.7v1.7h-1.7zM139.0 360.2h1.7v1.7h-1.7zM140.5 360.2h1.7v1.7h-1.7zM143.5 360.2h1.7v1.7h-1.7zM151.0 360.2h1.7v1.7h-1.7zM152.5 360.2h1.7v1.7h-1.7zM154.0 360.2h1.7v1.7h-1.7zM137.5 361.7h1.7v1.7h-1.7zM145.0 361.7h1.7v1.7h-1.7zM149.5 361.7h1.7v1.7h-1.7zM151.0 361.7h1.7v1.7h-1.7zM152.5 361.7h1.7v1.7h-1.7zM154.0 361.7h1.7v1.7h-1.7zM158.5 361.7h1.7v1.7h-1.7zM139.0 363.2h1.7v1.7h-1.7zM146.5 363.2h1.7v1.7h-1.7zM148.0 363.2h1.7v1.7h-1.7zM149.5 363.2h1.7v1.7h-1.7zM151.0 363.2h1.7v1.7h-1.7zM152.5 363.2h1.7v1.7h-1.7zM158.5 363.2h1.7v1.7h-1.7zM160.0 363.2h1.7v1.7h-1.7zM142.0 364.7h1.7v1.7h-1.7zM143.5 364.7h1.7v1.7h-1.7zM145.0 364.7h1.7v1.7h-1.7zM178.0 364.7h1.7v1.7h-1.7zM143.5 366.2h1.7v1.7h-1.7zM145.0 366.2h1.7v1.7h-1.7zM146.5 366.2h1.7v1.7h-1.7zM148.0 366.2h1.7v1.7h-1.7zM145.0 367.7h1.7v1.7h-1.7zM146.5 367.7h1.7v1.7h-1.7zM148.0 367.7h1.7v1.7h-1.7zM145.0 369.2h1.7v1.7h-1.7zM146.5 369.2h1.7v1.7h-1.7zM164.5 369.2h1.7v1.7h-1.7zM145.0 370.7h1.7v1.7h-1.7zM164.5 370.7h1.7v1.7h-1.7zM145.0 372.2h1.7v1.7h-1.7zM137.5 373.7h1.7v1.7h-1.7zM143.5 373.7h1.7v1.7h-1.7zM166.0 373.7h1.7v1.7h-1.7zM143.5 375.2h1.7v1.7h-1.7zM145.0 375.2h1.7v1.7h-1.7zM166.0 375.2h1.7v1.7h-1.7zM167.5 375.2h1.7v1.7h-1.7zM143.5 376.7h1.7v1.7h-1.7zM161.5 376.7h1.7v1.7h-1.7zM163.0 376.7h1.7v1.7h-1.7zM164.5 376.7h1.7v1.7h-1.7zM166.0 376.7h1.7v1.7h-1.7zM167.5 376.7h1.7v1.7h-1.7zM131.5 378.2h1.7v1.7h-1.7zM163.0 378.2h1.7v1.7h-1.7zM164.5 378.2h1.7v1.7h-1.7zM166.0 378.2h1.7v1.7h-1.7zM167.5 378.2h1.7v1.7h-1.7zM127.0 379.7h1.7v1.7h-1.7zM131.5 379.7h1.7v1.7h-1.7zM163.0 379.7h1.7v1.7h-1.7zM164.5 379.7h1.7v1.7h-1.7zM166.0 379.7h1.7v1.7h-1.7zM163.0 381.2h1.7v1.7h-1.7zM164.5 381.2h1.7v1.7h-1.7zM166.0 381.2h1.7v1.7h-1.7zM136.0 382.7h1.7v1.7h-1.7zM163.0 382.7h1.7v1.7h-1.7zM164.5 382.7h1.7v1.7h-1.7zM136.0 385.7h1.7v1.7h-1.7zM160.0 393.2h1.7v1.7h-1.7zM160.0 394.7h1.7v1.7h-1.7zM133.0 399.2h1.7v1.7h-1.7zM167.5 400.7h1.7v1.7h-1.7zM163.0 402.2h1.7v1.7h-1.7zM167.5 402.2h1.7v1.7h-1.7zM169.0 402.2h1.7v1.7h-1.7zM167.5 403.7h1.7v1.7h-1.7zM169.0 403.7h1.7v1.7h-1.7zM169.0 405.2h1.7v1.7h-1.7z"/>
<path fill="#d56aba" d="M152.5 283.7h1.7v1.7h-1.7zM157.0 283.7h1.7v1.7h-1.7zM121.0 285.2h1.7v1.7h-1.7zM122.5 285.2h1.7v1.7h-1.7zM155.5 285.2h1.7v1.7h-1.7zM160.0 285.2h1.7v1.7h-1.7zM154.0 286.7h1.7v1.7h-1.7zM155.5 286.7h1.7v1.7h-1.7zM158.5 286.7h1.7v1.7h-1.7zM160.0 286.7h1.7v1.7h-1.7zM161.5 286.7h1.7v1.7h-1.7zM163.0 286.7h1.7v1.7h-1.7zM154.0 288.2h1.7v1.7h-1.7zM160.0 288.2h1.7v1.7h-1.7zM161.5 288.2h1.7v1.7h-1.7zM163.0 288.2h1.7v1.7h-1.7zM154.0 289.7h1.7v1.7h-1.7zM155.5 289.7h1.7v1.7h-1.7zM160.0 289.7h1.7v1.7h-1.7zM161.5 289.7h1.7v1.7h-1.7zM163.0 289.7h1.7v1.7h-1.7zM154.0 291.2h1.7v1.7h-1.7zM161.5 291.2h1.7v1.7h-1.7zM163.0 291.2h1.7v1.7h-1.7zM164.5 291.2h1.7v1.7h-1.7zM161.5 292.7h1.7v1.7h-1.7zM175.0 297.2h1.7v1.7h-1.7zM77.5 300.2h1.7v1.7h-1.7zM169.0 301.7h1.7v1.7h-1.7zM73.0 316.7h1.7v1.7h-1.7zM79.0 318.2h1.7v1.7h-1.7zM179.5 321.2h1.7v1.7h-1.7zM181.0 321.2h1.7v1.7h-1.7zM182.5 321.2h1.7v1.7h-1.7zM53.5 322.7h1.7v1.7h-1.7zM55.0 322.7h1.7v1.7h-1.7zM178.0 322.7h1.7v1.7h-1.7zM179.5 322.7h1.7v1.7h-1.7zM181.0 322.7h1.7v1.7h-1.7zM182.5 322.7h1.7v1.7h-1.7zM184.0 322.7h1.7v1.7h-1.7zM55.0 324.2h1.7v1.7h-1.7zM92.5 324.2h1.7v1.7h-1.7zM178.0 324.2h1.7v1.7h-1.7zM181.0 324.2h1.7v1.7h-1.7zM182.5 324.2h1.7v1.7h-1.7zM184.0 324.2h1.7v1.7h-1.7zM185.5 324.2h1.7v1.7h-1.7zM47.5 325.7h1.7v1.7h-1.7zM94.0 325.7h1.7v1.7h-1.7zM178.0 325.7h1.7v1.7h-1.7zM179.5 325.7h1.7v1.7h-1.7zM181.0 325.7h1.7v1.7h-1.7zM47.5 327.2h1.7v1.7h-1.7zM49.0 327.2h1.7v1.7h-1.7zM179.5 327.2h1.7v1.7h-1.7zM181.0 327.2h1.7v1.7h-1.7zM49.0 328.7h1.7v1.7h-1.7zM103.0 328.7h1.7v1.7h-1.7zM104.5 328.7h1.7v1.7h-1.7zM184.0 328.7h1.7v1.7h-1.7zM140.5 330.2h1.7v1.7h-1.7zM182.5 330.2h1.7v1.7h-1.7zM181.0 331.7h1.7v1.7h-1.7zM41.5 333.2h1.7v1.7h-1.7zM179.5 333.2h1.7v1.7h-1.7zM181.0 333.2h1.7v1.7h-1.7zM178.0 334.7h1.7v1.7h-1.7zM179.5 334.7h1.7v1.7h-1.7zM181.0 334.7h1.7v1.7h-1.7zM182.5 334.7h1.7v1.7h-1.7zM80.5 336.2h1.7v1.7h-1.7zM82.0 336.2h1.7v1.7h-1.7zM179.5 336.2h1.7v1.7h-1.7zM181.0 336.2h1.7v1.7h-1.7zM182.5 336.2h1.7v1.7h-1.7zM176.5 339.2h1.7v1.7h-1.7zM178.0 339.2h1.7v1.7h-1.7zM179.5 339.2h1.7v1.7h-1.7zM181.0 339.2h1.7v1.7h-1.7zM178.0 340.7h1.7v1.7h-1.7zM179.5 340.7h1.7v1.7h-1.7zM181.0 340.7h1.7v1.7h-1.7zM182.5 340.7h1.7v1.7h-1.7zM64.0 342.2h1.7v1.7h-1.7zM178.0 342.2h1.7v1.7h-1.7zM179.5 342.2h1.7v1.7h-1.7zM181.0 342.2h1.7v1.7h-1.7zM182.5 342.2h1.7v1.7h-1.7zM163.0 343.7h1.7v1.7h-1.7zM164.5 343.7h1.7v1.7h-1.7zM166.0 343.7h1.7v1.7h-1.7zM178.0 343.7h1.7v1.7h-1.7zM181.0 343.7h1.7v1.7h-1.7zM163.0 345.2h1.7v1.7h-1.7zM164.5 345.2h1.7v1.7h-1.7zM166.0 345.2h1.7v1.7h-1.7zM167.5 345.2h1.7v1.7h-1.7zM169.0 345.2h1.7v1.7h-1.7zM190.0 345.2h1.7v1.7h-1.7zM164.5 346.7h1.7v1.7h-1.7zM166.0 346.7h1.7v1.7h-1.7zM167.5 346.7h1.7v1.7h-1.7zM175.0 346.7h1.7v1.7h-1.7zM166.0 348.2h1.7v1.7h-1.7zM178.0 352.7h1.7v1.7h-1.7zM176.5 354.2h1.7v1.7h-1.7zM178.0 354.2h1.7v1.7h-1.7zM179.5 354.2h1.7v1.7h-1.7zM181.0 354.2h1.7v1.7h-1.7zM92.5 355.7h1.7v1.7h-1.7zM161.5 355.7h1.7v1.7h-1.7zM163.0 355.7h1.7v1.7h-1.7zM176.5 355.7h1.7v1.7h-1.7zM178.0 355.7h1.7v1.7h-1.7zM179.5 355.7h1.7v1.7h-1.7zM181.0 355.7h1.7v1.7h-1.7zM160.0 357.2h1.7v1.7h-1.7zM161.5 357.2h1.7v1.7h-1.7zM178.0 357.2h1.7v1.7h-1.7zM179.5 357.2h1.7v1.7h-1.7zM157.0 361.7h1.7v1.7h-1.7zM157.0 364.7h1.7v1.7h-1.7zM158.5 364.7h1.7v1.7h-1.7zM160.0 364.7h1.7v1.7h-1.7zM161.5 364.7h1.7v1.7h-1.7zM163.0 364.7h1.7v1.7h-1.7zM157.0 366.2h1.7v1.7h-1.7zM163.0 366.2h1.7v1.7h-1.7zM164.5 366.2h1.7v1.7h-1.7zM166.0 366.2h1.7v1.7h-1.7zM169.0 366.2h1.7v1.7h-1.7zM170.5 366.2h1.7v1.7h-1.7zM158.5 367.7h1.7v1.7h-1.7zM167.5 367.7h1.7v1.7h-1.7zM169.0 367.7h1.7v1.7h-1.7zM176.5 372.2h1.7v1.7h-1.7zM178.0 372.2h1.7v1.7h-1.7zM178.0 373.7h1.7v1.7h-1.7zM164.5 375.2h1.7v1.7h-1.7zM176.5 375.2h1.7v1.7h-1.7zM176.5 376.7h1.7v1.7h-1.7zM173.5 378.2h1.7v1.7h-1.7zM175.0 378.2h1.7v1.7h-1.7zM176.5 378.2h1.7v1.7h-1.7zM172.0 379.7h1.7v1.7h-1.7zM173.5 379.7h1.7v1.7h-1.7zM175.0 379.7h1.7v1.7h-1.7zM176.5 379.7h1.7v1.7h-1.7zM178.0 379.7h1.7v1.7h-1.7zM172.0 381.2h1.7v1.7h-1.7zM173.5 381.2h1.7v1.7h-1.7zM175.0 381.2h1.7v1.7h-1.7zM176.5 381.2h1.7v1.7h-1.7zM178.0 381.2h1.7v1.7h-1.7zM173.5 382.7h1.7v1.7h-1.7zM175.0 382.7h1.7v1.7h-1.7zM176.5 382.7h1.7v1.7h-1.7zM76.0 391.7h1.7v1.7h-1.7zM161.5 393.2h1.7v1.7h-1.7zM173.5 396.2h1.7v1.7h-1.7zM175.0 396.2h1.7v1.7h-1.7zM176.5 396.2h1.7v1.7h-1.7zM178.0 396.2h1.7v1.7h-1.7zM67.0 397.7h1.7v1.7h-1.7zM173.5 397.7h1.7v1.7h-1.7zM175.0 397.7h1.7v1.7h-1.7zM176.5 397.7h1.7v1.7h-1.7zM59.5 399.2h1.7v1.7h-1.7zM67.0 399.2h1.7v1.7h-1.7zM88.0 399.2h1.7v1.7h-1.7zM89.5 399.2h1.7v1.7h-1.7zM59.5 400.7h1.7v1.7h-1.7zM82.0 400.7h1.7v1.7h-1.7zM59.5 402.2h1.7v1.7h-1.7zM59.5 405.2h1.7v1.7h-1.7zM164.5 405.2h1.7v1.7h-1.7zM68.5 406.7h1.7v1.7h-1.7zM166.0 406.7h1.7v1.7h-1.7zM50.5 411.2h1.7v1.7h-1.7zM52.0 411.2h1.7v1.7h-1.7zM61.0 411.2h1.7v1.7h-1.7zM71.5 411.2h1.7v1.7h-1.7zM173.5 411.2h1.7v1.7h-1.7zM175.0 411.2h1.7v1.7h-1.7zM61.0 412.7h1.7v1.7h-1.7zM64.0 412.7h1.7v1.7h-1.7zM65.5 412.7h1.7v1.7h-1.7zM70.0 412.7h1.7v1.7h-1.7zM71.5 412.7h1.7v1.7h-1.7zM94.0 412.7h1.7v1.7h-1.7zM97.0 412.7h1.7v1.7h-1.7zM173.5 412.7h1.7v1.7h-1.7zM175.0 412.7h1.7v1.7h-1.7zM53.5 414.2h1.7v1.7h-1.7zM56.5 414.2h1.7v1.7h-1.7zM64.0 414.2h1.7v1.7h-1.7zM65.5 414.2h1.7v1.7h-1.7zM67.0 414.2h1.7v1.7h-1.7zM70.0 414.2h1.7v1.7h-1.7zM71.5 414.2h1.7v1.7h-1.7zM73.0 414.2h1.7v1.7h-1.7zM79.0 414.2h1.7v1.7h-1.7zM95.5 414.2h1.7v1.7h-1.7zM97.0 414.2h1.7v1.7h-1.7zM176.5 414.2h1.7v1.7h-1.7zM53.5 415.7h1.7v1.7h-1.7zM55.0 415.7h1.7v1.7h-1.7zM71.5 415.7h1.7v1.7h-1.7zM79.0 415.7h1.7v1.7h-1.7zM176.5 415.7h1.7v1.7h-1.7zM53.5 417.2h1.7v1.7h-1.7zM55.0 417.2h1.7v1.7h-1.7zM175.0 417.2h1.7v1.7h-1.7zM176.5 417.2h1.7v1.7h-1.7zM70.0 418.7h1.7v1.7h-1.7zM65.5 420.2h1.7v1.7h-1.7zM67.0 420.2h1.7v1.7h-1.7zM68.5 420.2h1.7v1.7h-1.7zM100.0 420.2h1.7v1.7h-1.7zM59.5 421.7h1.7v1.7h-1.7zM61.0 421.7h1.7v1.7h-1.7zM68.5 421.7h1.7v1.7h-1.7zM77.5 421.7h1.7v1.7h-1.7zM100.0 421.7h1.7v1.7h-1.7zM59.5 423.2h1.7v1.7h-1.7zM62.5 423.2h1.7v1.7h-1.7zM70.0 423.2h1.7v1.7h-1.7zM61.0 424.7h1.7v1.7h-1.7zM62.5 424.7h1.7v1.7h-1.7zM64.0 424.7h1.7v1.7h-1.7zM70.0 424.7h1.7v1.7h-1.7zM62.5 426.2h1.7v1.7h-1.7zM71.5 426.2h1.7v1.7h-1.7zM73.0 426.2h1.7v1.7h-1.7z"/>
<path fill="#8cab8e" d="M98.5 286.7h1.7v1.7h-1.7zM101.5 288.2h1.7v1.7h-1.7zM101.5 289.7h1.7v1.7h-1.7zM95.5 298.7h1.7v1.7h-1.7zM95.5 300.2h1.7v1.7h-1.7zM95.5 301.7h1.7v1.7h-1.7zM82.0 306.2h1.7v1.7h-1.7zM88.0 312.2h1.7v1.7h-1.7zM89.5 312.2h1.7v1.7h-1.7zM88.0 313.7h1.7v1.7h-1.7zM89.5 313.7h1.7v1.7h-1.7zM91.0 313.7h1.7v1.7h-1.7zM89.5 355.7h1.7v1.7h-1.7zM88.0 357.2h1.7v1.7h-1.7zM89.5 357.2h1.7v1.7h-1.7zM89.5 358.7h1.7v1.7h-1.7zM83.5 363.2h1.7v1.7h-1.7zM85.0 363.2h1.7v1.7h-1.7zM86.5 363.2h1.7v1.7h-1.7zM88.0 363.2h1.7v1.7h-1.7zM80.5 364.7h1.7v1.7h-1.7zM82.0 364.7h1.7v1.7h-1.7zM83.5 364.7h1.7v1.7h-1.7zM85.0 364.7h1.7v1.7h-1.7zM86.5 364.7h1.7v1.7h-1.7zM82.0 366.2h1.7v1.7h-1.7zM83.5 366.2h1.7v1.7h-1.7zM79.0 367.7h1.7v1.7h-1.7zM82.0 367.7h1.7v1.7h-1.7zM80.5 369.2h1.7v1.7h-1.7zM98.5 369.2h1.7v1.7h-1.7zM80.5 370.7h1.7v1.7h-1.7zM82.0 370.7h1.7v1.7h-1.7zM83.5 370.7h1.7v1.7h-1.7zM85.0 370.7h1.7v1.7h-1.7zM86.5 370.7h1.7v1.7h-1.7zM97.0 370.7h1.7v1.7h-1.7zM98.5 370.7h1.7v1.7h-1.7zM71.5 372.2h1.7v1.7h-1.7zM82.0 372.2h1.7v1.7h-1.7zM83.5 372.2h1.7v1.7h-1.7zM85.0 372.2h1.7v1.7h-1.7zM86.5 372.2h1.7v1.7h-1.7zM88.0 372.2h1.7v1.7h-1.7zM89.5 372.2h1.7v1.7h-1.7zM91.0 372.2h1.7v1.7h-1.7zM97.0 372.2h1.7v1.7h-1.7zM98.5 372.2h1.7v1.7h-1.7zM83.5 373.7h1.7v1.7h-1.7zM85.0 373.7h1.7v1.7h-1.7zM86.5 373.7h1.7v1.7h-1.7zM88.0 373.7h1.7v1.7h-1.7zM86.5 375.2h1.7v1.7h-1.7z"/>
<path fill="#d5836c" d="M175.0 312.2h1.7v1.7h-1.7zM175.0 313.7h1.7v1.7h-1.7zM173.5 318.2h1.7v1.7h-1.7zM178.0 321.2h1.7v1.7h-1.7zM184.0 321.2h1.7v1.7h-1.7zM173.5 327.2h1.7v1.7h-1.7zM175.0 327.2h1.7v1.7h-1.7zM176.5 327.2h1.7v1.7h-1.7zM178.0 327.2h1.7v1.7h-1.7zM173.5 328.7h1.7v1.7h-1.7zM175.0 328.7h1.7v1.7h-1.7zM176.5 328.7h1.7v1.7h-1.7zM179.5 331.7h1.7v1.7h-1.7zM170.5 336.2h1.7v1.7h-1.7zM176.5 340.7h1.7v1.7h-1.7zM182.5 343.7h1.7v1.7h-1.7zM190.0 343.7h1.7v1.7h-1.7zM176.5 345.2h1.7v1.7h-1.7zM181.0 345.2h1.7v1.7h-1.7zM190.0 346.7h1.7v1.7h-1.7zM188.5 357.2h1.7v1.7h-1.7zM188.5 358.7h1.7v1.7h-1.7zM172.0 367.7h1.7v1.7h-1.7zM172.0 370.7h1.7v1.7h-1.7zM170.5 372.2h1.7v1.7h-1.7zM172.0 372.2h1.7v1.7h-1.7zM152.5 373.7h1.7v1.7h-1.7zM154.0 373.7h1.7v1.7h-1.7zM170.5 373.7h1.7v1.7h-1.7zM172.0 373.7h1.7v1.7h-1.7zM170.5 375.2h1.7v1.7h-1.7zM172.0 375.2h1.7v1.7h-1.7zM140.5 376.7h1.7v1.7h-1.7zM190.0 378.2h1.7v1.7h-1.7zM169.0 379.7h1.7v1.7h-1.7zM169.0 381.2h1.7v1.7h-1.7zM188.5 381.2h1.7v1.7h-1.7zM169.0 382.7h1.7v1.7h-1.7zM170.5 384.2h1.7v1.7h-1.7zM179.5 384.2h1.7v1.7h-1.7zM158.5 385.7h1.7v1.7h-1.7zM160.0 385.7h1.7v1.7h-1.7zM176.5 385.7h1.7v1.7h-1.7zM178.0 385.7h1.7v1.7h-1.7zM157.0 387.2h1.7v1.7h-1.7zM158.5 387.2h1.7v1.7h-1.7zM160.0 387.2h1.7v1.7h-1.7zM161.5 387.2h1.7v1.7h-1.7zM155.5 388.7h1.7v1.7h-1.7zM157.0 388.7h1.7v1.7h-1.7zM158.5 388.7h1.7v1.7h-1.7zM157.0 390.2h1.7v1.7h-1.7zM158.5 390.2h1.7v1.7h-1.7zM160.0 403.7h1.7v1.7h-1.7z"/>
<path fill="#d99453" d="M56.5 313.7h1.7v1.7h-1.7zM164.5 358.7h1.7v1.7h-1.7zM139.0 372.2h1.7v1.7h-1.7zM173.5 372.2h1.7v1.7h-1.7zM152.5 375.2h1.7v1.7h-1.7zM154.0 375.2h1.7v1.7h-1.7zM154.0 376.7h1.7v1.7h-1.7zM170.5 376.7h1.7v1.7h-1.7zM172.0 376.7h1.7v1.7h-1.7zM158.5 378.2h1.7v1.7h-1.7zM160.0 378.2h1.7v1.7h-1.7zM169.0 378.2h1.7v1.7h-1.7zM160.0 379.7h1.7v1.7h-1.7zM167.5 381.2h1.7v1.7h-1.7zM167.5 384.2h1.7v1.7h-1.7zM169.0 384.2h1.7v1.7h-1.7zM155.5 385.7h1.7v1.7h-1.7zM157.0 385.7h1.7v1.7h-1.7zM170.5 385.7h1.7v1.7h-1.7zM154.0 387.2h1.7v1.7h-1.7zM155.5 387.2h1.7v1.7h-1.7zM170.5 387.2h1.7v1.7h-1.7zM161.5 388.7h1.7v1.7h-1.7zM163.0 388.7h1.7v1.7h-1.7zM170.5 388.7h1.7v1.7h-1.7zM172.0 388.7h1.7v1.7h-1.7zM163.0 390.2h1.7v1.7h-1.7zM169.0 390.2h1.7v1.7h-1.7zM170.5 390.2h1.7v1.7h-1.7zM172.0 390.2h1.7v1.7h-1.7zM158.5 391.7h1.7v1.7h-1.7zM163.0 391.7h1.7v1.7h-1.7zM164.5 391.7h1.7v1.7h-1.7zM169.0 391.7h1.7v1.7h-1.7zM170.5 391.7h1.7v1.7h-1.7zM172.0 391.7h1.7v1.7h-1.7zM170.5 393.2h1.7v1.7h-1.7zM172.0 393.2h1.7v1.7h-1.7zM169.0 394.7h1.7v1.7h-1.7zM170.5 394.7h1.7v1.7h-1.7zM172.0 394.7h1.7v1.7h-1.7zM169.0 396.2h1.7v1.7h-1.7zM170.5 396.2h1.7v1.7h-1.7zM172.0 396.2h1.7v1.7h-1.7zM179.5 396.2h1.7v1.7h-1.7zM154.0 397.7h1.7v1.7h-1.7zM170.5 397.7h1.7v1.7h-1.7zM178.0 397.7h1.7v1.7h-1.7zM179.5 397.7h1.7v1.7h-1.7zM148.0 399.2h1.7v1.7h-1.7zM149.5 399.2h1.7v1.7h-1.7zM175.0 399.2h1.7v1.7h-1.7zM176.5 399.2h1.7v1.7h-1.7zM178.0 399.2h1.7v1.7h-1.7zM175.0 400.7h1.7v1.7h-1.7zM176.5 400.7h1.7v1.7h-1.7zM178.0 400.7h1.7v1.7h-1.7zM179.5 400.7h1.7v1.7h-1.7zM158.5 402.2h1.7v1.7h-1.7zM160.0 402.2h1.7v1.7h-1.7zM161.5 403.7h1.7v1.7h-1.7zM164.5 406.7h1.7v1.7h-1.7zM175.0 418.7h1.7v1.7h-1.7z"/>
<path fill="#ba8385" d="M163.0 325.7h1.7v1.7h-1.7zM164.5 325.7h1.7v1.7h-1.7zM161.5 327.2h1.7v1.7h-1.7zM163.0 327.2h1.7v1.7h-1.7zM164.5 327.2h1.7v1.7h-1.7zM161.5 328.7h1.7v1.7h-1.7zM163.0 328.7h1.7v1.7h-1.7zM166.0 331.7h1.7v1.7h-1.7zM167.5 331.7h1.7v1.7h-1.7zM163.0 333.2h1.7v1.7h-1.7zM164.5 333.2h1.7v1.7h-1.7zM166.0 333.2h1.7v1.7h-1.7zM167.5 333.2h1.7v1.7h-1.7zM164.5 334.7h1.7v1.7h-1.7zM166.0 334.7h1.7v1.7h-1.7zM163.0 336.2h1.7v1.7h-1.7zM163.0 337.7h1.7v1.7h-1.7zM161.5 343.7h1.7v1.7h-1.7zM161.5 345.2h1.7v1.7h-1.7zM175.0 345.2h1.7v1.7h-1.7zM169.0 348.2h1.7v1.7h-1.7zM172.0 348.2h1.7v1.7h-1.7zM158.5 349.7h1.7v1.7h-1.7zM167.5 349.7h1.7v1.7h-1.7zM158.5 351.2h1.7v1.7h-1.7zM166.0 351.2h1.7v1.7h-1.7zM172.0 351.2h1.7v1.7h-1.7zM164.5 352.7h1.7v1.7h-1.7zM166.0 352.7h1.7v1.7h-1.7zM166.0 354.2h1.7v1.7h-1.7zM167.5 355.7h1.7v1.7h-1.7zM154.0 364.7h1.7v1.7h-1.7zM154.0 367.7h1.7v1.7h-1.7zM151.0 369.2h1.7v1.7h-1.7zM170.5 369.2h1.7v1.7h-1.7zM77.5 370.7h1.7v1.7h-1.7zM77.5 372.2h1.7v1.7h-1.7z"/>
<path fill="#d14775" d="M172.0 327.2h1.7v1.7h-1.7zM172.0 328.7h1.7v1.7h-1.7zM176.5 342.2h1.7v1.7h-1.7zM176.5 343.7h1.7v1.7h-1.7zM182.5 345.2h1.7v1.7h-1.7zM169.0 349.7h1.7v1.7h-1.7zM170.5 349.7h1.7v1.7h-1.7zM169.0 351.2h1.7v1.7h-1.7zM170.5 351.2h1.7v1.7h-1.7zM188.5 360.2h1.7v1.7h-1.7z"/></g>
<ellipse cx="116.5" cy="359.5" rx="85.5" ry="87.8" fill="none" stroke="#111" stroke-width="2"/>
<line x1="116.6" y1="271.7" x2="116.6" y2="447.3" stroke="#111" stroke-width="1.8"/>
<line x1="31" y1="359.6" x2="202" y2="359.6" stroke="#111" stroke-width="1.8"/>
<g clip-path="url(#tri)"><g filter="url(#jet)">
<rect x="250" y="284" width="245" height="142" fill="url(#ipfg)"/>
<ellipse cx="489.5" cy="289" rx="60" ry="78" fill="url(#g)" opacity="0.270" style="mix-blend-mode:plus-lighter"/>
<ellipse cx="486" cy="325" rx="48" ry="66" fill="url(#g)" opacity="0.150" style="mix-blend-mode:plus-lighter"/>
<ellipse cx="479" cy="357" rx="36" ry="54" fill="url(#g)" opacity="0.070" style="mix-blend-mode:plus-lighter"/>
</g>
<path d="M468.1 288.8 468.1 290.5 468.1 292.1 468.2 293.8 468.3 295.4 468.4 297.1 468.5 298.7 468.7 300.3 468.9 302.0 469.1 303.5 469.3 305.1 469.6 306.7 469.9 308.2 470.2 309.7 470.5 311.2 470.8 312.7 471.2 314.1 471.6 315.5 472.0 316.8 472.5 318.2 472.9 319.5 473.4 320.7 473.9 321.9 474.4 323.1 475.0 324.2 475.5 325.3 476.1 326.3 476.7 327.3 477.3 328.2 478.0 329.1 478.6 329.9 479.3 330.6 480.0 331.3 480.7 332.0 481.4 332.5 482.2 333.1 482.9 333.5 483.7 333.9 484.4 334.2 485.2 334.5 485.9 334.6M445.1 288.8 445.1 291.9 445.1 294.9 445.2 298.0 445.4 301.0 445.5 304.1 445.7 307.1 446.0 310.1 446.3 313.1 446.6 316.1 447.0 319.0 447.4 321.9 447.8 324.8 448.3 327.6 448.8 330.4 449.3 333.2 449.9 335.9 450.5 338.5 451.2 341.2 451.9 343.7 452.7 346.2 453.4 348.7 454.3 351.0 455.1 353.3 456.0 355.6 456.9 357.8 457.9 359.8 458.9 361.9 460.0 363.8 461.1 365.6 462.2 367.4 463.4 369.0 464.6 370.6 465.8 372.0 467.1 373.4 468.4 374.7 469.7 375.8 471.1 376.8 472.5 377.7 474.0 378.5 475.3 379.1M420.6 288.8 420.6 293.0 420.7 297.3 420.8 301.5 420.9 305.7 421.1 309.9 421.4 314.1 421.6 318.3 422.0 322.5 422.3 326.6 422.7 330.7 423.2 334.7 423.7 338.8 424.3 342.7 424.8 346.7 425.5 350.6 426.2 354.4 426.9 358.2 427.7 361.9 428.5 365.6 429.4 369.2 430.3 372.7 431.3 376.2 432.3 379.6 433.4 382.9 434.5 386.1 435.7 389.2 437.0 392.3 438.3 395.2 439.6 398.0 441.0 400.7 442.5 403.3 444.0 405.8 445.5 408.2 447.2 410.4 448.9 412.6 450.6 414.5 452.4 416.4 454.3 418.0 456.2 419.6 458.0 420.8M394.8 288.8 394.9 294.0 394.9 299.2 395.0 304.4 395.2 309.6 395.4 314.8 395.6 320.0 395.9 325.1 396.2 330.2 396.6 335.3 397.0 340.4 397.4 345.4 397.9 350.4 398.5 355.3 399.1 360.2 399.7 365.1 400.4 369.9 401.2 374.6 402.0 379.3 402.8 384.0 403.0 384.9M368.0 288.8 368.0 294.8 368.1 300.8 368.2 306.8 368.3 312.7 368.5 318.7 368.7 324.6 369.0 330.6 369.2 336.5 369.6 342.3 369.9 348.2 370.4 354.0 370.8 359.8 371.2 364.3M340.3 288.8 340.3 295.4 340.4 302.0 340.5 308.6 340.6 315.1 340.7 321.7 340.9 328.2 341.1 334.7 341.3 341.2 341.5 345.1M312.0 288.8 312.0 295.8 312.0 302.8 312.1 309.8 312.2 316.8 312.3 323.8 312.3 325.9M283.2 288.8 283.2 296.1 283.2 303.3 283.2 307.0M489.4 288.8 484.8 290.6 480.1 292.3 475.3 293.9 470.4 295.5 465.4 297.0 460.4 298.5 455.2 299.9 450.0 301.2 444.7 302.5 439.3 303.8 433.8 305.0 428.3 306.1 422.7 307.3 417.0 308.3 411.2 309.3 405.4 310.3 399.6 311.2 393.6 312.1 387.6 312.9 381.6 313.7 375.5 314.5 369.4 315.2 363.2 315.9 357.0 316.5 350.7 317.1 344.4 317.7 338.1 318.2 331.7 318.6 325.3 319.1 318.9 319.5 312.4 319.8 305.9 320.2 303.3 320.3M489.4 288.8 485.0 292.3 480.5 295.7 475.9 298.9 471.1 302.1 466.2 305.1 461.3 308.0 456.2 310.8 451.0 313.4 445.8 316.0 440.5 318.5 435.0 320.9 429.5 323.2 423.9 325.4 418.3 327.5 412.5 329.6 406.7 331.5 400.8 333.3 394.9 335.1 388.9 336.8 382.8 338.4 376.7 339.9 370.5 341.3 364.3 342.7 358.0 343.9 351.7 345.1 345.4 346.2 343.4 346.6M489.4 288.9 485.4 294.0 481.1 298.9 476.7 303.7 472.2 308.3 467.5 312.7 462.7 317.0 457.8 321.2 452.8 325.1 447.7 329.0 442.4 332.7 437.1 336.3 431.6 339.7 426.1 343.0 420.4 346.2 414.7 349.2 408.9 352.1 403.0 354.9 397.0 357.5 391.0 360.0 384.9 362.4 378.7 364.7 374.4 366.2M489.5 288.9 485.8 295.5 482.0 301.8 477.9 308.0 473.7 314.0 469.3 319.8 464.8 325.4 460.1 330.9 455.3 336.1 450.3 341.2 445.2 346.1 439.9 350.8 434.6 355.3 429.1 359.7 423.5 363.9 417.8 367.9 412.0 371.8 406.1 375.5 400.1 379.0 397.1 380.7M489.5 288.9 486.4 296.8 483.0 304.4 479.4 311.9 475.6 319.1 471.6 326.2 467.4 333.0 463.0 339.6 458.5 346.1 453.7 352.3 448.8 358.3 443.7 364.2 438.5 369.8 433.1 375.2 427.5 380.4 421.9 385.5 416.1 390.3 414.3 391.7M489.5 288.9 487.0 297.8 484.3 306.5 481.2 315.1 477.9 323.4 474.4 331.6 470.6 339.5 466.6 347.2 462.3 354.8 457.9 362.1 453.2 369.2 448.3 376.1 443.3 382.8 438.0 389.2 432.6 395.4 427.6 400.8M489.5 288.9 487.7 298.6 485.7 308.2 483.3 317.6 480.6 326.8 477.6 335.9 474.3 344.8 470.7 353.5 466.9 362.0 462.8 370.3 458.5 378.4 453.9 386.2 449.1 393.9 444.0 401.3 439.3 407.8M489.5 288.9 488.5 299.1 487.2 309.2 485.5 319.2 483.5 329.1 481.1 338.9 478.4 348.5 475.4 358.0 472.1 367.3 468.5 376.5 464.6 385.5 460.4 394.2 455.9 402.8 451.1 411.1 449.1 414.4" fill="none" stroke="#f0f0ff" stroke-opacity="0.68" stroke-width="0.9"/>
</g>
<path d="M254.2 288.8L489.5 288.8A235.3 264.0 0 0 1 458.0 420.8Z" fill="none" stroke="#333" stroke-width="0.8"/>
<rect x="518.3" y="275.6" width="10.5" height="146.8" fill="url(#cbar)" stroke="#3a3a3a" stroke-width="0.7"/>
<line x1="6.5" y1="9" x2="241" y2="9" stroke="#5b25a3" stroke-width="2.2" stroke-dasharray="6.2 3.0" stroke-dashoffset="0"/>
<line x1="241" y1="9" x2="544" y2="9" stroke="#5b25a3" stroke-width="2.2" stroke-dasharray="6.2 3.06" stroke-dashoffset="5.9"/>
<line x1="6.5" y1="250.6" x2="241" y2="250.6" stroke="#5b25a3" stroke-width="2.2" stroke-dasharray="6.2 2.96" stroke-dashoffset="8.9"/>
<line x1="241" y1="250.6" x2="544" y2="250.6" stroke="#5b25a3" stroke-width="2.2" stroke-dasharray="6.2 3.04" stroke-dashoffset="5.84"/>
<line x1="6.5" y1="454" x2="241" y2="454" stroke="#5b25a3" stroke-width="2.2" stroke-dasharray="6.2 3.05" stroke-dashoffset="3.4"/>
<line x1="241" y1="454" x2="544" y2="454" stroke="#5b25a3" stroke-width="2.2" stroke-dasharray="6.2 2.95" stroke-dashoffset="8.15"/>
<line x1="6.5" y1="9" x2="6.5" y2="454" stroke="#5b25a3" stroke-width="2.2" stroke-dasharray="6.4 2.92" stroke-dashoffset="6.22"/>
<line x1="241" y1="9" x2="241" y2="454" stroke="#5b25a3" stroke-width="2.2" stroke-dasharray="6.4 2.91" stroke-dashoffset="9.03"/>
<line x1="544" y1="9" x2="544" y2="454" stroke="#5b25a3" stroke-width="2.2" stroke-dasharray="6.4 2.96" stroke-dashoffset="7.5"/>
<text x="88.4" y="39.6" font-size="7.3" fill="#3c3c3c" text-anchor="start" font-family="Liberation Sans, DejaVu Sans, sans-serif" textLength="42.6" lengthAdjust="spacingAndGlyphs">⟨0002⟩ - Mg</text>
<text x="103" y="48.3" font-size="6.8" fill="#222" text-anchor="start" font-family="Liberation Sans, DejaVu Sans, sans-serif" textLength="8.6" lengthAdjust="spacingAndGlyphs">X1</text>
<text x="193.8" y="139.6" font-size="7.4" fill="#222" text-anchor="start" font-family="Liberation Sans, DejaVu Sans, sans-serif" textLength="8.4" lengthAdjust="spacingAndGlyphs">Z1</text>
<text x="209.6" y="39" font-size="6.9" fill="#444" text-anchor="start" font-family="Liberation Sans, DejaVu Sans, sans-serif" textLength="18.6" lengthAdjust="spacingAndGlyphs">11.32</text>
<text x="210.7" y="225.8" font-size="7.2" fill="#555" text-anchor="start" font-family="Liberation Sans, DejaVu Sans, sans-serif" textLength="15.8" lengthAdjust="spacingAndGlyphs">0.00</text>
<text x="297.3" y="245" font-size="13.2" fill="#2a2a2a" text-anchor="start" font-family="Liberation Serif, serif" textLength="38.2" lengthAdjust="spacingAndGlyphs" stroke="#2a2a2a" stroke-width="0.25">100µm</text>
<text x="107.6" y="269.4" font-size="14.6" fill="#111" text-anchor="start" font-family="Liberation Sans, DejaVu Sans, sans-serif" textLength="16.8" lengthAdjust="spacingAndGlyphs" stroke="#111" stroke-width="0.3">X1</text>
<text x="205.1" y="365.3" font-size="14.0" fill="#111" text-anchor="start" font-family="Liberation Sans, DejaVu Sans, sans-serif" textLength="16.6" lengthAdjust="spacingAndGlyphs" stroke="#111" stroke-width="0.3">Z1</text>
<text x="362.8" y="272.9" font-size="6.0" fill="#444" text-anchor="start" font-family="Liberation Sans, DejaVu Sans, sans-serif" textLength="20.8" lengthAdjust="spacingAndGlyphs">Y1 - Mg</text>
<text x="246.2" y="287.8" font-size="6.2" fill="#555" text-anchor="start" font-family="Liberation Sans, DejaVu Sans, sans-serif" textLength="13.0" lengthAdjust="spacingAndGlyphs">0001</text>
<text x="480.7" y="287.7" font-size="6.0" fill="#444" text-anchor="start" font-family="Liberation Sans, DejaVu Sans, sans-serif" textLength="18.6" lengthAdjust="spacingAndGlyphs">-12-10</text>
<text x="449.8" y="427.1" font-size="6.1" fill="#555" text-anchor="start" font-family="Liberation Sans, DejaVu Sans, sans-serif" textLength="16.4" lengthAdjust="spacingAndGlyphs">01-10</text>
<text x="517.8" y="272.6" font-size="6.0" fill="#444" text-anchor="start" font-family="Liberation Sans, DejaVu Sans, sans-serif" textLength="11.5" lengthAdjust="spacingAndGlyphs">3.18</text>
<text x="517.1" y="431" font-size="6.2" fill="#555" text-anchor="start" font-family="Liberation Sans, DejaVu Sans, sans-serif" textLength="12.2" lengthAdjust="spacingAndGlyphs">0.17</text>
</svg></body></html>
